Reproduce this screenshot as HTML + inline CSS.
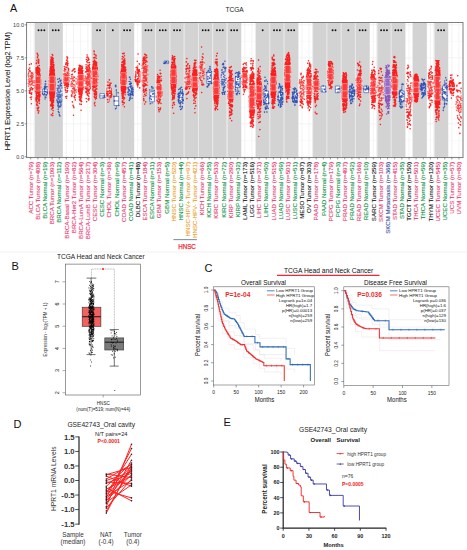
<!DOCTYPE html><html><head><meta charset="utf-8"><style>html,body{margin:0;padding:0;background:#fff;}svg{display:block}</style></head><body>
<svg width="467" height="550" viewBox="0 0 467 550">
<rect width="467" height="550" fill="#fff"/>
<text x="10.0" y="11.6" font-size="10.8" font-family="Liberation Sans, sans-serif" fill="#111">A</text>
<text x="234.6" y="12" font-size="6.6" text-anchor="middle" font-family="Liberation Sans, sans-serif" fill="#222">TCGA</text>
<path d="M26.6 24.80H463.0M26.6 57.80H463.0M26.6 90.80H463.0M26.6 123.80H463.0M26.6 156.80H463.0" stroke="#ebebeb" stroke-width="0.6" fill="none"/>
<path d="M26.6 41.30H463.0M26.6 74.30H463.0M26.6 107.30H463.0M26.6 140.30H463.0" stroke="#f4f4f4" stroke-width="0.5" fill="none"/>
<path d="M30.72 22.5V157.6M37.86 22.5V157.6M44.99 22.5V157.6M52.13 22.5V157.6M59.27 22.5V157.6M66.41 22.5V157.6M73.54 22.5V157.6M80.68 22.5V157.6M87.82 22.5V157.6M94.96 22.5V157.6M102.09 22.5V157.6M109.23 22.5V157.6M116.37 22.5V157.6M123.51 22.5V157.6M130.64 22.5V157.6M137.78 22.5V157.6M144.92 22.5V157.6M152.06 22.5V157.6M159.19 22.5V157.6M166.33 22.5V157.6M173.47 22.5V157.6M180.61 22.5V157.6M187.74 22.5V157.6M194.88 22.5V157.6M202.02 22.5V157.6M209.16 22.5V157.6M216.29 22.5V157.6M223.43 22.5V157.6M230.57 22.5V157.6M237.71 22.5V157.6M244.84 22.5V157.6M251.98 22.5V157.6M259.12 22.5V157.6M266.26 22.5V157.6M273.39 22.5V157.6M280.53 22.5V157.6M287.67 22.5V157.6M294.81 22.5V157.6M301.94 22.5V157.6M309.08 22.5V157.6M316.22 22.5V157.6M323.36 22.5V157.6M330.49 22.5V157.6M337.63 22.5V157.6M344.77 22.5V157.6M351.91 22.5V157.6M359.04 22.5V157.6M366.18 22.5V157.6M373.32 22.5V157.6M380.46 22.5V157.6M387.59 22.5V157.6M394.73 22.5V157.6M401.87 22.5V157.6M409.01 22.5V157.6M416.14 22.5V157.6M423.28 22.5V157.6M430.42 22.5V157.6M437.56 22.5V157.6M444.69 22.5V157.6M451.83 22.5V157.6M458.97 22.5V157.6" stroke="#ededed" stroke-width="0.6" fill="none"/>
<path d="M34.59 23.0H62.84V157.29999999999998H34.59ZM91.69 23.0H105.66V157.29999999999998H91.69ZM105.96 23.0H134.21V157.29999999999998H105.96ZM141.65 23.0H227.00V157.29999999999998H141.65ZM227.30 23.0H241.28V157.29999999999998H227.30ZM255.85 23.0H298.38V157.29999999999998H255.85ZM312.95 23.0H369.75V157.29999999999998H312.95ZM377.19 23.0H405.44V157.29999999999998H377.19ZM412.88 23.0H426.85V157.29999999999998H412.88ZM434.29 23.0H448.26V157.29999999999998H434.29Z" fill="#d3d3d3"/>
<path d="M48.51 23.0V157.29999999999998M34.24 23.0V157.29999999999998M91.34 23.0V157.29999999999998M119.89 23.0V157.29999999999998M105.61 23.0V157.29999999999998M155.57 23.0V157.29999999999998M169.85 23.0V157.29999999999998M184.12 23.0V157.29999999999998M198.40 23.0V157.29999999999998M212.68 23.0V157.29999999999998M141.30 23.0V157.29999999999998M226.95 23.0V157.29999999999998M269.77 23.0V157.29999999999998M284.05 23.0V157.29999999999998M255.50 23.0V157.29999999999998M326.88 23.0V157.29999999999998M341.15 23.0V157.29999999999998M355.42 23.0V157.29999999999998M312.60 23.0V157.29999999999998M391.11 23.0V157.29999999999998M376.84 23.0V157.29999999999998M412.52 23.0V157.29999999999998M433.94 23.0V157.29999999999998" stroke="#ececec" stroke-width="1.0"/>
<path d="M42.69 89H47.29V94.5H42.69ZM42.69 91.75H47.29M44.99 89V83M44.99 94.5V100" stroke="#2448b0" stroke-width="0.6" fill="#fff"/>
<path d="M99.79 93.6H104.39V98.2H99.79ZM99.79 95.9H104.39M102.09 93.6V93.6M102.09 98.2V98.2" stroke="#2448b0" stroke-width="0.6" fill="#fff"/>
<path d="M106.93 88H111.53V96H106.93ZM106.93 92.0H111.53M109.23 88V82M109.23 96V102" stroke="#ff0a0a" stroke-width="0.6" fill="#fff"/>
<path d="M114.07 96.4H118.67V105.5H114.07ZM114.07 100.95H118.67M116.37 96.4V90.4M116.37 105.5V109" stroke="#2448b0" stroke-width="0.6" fill="#fff"/>
<path d="M128.34 87H132.94V94.5H128.34ZM128.34 90.75H132.94M130.64 87V81M130.64 94.5V100" stroke="#2448b0" stroke-width="0.6" fill="#fff"/>
<path d="M135.48 71H140.08V82H135.48ZM135.48 76.5H140.08M137.78 71V65M137.78 82V88" stroke="#ff0a0a" stroke-width="0.6" fill="#fff"/>
<path d="M149.76 91.8H154.36V101.8H149.76ZM149.76 96.8H154.36M152.06 91.8V86M152.06 101.8V104" stroke="#2448b0" stroke-width="0.6" fill="#fff"/>
<path d="M164.03 61H168.63V63.6H164.03ZM164.03 62.3H168.63M166.33 61V61M166.33 63.6V63.6" stroke="#2448b0" stroke-width="0.6" fill="#fff"/>
<path d="M178.31 92.7H182.91V101.8H178.31ZM178.31 97.25H182.91M180.61 92.7V87M180.61 101.8V107.8" stroke="#2448b0" stroke-width="0.6" fill="#fff"/>
<path d="M206.86 72.7H211.46V83.6H206.86ZM206.86 78.15H211.46M209.16 72.7V68M209.16 83.6V85.5" stroke="#2448b0" stroke-width="0.6" fill="#fff"/>
<path d="M235.41 76.4H240.01V87.3H235.41ZM235.41 81.85H240.01M237.71 76.4V72M237.71 87.3V92.7" stroke="#2448b0" stroke-width="0.6" fill="#fff"/>
<path d="M263.96 91H268.56V103.6H263.96ZM263.96 97.3H268.56M266.26 91V85M266.26 103.6V109.6" stroke="#2448b0" stroke-width="0.6" fill="#fff"/>
<path d="M278.23 92.7H282.83V101.8H278.23ZM278.23 97.25H282.83M280.53 92.7V86.7M280.53 101.8V105.5" stroke="#2448b0" stroke-width="0.6" fill="#fff"/>
<path d="M292.51 92.7H297.11V101.8H292.51ZM292.51 97.25H297.11M294.81 92.7V87M294.81 101.8V103.6" stroke="#2448b0" stroke-width="0.6" fill="#fff"/>
<path d="M321.06 86H325.66V92H321.06ZM321.06 89.0H325.66M323.36 86V86M323.36 92V92" stroke="#2448b0" stroke-width="0.6" fill="#fff"/>
<path d="M335.33 86H339.93V92.7H335.33ZM335.33 89.35H339.93M337.63 86V86M337.63 92.7V92.7" stroke="#2448b0" stroke-width="0.6" fill="#fff"/>
<path d="M349.61 89H354.21V96.4H349.61ZM349.61 92.7H354.21M351.91 89V83M351.91 96.4V101.8" stroke="#2448b0" stroke-width="0.6" fill="#fff"/>
<path d="M363.88 86H368.48V92.7H363.88ZM363.88 89.35H368.48M366.18 86V86M366.18 92.7V92.7" stroke="#2448b0" stroke-width="0.6" fill="#fff"/>
<path d="M399.57 91H404.17V101.8H399.57ZM399.57 96.4H404.17M401.87 91V85.5M401.87 101.8V107.8" stroke="#2448b0" stroke-width="0.6" fill="#fff"/>
<path d="M420.98 84H425.58V92H420.98ZM420.98 88.0H425.58M423.28 84V80M423.28 92V96" stroke="#2448b0" stroke-width="0.6" fill="#fff"/>
<path d="M442.39 86H446.99V100H442.39ZM442.39 93.0H446.99M444.69 86V80M444.69 100V106" stroke="#2448b0" stroke-width="0.6" fill="#fff"/>
<path d="M449.53 82.7H454.13V90H449.53ZM449.53 86.35H454.13M451.83 82.7V76.7M451.83 90V96" stroke="#ff0a0a" stroke-width="0.6" fill="#fff"/>
<path d="M28.6 86.0h0M30.1 88.4h0M30.4 76.3h0M28.4 79.8h0M29.2 81.7h0M33.2 76.8h0M29.4 64.5h0M29.9 91.7h0M32.1 88.6h0M31.2 84.1h0M28.5 73.8h0M29.6 92.2h0M31.2 74.5h0M29.6 82.7h0M31.1 78.3h0M32.7 75.0h0M28.7 75.3h0M31.3 99.3h0M31.7 78.0h0M31.1 80.1h0M31.2 75.7h0M30.5 90.1h0M31.5 87.6h0M31.8 74.8h0M30.0 93.2h0M31.7 79.4h0M28.9 72.1h0M32.2 81.9h0M32.8 80.2h0M30.5 93.4h0M32.3 89.8h0M30.3 71.2h0M29.5 93.3h0M29.7 68.1h0M29.7 70.6h0M30.3 81.7h0M31.3 63.9h0M31.3 72.9h0M31.6 94.3h0M32.3 85.1h0M31.5 77.3h0M28.4 83.7h0M28.3 83.4h0M29.3 90.5h0M32.8 78.0h0M28.7 81.2h0M28.7 76.1h0M33.3 85.5h0M28.5 77.0h0M29.4 80.3h0M33.3 80.8h0M28.7 81.3h0M32.9 88.6h0M31.8 81.5h0M32.2 77.1h0M32.3 83.2h0M33.4 82.2h0M31.8 92.8h0M30.8 79.7h0M28.3 74.9h0M31.8 78.1h0M30.4 85.4h0M30.4 97.6h0M29.2 78.7h0M32.9 82.8h0M30.6 89.5h0M31.6 80.9h0M32.3 77.2h0M32.3 75.6h0M32.4 80.6h0M33.0 74.3h0M29.0 84.4h0M31.6 97.0h0M31.4 103.8h0M31.0 76.4h0M28.7 69.5h0M33.0 74.9h0M32.5 73.0h0M29.5 81.3h0M38.3 90.7h0M40.1 79.0h0M37.6 86.0h0M40.0 91.8h0M38.0 77.8h0M36.4 93.9h0M39.5 85.8h0M38.1 68.2h0M38.0 86.1h0M38.2 84.5h0M36.6 79.0h0M39.0 71.1h0M37.5 82.9h0M38.7 71.9h0M38.0 83.1h0M39.4 97.5h0M36.6 78.1h0M36.6 100.9h0M37.6 71.2h0M38.8 83.9h0M40.1 87.3h0M35.9 80.5h0M39.8 69.6h0M37.8 92.8h0M39.7 80.6h0M37.1 72.9h0M36.9 88.4h0M37.6 95.7h0M36.9 86.4h0M40.6 80.0h0M40.5 83.2h0M39.4 83.0h0M35.8 86.2h0M36.9 98.7h0M39.3 65.5h0M35.3 82.2h0M37.4 79.5h0M38.6 107.7h0M39.6 73.6h0M37.2 96.7h0M40.0 75.4h0M36.5 91.6h0M36.6 99.8h0M36.8 88.2h0M36.8 91.5h0M35.2 87.4h0M35.4 91.5h0M37.7 77.5h0M35.6 81.5h0M39.4 73.2h0M37.9 88.2h0M39.5 92.3h0M38.6 82.5h0M35.8 81.6h0M39.2 88.5h0M39.8 85.6h0M38.8 87.0h0M37.6 83.9h0M37.6 91.6h0M38.0 108.7h0M40.3 77.3h0M37.2 83.2h0M37.9 83.9h0M36.5 82.5h0M37.3 83.4h0M36.8 99.0h0M38.0 84.7h0M39.8 75.1h0M37.1 70.7h0M38.6 92.7h0M38.7 107.3h0M39.3 72.5h0M37.9 62.0h0M39.5 92.4h0M39.4 68.4h0M35.2 81.1h0M37.2 71.0h0M38.4 95.6h0M38.7 72.9h0M38.7 100.8h0M38.1 83.9h0M36.9 98.0h0M36.8 95.6h0M40.5 87.9h0M37.4 98.8h0M38.5 76.8h0M36.2 68.4h0M36.7 82.7h0M36.0 99.5h0M38.9 80.3h0M37.0 97.8h0M36.1 72.9h0M36.2 85.9h0M37.6 85.2h0M40.5 82.8h0M40.4 82.7h0M38.3 90.1h0M35.9 76.7h0M38.5 63.3h0M40.1 82.4h0M37.8 84.3h0M36.7 83.6h0M39.5 74.6h0M38.9 96.8h0M38.7 99.6h0M37.0 98.6h0M38.1 55.8h0M37.7 105.6h0M39.7 87.8h0M40.3 84.8h0M36.1 82.4h0M39.9 95.0h0M40.1 88.7h0M38.1 70.9h0M37.7 98.5h0M38.6 88.3h0M36.7 104.6h0M37.0 90.2h0M36.5 81.7h0M37.4 57.1h0M36.0 78.9h0M40.1 87.1h0M40.6 87.4h0M36.8 104.2h0M35.7 91.0h0M36.5 88.3h0M37.5 95.7h0M38.0 73.0h0M36.6 81.7h0M35.8 86.4h0M36.7 70.3h0M36.8 69.5h0M38.8 60.9h0M35.4 91.5h0M37.7 73.7h0M36.3 63.6h0M39.2 99.7h0M36.6 75.5h0M38.6 96.1h0M38.9 93.2h0M38.1 84.5h0M38.7 63.3h0M37.0 95.7h0M36.8 70.7h0M35.4 82.0h0M38.3 79.0h0M35.1 85.7h0M37.7 96.4h0M37.7 71.2h0M36.9 67.7h0M35.2 81.2h0M38.7 75.5h0M40.3 82.8h0M36.0 97.8h0M36.6 70.6h0M39.1 90.5h0M36.9 90.6h0M37.2 108.1h0M40.4 84.0h0M36.3 75.4h0M39.8 71.1h0M37.4 97.0h0M35.4 88.8h0M37.3 81.9h0M40.1 95.2h0M37.1 73.0h0M36.0 98.2h0M37.2 77.2h0M35.1 80.6h0M37.0 88.6h0M36.8 101.3h0M39.0 101.0h0M37.7 80.7h0M40.2 84.8h0M35.9 69.9h0M39.1 99.0h0M35.4 86.0h0M36.5 84.2h0M36.7 90.6h0M38.5 78.3h0M36.6 81.7h0M38.8 67.8h0M36.0 68.1h0M37.8 66.2h0M36.6 92.7h0M37.8 80.8h0M39.1 90.6h0M38.9 99.4h0M37.1 79.5h0M35.7 91.0h0M35.4 83.6h0M38.1 69.6h0M39.4 103.4h0M35.5 81.0h0M37.7 54.6h0M37.4 83.6h0M39.7 76.1h0M36.3 69.2h0M37.1 80.1h0M36.5 95.5h0M40.0 83.7h0M36.9 89.1h0M36.6 95.0h0M38.7 83.0h0M39.4 92.3h0M40.0 90.1h0M36.1 81.0h0M38.3 88.2h0M37.6 70.0h0M39.0 97.5h0M38.4 93.8h0M37.2 91.5h0M38.4 87.5h0M36.3 90.6h0M36.5 70.6h0M36.6 96.4h0M35.6 80.2h0M38.1 82.5h0M38.9 88.4h0M36.6 86.6h0M38.2 91.5h0M37.4 81.1h0M36.4 92.7h0M36.2 83.3h0M39.1 99.2h0M39.9 77.6h0M38.1 84.4h0M40.2 84.9h0M37.9 70.8h0M36.9 71.2h0M37.8 87.6h0M40.5 81.4h0M39.6 99.7h0M36.2 100.1h0M38.3 67.5h0M36.4 97.1h0M39.8 85.2h0M36.3 93.2h0M37.3 74.1h0M36.8 96.6h0M38.2 85.7h0M35.2 81.8h0M38.1 93.2h0M36.9 92.3h0M38.6 74.7h0M37.5 78.4h0M36.8 67.9h0M39.3 75.9h0M35.7 88.2h0M37.6 102.3h0M36.4 63.0h0M35.5 87.6h0M35.3 85.5h0M37.3 72.1h0M40.0 96.0h0M39.1 97.9h0M40.0 94.7h0M36.0 82.2h0M37.0 86.7h0M35.9 82.0h0M35.9 80.7h0M39.3 101.1h0M36.8 82.6h0M36.9 105.3h0M39.5 97.0h0M39.4 77.8h0M37.5 57.8h0M38.2 80.9h0M40.6 86.9h0M37.3 80.4h0M38.3 80.8h0M38.4 112.9h0M35.5 90.6h0M36.9 97.8h0M38.6 96.3h0M35.0 82.2h0M37.6 98.5h0M39.7 94.3h0M35.2 87.3h0M37.5 110.0h0M38.3 75.3h0M36.3 88.9h0M40.2 78.4h0M35.9 84.3h0M38.6 59.4h0M36.9 68.5h0M37.3 69.0h0M37.6 73.7h0M40.2 82.7h0M38.0 69.7h0M39.4 83.8h0M38.1 89.9h0M38.5 87.5h0M38.6 88.5h0M36.7 87.3h0M39.5 97.6h0M39.8 83.3h0M37.7 82.4h0M35.8 76.9h0M35.2 85.5h0M39.8 83.5h0M36.9 68.6h0M37.9 67.8h0M38.6 90.2h0M35.2 87.6h0M37.0 103.0h0M37.2 98.6h0M36.9 78.0h0M38.7 94.9h0M40.3 76.0h0M39.7 91.5h0M38.8 70.8h0M38.5 81.1h0M39.7 95.4h0M40.0 92.1h0M35.8 84.3h0M38.2 110.8h0M39.2 87.3h0M39.1 68.8h0M40.0 78.5h0M38.9 111.0h0M37.2 53.4h0M39.5 91.2h0M36.7 89.7h0M36.8 60.4h0M37.4 85.9h0M36.9 99.0h0M36.8 81.5h0M37.9 74.4h0M37.4 81.7h0M39.4 81.9h0M36.3 80.1h0M36.0 72.0h0M36.2 83.7h0M40.6 83.9h0M38.7 62.2h0M37.8 84.1h0M40.3 87.2h0M36.4 77.0h0M38.6 78.8h0M39.5 83.6h0M37.0 86.6h0M37.4 70.3h0M36.2 100.9h0M36.7 93.9h0M39.7 74.0h0M37.6 83.4h0M38.7 84.0h0M37.2 67.3h0M39.1 91.4h0M37.6 71.6h0M37.6 79.1h0M36.4 81.1h0M39.7 78.7h0M36.5 97.8h0M36.0 78.1h0M36.4 93.9h0M40.5 82.9h0M53.5 73.0h0M52.2 82.0h0M52.8 63.0h0M52.9 78.0h0M54.3 73.6h0M53.2 82.1h0M54.9 83.9h0M49.7 78.6h0M51.7 82.2h0M53.3 84.4h0M53.5 82.8h0M52.3 90.4h0M50.5 86.6h0M53.1 66.1h0M52.5 76.3h0M54.5 75.4h0M53.6 72.0h0M51.3 69.8h0M51.5 96.4h0M51.1 96.5h0M50.3 83.3h0M52.8 102.9h0M52.0 83.8h0M52.8 91.7h0M53.6 69.1h0M52.8 115.6h0M54.0 84.6h0M49.5 78.3h0M51.5 109.1h0M50.3 75.5h0M50.2 85.0h0M53.6 74.7h0M53.5 93.8h0M54.1 75.1h0M53.2 86.9h0M53.4 78.1h0M51.0 92.6h0M50.3 75.2h0M50.4 93.6h0M52.1 87.4h0M54.1 84.2h0M52.5 82.7h0M51.7 88.6h0M50.0 75.6h0M52.8 82.0h0M54.6 81.7h0M52.1 95.0h0M49.5 82.2h0M54.1 77.3h0M52.0 77.3h0M51.8 84.4h0M52.4 76.9h0M51.6 78.7h0M51.3 101.0h0M53.3 97.4h0M51.1 81.3h0M53.4 71.7h0M53.1 70.0h0M51.0 80.5h0M50.4 81.8h0M53.5 72.5h0M52.7 74.6h0M52.6 73.1h0M50.8 72.8h0M50.6 67.7h0M49.6 87.8h0M51.5 95.6h0M53.6 76.2h0M51.7 83.1h0M51.8 91.7h0M52.5 86.5h0M50.0 81.0h0M52.0 64.2h0M51.8 64.7h0M52.1 108.7h0M50.3 73.1h0M49.4 84.8h0M53.0 93.8h0M54.0 91.2h0M49.4 81.8h0M50.4 84.3h0M52.7 113.4h0M50.1 93.1h0M53.1 71.2h0M54.6 90.2h0M49.4 80.4h0M50.8 63.7h0M53.1 69.0h0M49.8 90.7h0M52.5 74.9h0M53.8 81.1h0M52.9 78.6h0M53.6 75.2h0M53.7 88.2h0M54.8 82.6h0M54.0 86.8h0M53.1 62.5h0M51.4 67.1h0M53.1 90.7h0M54.2 77.4h0M50.8 83.4h0M52.6 84.0h0M54.0 85.7h0M54.2 81.7h0M53.9 80.7h0M53.5 102.2h0M53.5 94.1h0M53.5 89.8h0M53.1 84.8h0M50.9 96.7h0M51.9 83.6h0M50.9 94.5h0M53.7 67.9h0M52.5 72.6h0M50.4 82.0h0M52.5 80.7h0M52.2 74.7h0M51.7 100.9h0M51.1 61.8h0M51.5 70.9h0M54.9 86.0h0M52.1 83.8h0M51.7 82.3h0M53.1 100.3h0M49.7 90.7h0M50.3 81.8h0M53.2 105.8h0M54.6 87.4h0M51.7 95.5h0M54.3 93.2h0M54.1 70.8h0M51.6 78.0h0M54.2 97.0h0M50.8 104.7h0M53.9 71.0h0M50.5 100.2h0M54.8 80.0h0M51.3 57.8h0M51.3 97.0h0M53.5 78.1h0M50.1 77.2h0M50.4 90.2h0M49.7 92.6h0M50.7 94.9h0M54.1 95.2h0M54.3 80.5h0M54.3 75.6h0M52.9 84.9h0M52.0 73.9h0M50.7 98.7h0M52.3 97.8h0M53.9 93.6h0M50.9 78.7h0M51.2 86.5h0M54.2 75.0h0M54.9 84.4h0M51.3 105.1h0M51.1 74.7h0M54.9 86.3h0M54.2 92.3h0M50.0 73.9h0M51.5 103.5h0M51.6 101.0h0M49.3 86.9h0M51.8 77.4h0M50.5 82.5h0M53.6 87.4h0M50.5 88.2h0M52.1 105.0h0M50.6 90.4h0M52.6 78.9h0M50.6 66.4h0M50.2 70.5h0M51.3 91.9h0M49.6 90.9h0M52.0 75.0h0M54.0 82.9h0M50.3 89.7h0M52.2 82.7h0M52.2 83.0h0M54.0 76.0h0M52.9 66.1h0M54.3 83.5h0M52.1 80.1h0M50.0 71.7h0M50.6 81.2h0M53.8 89.4h0M50.1 91.9h0M52.7 84.1h0M52.3 85.2h0M53.0 99.1h0M51.1 105.8h0M50.2 75.7h0M50.1 83.5h0M52.5 87.0h0M50.3 79.3h0M51.7 92.4h0M52.3 79.8h0M51.5 99.1h0M51.3 77.5h0M53.6 100.9h0M54.1 81.4h0M54.5 78.5h0M51.5 71.4h0M49.9 89.9h0M50.1 81.5h0M53.7 83.4h0M53.9 71.7h0M50.1 70.4h0M50.8 82.1h0M53.8 98.0h0M51.8 83.5h0M51.2 95.2h0M52.7 80.6h0M52.2 79.6h0M50.5 71.8h0M50.1 88.3h0M50.8 76.9h0M52.4 91.9h0M52.9 73.8h0M53.2 75.5h0M52.0 70.8h0M50.7 79.5h0M52.5 74.0h0M51.3 82.1h0M52.1 84.4h0M54.3 95.8h0M49.7 84.3h0M51.8 77.9h0M53.1 68.4h0M50.9 96.3h0M51.2 83.1h0M53.1 77.9h0M52.2 94.1h0M53.1 69.0h0M52.9 66.7h0M50.0 86.1h0M52.4 100.0h0M54.8 83.9h0M53.6 68.8h0M51.5 91.9h0M51.3 68.5h0M52.4 87.6h0M53.9 76.1h0M51.9 98.8h0M52.6 81.7h0M49.9 88.6h0M53.8 75.2h0M51.0 100.2h0M49.6 84.7h0M52.1 82.7h0M55.0 85.3h0M52.2 71.6h0M52.6 76.5h0M54.5 89.3h0M51.4 79.1h0M52.5 82.8h0M52.1 101.7h0M52.6 66.4h0M53.8 76.9h0M51.3 93.4h0M50.0 88.8h0M53.0 73.2h0M51.9 103.7h0M50.9 82.3h0M50.4 77.3h0M52.7 83.3h0M50.2 97.3h0M53.8 83.0h0M51.0 83.2h0M52.6 82.7h0M52.4 87.2h0M52.8 94.2h0M51.7 96.1h0M50.2 83.1h0M50.3 87.0h0M53.9 86.3h0M49.4 84.7h0M51.1 80.3h0M50.8 79.9h0M54.1 92.4h0M51.5 77.3h0M53.6 99.8h0M52.7 93.6h0M49.6 80.9h0M54.3 88.6h0M51.1 76.8h0M54.2 94.5h0M51.5 80.7h0M54.3 85.0h0M53.6 91.7h0M50.4 87.7h0M51.1 91.6h0M51.6 92.5h0M49.9 91.4h0M50.8 91.3h0M51.0 75.5h0M51.5 97.5h0M53.3 86.6h0M50.1 79.2h0M53.3 101.7h0M53.3 88.4h0M54.5 91.1h0M50.9 94.4h0M50.1 80.0h0M52.6 82.1h0M51.4 104.2h0M50.1 88.1h0M52.3 102.6h0M53.0 84.8h0M51.2 74.0h0M54.0 88.7h0M53.0 86.6h0M52.1 67.4h0M49.7 80.0h0M53.4 84.2h0M51.6 88.5h0M54.2 86.6h0M53.2 82.8h0M51.3 85.8h0M50.9 75.4h0M51.5 70.9h0M54.5 85.5h0M53.3 87.9h0M50.7 94.1h0M51.5 84.9h0M50.6 73.7h0M52.4 96.3h0M53.2 83.2h0M49.8 93.8h0M49.5 84.8h0M52.7 75.7h0M53.8 83.8h0M54.4 88.2h0M51.7 96.3h0M53.8 91.2h0M51.9 103.3h0M53.0 96.0h0M51.9 90.1h0M52.7 60.8h0M51.1 61.4h0M49.5 81.8h0M52.4 86.1h0M52.8 76.4h0M51.3 83.5h0M50.5 86.9h0M52.9 93.4h0M51.0 95.0h0M51.7 62.2h0M54.1 91.2h0M53.4 68.2h0M53.6 80.1h0M51.9 77.0h0M53.6 72.2h0M50.5 79.2h0M51.3 100.4h0M50.0 80.3h0M52.0 73.4h0M49.4 85.3h0M53.5 86.8h0M52.4 72.9h0M51.1 63.9h0M49.3 84.2h0M54.3 75.1h0M51.0 72.8h0M53.7 85.0h0M51.0 85.3h0M54.0 71.4h0M53.3 69.2h0M50.3 83.1h0M51.2 74.9h0M53.8 74.7h0M49.6 80.6h0M53.0 71.1h0M54.0 70.6h0M51.1 77.8h0M49.7 83.5h0M54.7 88.9h0M50.5 100.5h0M49.5 89.1h0M53.6 97.9h0M53.0 76.5h0M51.7 87.1h0M53.5 70.2h0M50.3 88.9h0M51.4 71.8h0M49.8 87.9h0M53.2 58.5h0M54.6 89.8h0M50.2 70.6h0M52.6 71.4h0M52.1 61.9h0M51.2 73.2h0M50.4 85.2h0M51.8 82.0h0M52.5 74.0h0M52.3 75.6h0M50.4 79.7h0M52.4 86.4h0M50.1 92.6h0M50.8 77.9h0M52.5 77.0h0M52.2 79.1h0M50.0 92.2h0M54.1 88.3h0M50.0 79.9h0M53.0 67.6h0M50.5 92.4h0M52.4 75.0h0M50.1 94.4h0M51.6 96.2h0M51.2 72.9h0M51.7 79.8h0M52.4 69.3h0M53.7 70.0h0M53.6 83.2h0M53.7 74.7h0M53.5 62.5h0M50.0 94.8h0M53.6 93.4h0M53.9 97.1h0M51.8 83.3h0M52.6 89.8h0M53.6 92.3h0M52.4 84.1h0M50.2 79.9h0M52.3 74.8h0M49.7 91.9h0M51.1 61.5h0M50.1 95.6h0M53.5 71.1h0M50.4 74.9h0M51.6 90.4h0M51.2 80.6h0M54.4 81.0h0M51.4 89.2h0M52.6 85.1h0M52.6 82.9h0M49.4 84.3h0M50.1 86.4h0M50.8 83.2h0M52.5 76.0h0M54.7 83.5h0M53.3 95.6h0M53.7 86.1h0M51.0 77.4h0M54.1 76.6h0M53.6 80.1h0M52.2 76.0h0M51.6 76.3h0M51.6 102.3h0M51.5 94.6h0M50.6 82.7h0M54.2 84.3h0M51.8 84.4h0M49.7 81.6h0M51.1 89.1h0M51.7 61.9h0M52.6 76.3h0M54.4 94.0h0M53.4 95.0h0M52.0 86.0h0M50.9 80.8h0M50.9 89.2h0M50.5 84.3h0M54.1 87.5h0M50.8 96.0h0M50.3 96.3h0M54.2 80.5h0M52.3 87.6h0M52.9 88.2h0M53.5 85.5h0M51.7 91.9h0M51.6 81.8h0M52.8 88.9h0M51.1 70.4h0M49.4 84.0h0M51.1 57.1h0M53.2 72.3h0M50.2 88.2h0M49.8 86.6h0M52.5 72.8h0M53.0 89.1h0M50.9 75.8h0M53.2 97.4h0M54.7 77.4h0M51.3 99.0h0M49.4 88.3h0M53.0 81.6h0M51.2 64.5h0M51.0 105.7h0M52.1 87.8h0M50.3 86.0h0M50.3 79.8h0M54.5 87.6h0M51.2 100.0h0M52.1 86.5h0M51.9 73.8h0M53.8 97.9h0M53.0 82.8h0M54.2 80.0h0M53.6 66.1h0M52.8 79.6h0M51.8 83.4h0M50.6 91.0h0M54.8 78.4h0M52.5 77.1h0M51.1 96.2h0M53.4 68.7h0M54.2 78.0h0M53.0 93.2h0M53.8 71.3h0M54.3 87.2h0M50.4 87.1h0M53.8 64.5h0M54.7 88.2h0M54.5 84.9h0M50.2 83.1h0M49.9 79.1h0M53.7 96.9h0M49.7 76.0h0M49.6 87.4h0M51.0 69.2h0M54.9 85.0h0M54.3 84.7h0M51.8 73.6h0M53.2 83.9h0M49.9 81.9h0M52.1 72.1h0M54.7 79.6h0M53.4 89.0h0M49.7 86.9h0M52.2 96.4h0M49.7 74.9h0M53.0 80.3h0M54.1 69.4h0M53.3 79.0h0M54.7 79.3h0M51.6 92.7h0M50.7 105.1h0M53.1 110.6h0M50.8 76.3h0M50.1 77.5h0M49.7 88.0h0M51.6 62.8h0M54.5 75.5h0M53.5 78.7h0M54.3 70.6h0M52.9 82.7h0M51.6 72.4h0M52.7 94.0h0M52.4 77.5h0M52.6 95.8h0M53.2 92.7h0M52.0 77.6h0M52.2 97.4h0M52.2 100.8h0M54.0 83.9h0M52.9 89.4h0M50.4 98.8h0M53.6 71.5h0M50.8 87.5h0M51.4 90.9h0M50.2 73.0h0M55.0 82.1h0M53.5 73.0h0M50.2 87.0h0M50.8 75.6h0M51.3 92.2h0M52.5 89.9h0M50.3 84.9h0M50.7 82.2h0M50.1 92.0h0M51.7 87.6h0M52.8 78.5h0M51.5 93.6h0M51.0 86.3h0M51.4 73.0h0M52.5 69.3h0M53.2 92.8h0M52.6 107.6h0M51.6 98.2h0M52.1 90.5h0M52.7 83.6h0M51.9 81.3h0M54.0 74.1h0M52.1 89.1h0M53.4 90.0h0M50.2 70.6h0M53.2 67.9h0M50.8 73.0h0M49.8 87.0h0M52.5 79.4h0M52.1 71.3h0M52.6 57.2h0M53.3 66.3h0M52.2 88.8h0M54.2 96.6h0M50.7 82.9h0M52.4 91.9h0M51.0 80.7h0M53.8 85.0h0M49.6 83.2h0M51.5 90.0h0M51.6 70.7h0M50.4 84.4h0M51.1 80.6h0M51.6 82.4h0M53.8 80.1h0M53.2 90.4h0M54.3 74.6h0M54.2 77.7h0M50.9 59.5h0M49.8 89.1h0M52.4 92.8h0M52.1 103.3h0M50.5 79.8h0M50.3 76.3h0M49.8 84.7h0M54.6 87.8h0M54.4 79.5h0M50.3 77.2h0M54.0 81.7h0M50.6 80.8h0M50.3 78.3h0M51.3 94.8h0M54.4 93.5h0M50.2 97.7h0M52.4 79.1h0M52.0 73.4h0M50.5 70.3h0M50.1 89.7h0M52.2 106.4h0M51.3 82.9h0M51.0 61.2h0M54.2 84.0h0M50.1 79.5h0M54.4 82.4h0M49.5 86.6h0M53.5 105.3h0M50.2 96.8h0M51.9 78.7h0M53.8 83.2h0M49.8 77.4h0M53.5 93.6h0M51.9 90.4h0M52.9 75.2h0M52.6 82.8h0M50.5 73.4h0M54.2 93.6h0M52.0 94.3h0M51.3 114.9h0M52.3 94.6h0M52.3 72.7h0M51.4 84.7h0M50.1 78.1h0M54.2 87.2h0M54.7 84.8h0M53.8 82.4h0M53.5 80.9h0M50.9 77.0h0M51.4 66.1h0M50.0 90.8h0M53.7 84.8h0M50.3 96.5h0M50.8 61.1h0M52.9 67.4h0M51.9 73.8h0M50.2 98.3h0M50.1 75.1h0M53.4 88.7h0M50.2 88.7h0M50.7 90.7h0M53.7 78.5h0M53.6 66.7h0M52.9 83.8h0M53.3 70.3h0M52.7 58.3h0M52.9 96.7h0M51.1 104.9h0M52.9 102.9h0M53.7 75.4h0M53.2 66.9h0M51.1 90.6h0M51.1 60.6h0M53.7 78.9h0M50.5 87.2h0M50.7 77.5h0M53.1 95.8h0M53.6 75.5h0M53.7 74.1h0M50.9 62.4h0M52.7 88.0h0M53.6 75.9h0M50.0 80.2h0M51.7 83.6h0M50.7 75.1h0M54.1 85.8h0M50.8 82.4h0M51.8 87.5h0M53.2 85.2h0M53.7 74.8h0M51.4 80.2h0M53.2 107.6h0M52.1 91.1h0M52.2 77.5h0M50.4 90.3h0M50.3 100.4h0M53.6 93.5h0M51.3 79.9h0M52.2 71.6h0M52.7 102.0h0M52.6 66.6h0M52.9 92.4h0M51.4 81.1h0M52.1 74.1h0M53.7 64.6h0M52.4 97.7h0M53.2 70.9h0M49.5 81.4h0M50.8 67.5h0M52.6 87.7h0M49.6 80.1h0M50.9 83.3h0M51.3 69.6h0M52.5 60.0h0M52.9 96.3h0M52.9 98.3h0M50.2 80.0h0M51.4 91.4h0M52.2 54.5h0M50.5 91.8h0M50.3 97.0h0M53.7 64.8h0M51.4 100.5h0M51.8 86.3h0M51.2 98.8h0M51.4 64.8h0M53.6 99.9h0M53.6 90.7h0M50.6 71.7h0M52.9 71.3h0M50.9 85.8h0M51.1 93.8h0M50.8 77.6h0M52.4 101.0h0M54.5 88.2h0M52.4 83.7h0M53.1 87.2h0M51.0 85.2h0M54.7 79.1h0M51.6 77.5h0M53.1 67.9h0M51.5 69.8h0M53.9 94.4h0M53.8 69.2h0M51.2 79.9h0M53.3 64.9h0M52.5 89.4h0M53.9 76.6h0M54.0 80.0h0M52.1 75.8h0M53.8 69.2h0M54.2 89.5h0M52.7 59.5h0M49.8 77.6h0M53.9 78.5h0M49.8 85.1h0M54.6 90.2h0M50.1 74.0h0M51.3 95.1h0M51.0 76.6h0M51.8 76.2h0M54.0 84.5h0M50.6 78.6h0M52.5 78.8h0M53.7 90.8h0M52.3 92.9h0M52.8 55.2h0M50.7 64.2h0M53.4 83.2h0M52.6 74.1h0M54.1 90.3h0M51.3 91.7h0M51.0 60.2h0M53.1 90.6h0M51.9 91.4h0M50.9 87.1h0M53.3 92.6h0M53.2 77.5h0M50.8 85.9h0M53.4 75.7h0M53.2 58.7h0M50.5 82.8h0M54.1 77.0h0M51.3 78.3h0M52.8 78.0h0M50.3 82.5h0M54.4 86.2h0M50.0 79.2h0M53.7 84.8h0M53.0 104.8h0M54.0 82.2h0M52.2 101.8h0M50.9 91.4h0M53.3 107.8h0M51.8 75.2h0M53.6 70.3h0M50.8 105.9h0M49.6 75.4h0M53.7 78.7h0M52.2 103.0h0M51.3 93.8h0M52.8 91.9h0M50.8 76.1h0M52.6 80.1h0M50.5 89.3h0M53.1 71.7h0M49.9 76.5h0M51.7 93.8h0M53.3 87.1h0M52.0 74.7h0M53.3 60.7h0M54.7 90.1h0M51.5 86.2h0M53.4 89.6h0M51.0 60.2h0M49.6 84.4h0M54.6 81.0h0M52.8 73.0h0M51.4 63.8h0M50.6 99.7h0M53.3 85.4h0M52.2 85.5h0M53.5 73.2h0M54.1 84.1h0M54.0 83.2h0M53.6 74.0h0M50.5 66.6h0M49.4 81.0h0M49.8 92.9h0M50.0 87.5h0M50.7 73.6h0M52.3 103.9h0M50.7 100.4h0M50.3 94.5h0M51.4 68.3h0M54.6 91.4h0M49.8 94.1h0M52.4 104.8h0M51.9 93.2h0M54.1 72.8h0M53.6 74.5h0M49.7 91.5h0M53.6 70.4h0M54.6 87.9h0M53.3 79.3h0M51.1 80.7h0M51.9 99.7h0M53.3 70.8h0M53.8 65.0h0M51.6 82.4h0M51.0 97.3h0M53.5 91.1h0M54.3 79.4h0M53.9 79.0h0M52.9 82.6h0M51.3 59.1h0M52.9 77.7h0M54.2 92.7h0M54.7 79.7h0M54.4 87.0h0M51.2 98.2h0M51.8 89.5h0M53.2 83.1h0M50.7 83.6h0M52.9 69.6h0M52.9 82.0h0M52.5 108.4h0M49.7 80.7h0M50.2 68.8h0M52.1 86.5h0M53.2 87.2h0M49.9 84.2h0M51.6 77.5h0M50.5 68.8h0M51.3 88.8h0M51.2 101.3h0M53.8 87.0h0M50.4 83.3h0M50.2 84.8h0M50.7 71.3h0M50.5 69.4h0M52.5 73.1h0M50.0 92.9h0M54.6 89.3h0M53.4 79.4h0M51.4 86.8h0M50.1 76.3h0M51.5 85.8h0M50.7 75.9h0M51.4 85.3h0M52.0 92.8h0M53.5 97.1h0M49.5 88.0h0M53.2 91.5h0M50.5 97.1h0M51.8 86.7h0M50.2 95.3h0M52.3 61.2h0M50.7 91.8h0M53.7 65.4h0M50.1 76.0h0M50.4 76.4h0M50.5 82.4h0M51.9 79.5h0M50.9 105.4h0M53.0 80.8h0M50.1 89.5h0M49.5 77.4h0M52.2 84.2h0M52.3 89.1h0M52.8 70.3h0M53.9 83.7h0M51.4 82.3h0M51.1 64.4h0M50.6 66.5h0M50.1 71.5h0M53.5 87.5h0M54.5 88.4h0M54.7 82.8h0M52.0 82.1h0M54.4 94.2h0M50.6 79.9h0M51.9 94.9h0M51.7 91.8h0M53.1 81.4h0M53.8 75.8h0M52.7 91.3h0M53.1 71.6h0M50.8 90.2h0M65.0 76.9h0M66.0 63.5h0M65.6 82.4h0M65.6 83.1h0M64.8 84.9h0M67.3 64.6h0M68.5 75.2h0M66.2 74.7h0M68.5 79.0h0M65.8 64.4h0M63.9 81.6h0M64.9 80.2h0M65.7 96.7h0M65.9 81.3h0M67.1 82.4h0M66.2 74.8h0M68.5 75.9h0M64.4 70.4h0M66.3 80.6h0M68.2 69.0h0M65.6 78.3h0M67.4 83.0h0M66.9 79.6h0M67.6 75.5h0M67.9 83.7h0M65.6 81.2h0M64.8 76.1h0M68.1 63.7h0M68.4 68.3h0M65.5 84.1h0M66.7 76.0h0M67.3 72.0h0M66.6 60.2h0M66.7 82.8h0M67.6 90.7h0M63.9 80.8h0M68.6 74.3h0M68.4 84.6h0M64.4 74.1h0M67.0 79.0h0M65.3 69.5h0M64.5 68.6h0M65.5 75.2h0M65.0 76.4h0M64.7 71.3h0M66.9 80.4h0M67.8 73.8h0M68.3 75.1h0M64.1 71.0h0M64.0 73.7h0M67.4 77.6h0M67.6 57.9h0M67.9 79.0h0M65.9 77.8h0M65.3 80.5h0M64.7 77.1h0M66.4 79.4h0M68.6 68.9h0M68.9 77.5h0M64.4 79.6h0M64.5 85.5h0M65.7 83.6h0M65.6 75.0h0M68.4 73.3h0M63.7 79.1h0M67.1 75.6h0M65.9 69.9h0M67.3 73.8h0M68.4 85.1h0M67.2 59.0h0M67.1 86.8h0M66.0 84.9h0M64.3 73.5h0M65.4 77.0h0M66.4 74.9h0M66.6 81.7h0M67.2 72.5h0M67.0 73.0h0M65.2 82.6h0M68.6 71.4h0M65.2 80.9h0M67.5 78.3h0M64.9 69.3h0M64.9 79.1h0M65.3 69.4h0M68.9 73.6h0M67.7 61.2h0M65.3 89.3h0M68.4 73.1h0M67.3 88.5h0M68.6 84.5h0M64.0 83.0h0M67.1 77.8h0M67.0 81.0h0M69.0 80.3h0M65.9 84.0h0M64.9 75.5h0M65.1 87.6h0M64.4 76.1h0M66.6 76.3h0M63.8 74.0h0M66.1 78.9h0M66.9 67.5h0M67.6 63.0h0M66.7 86.8h0M67.4 82.5h0M67.5 88.3h0M68.1 75.8h0M67.4 76.4h0M69.0 75.5h0M68.5 69.3h0M65.1 73.7h0M67.9 82.8h0M67.2 85.9h0M67.0 56.9h0M68.4 73.3h0M65.2 73.8h0M67.2 90.7h0M67.2 92.0h0M66.1 84.4h0M64.3 71.3h0M64.4 81.1h0M66.1 79.9h0M67.3 76.0h0M66.4 98.3h0M65.2 78.8h0M68.2 86.6h0M66.7 84.0h0M67.9 76.4h0M68.8 81.2h0M64.4 71.1h0M64.2 83.1h0M66.6 85.0h0M65.8 83.4h0M67.9 83.9h0M68.2 70.8h0M63.8 76.9h0M67.3 65.4h0M68.8 78.7h0M64.7 85.0h0M66.4 86.4h0M66.3 84.9h0M65.6 90.5h0M67.0 79.3h0M67.2 91.7h0M66.2 62.9h0M68.5 71.1h0M65.0 71.6h0M67.7 65.8h0M67.4 80.2h0M65.9 74.6h0M66.4 81.7h0M65.7 82.6h0M64.5 77.2h0M65.8 67.1h0M66.9 80.4h0M65.8 76.1h0M64.7 75.8h0M65.2 79.5h0M66.9 60.6h0M68.6 69.8h0M67.0 62.9h0M67.0 72.7h0M68.9 81.7h0M63.6 74.6h0M64.3 78.8h0M67.2 84.6h0M66.8 96.3h0M64.3 66.7h0M65.9 92.3h0M68.3 83.8h0M68.3 76.9h0M68.3 79.0h0M75.5 95.1h0M72.7 92.9h0M73.1 78.6h0M75.3 99.9h0M74.5 97.8h0M74.4 90.3h0M76.1 91.9h0M71.9 76.8h0M73.8 77.0h0M71.6 90.7h0M71.6 81.7h0M73.6 87.1h0M73.9 80.8h0M71.0 84.1h0M72.0 85.1h0M72.1 86.3h0M73.5 115.2h0M72.1 78.2h0M74.9 97.8h0M74.1 85.1h0M72.6 88.6h0M74.4 88.3h0M76.0 81.9h0M71.9 94.9h0M74.5 77.2h0M72.4 101.9h0M73.9 107.7h0M74.1 96.8h0M72.1 71.1h0M74.8 85.2h0M73.2 91.6h0M71.8 96.4h0M73.0 91.5h0M71.2 85.6h0M72.4 93.1h0M72.0 85.2h0M71.6 82.1h0M73.7 69.8h0M73.6 88.9h0M71.8 83.6h0M72.8 70.3h0M75.3 85.9h0M71.6 91.6h0M74.5 93.0h0M74.8 88.0h0M71.3 85.1h0M74.5 96.0h0M74.6 89.2h0M76.3 83.9h0M71.0 78.9h0M74.3 80.7h0M74.8 68.9h0M74.4 91.7h0M71.5 95.8h0M73.0 105.3h0M74.0 89.3h0M74.0 69.1h0M73.6 80.4h0M72.6 83.3h0M72.3 74.4h0M73.6 84.8h0M72.2 74.7h0M72.4 91.6h0M73.6 81.3h0M75.1 71.5h0M73.0 80.6h0M75.3 90.4h0M73.3 84.8h0M72.5 79.7h0M71.9 85.9h0M74.6 71.9h0M74.6 80.2h0M71.6 74.8h0M73.6 106.5h0M76.1 89.8h0M71.3 86.5h0M74.7 93.0h0M73.5 81.0h0M75.7 90.4h0M73.1 91.6h0M76.0 78.8h0M83.0 84.3h0M79.8 86.2h0M79.1 87.3h0M80.0 75.4h0M80.3 94.3h0M79.4 75.8h0M78.7 69.2h0M82.1 85.8h0M79.0 75.9h0M79.7 71.1h0M82.3 70.9h0M81.1 81.9h0M78.7 91.4h0M80.7 74.0h0M80.2 83.8h0M82.7 87.5h0M82.2 92.1h0M81.2 80.2h0M81.8 94.7h0M82.2 84.1h0M80.0 83.4h0M81.4 80.5h0M80.1 86.3h0M78.8 72.2h0M83.5 80.9h0M78.5 70.5h0M78.4 83.3h0M79.7 72.0h0M80.8 84.7h0M80.6 85.4h0M82.4 89.2h0M79.8 86.2h0M81.0 75.5h0M80.3 98.1h0M81.1 100.1h0M82.6 77.4h0M80.3 87.1h0M78.9 75.5h0M81.5 87.0h0M82.2 75.9h0M82.5 84.0h0M79.1 80.5h0M81.7 78.8h0M79.3 71.6h0M81.5 80.9h0M78.6 80.1h0M79.3 92.3h0M78.7 76.8h0M81.2 90.1h0M80.9 72.4h0M81.9 92.1h0M82.6 82.3h0M81.9 89.3h0M82.3 87.5h0M78.5 89.5h0M83.1 87.6h0M78.9 79.0h0M80.8 96.2h0M82.0 93.5h0M80.9 75.2h0M79.8 85.8h0M78.3 77.8h0M78.6 83.3h0M83.1 79.0h0M82.6 87.0h0M79.9 67.4h0M82.3 86.0h0M83.1 81.2h0M81.3 84.2h0M80.5 88.5h0M80.5 90.6h0M81.9 87.1h0M79.3 79.0h0M79.2 76.2h0M80.0 84.2h0M82.1 78.9h0M82.8 80.7h0M82.0 82.6h0M80.2 88.0h0M80.6 91.0h0M81.7 95.6h0M82.5 79.5h0M79.9 66.7h0M81.1 73.0h0M80.3 81.6h0M82.5 84.3h0M81.2 74.9h0M79.7 90.6h0M82.0 90.7h0M81.6 84.2h0M79.2 72.8h0M79.5 65.2h0M82.6 85.8h0M81.1 83.8h0M80.5 84.9h0M82.3 71.9h0M82.9 87.5h0M80.9 94.1h0M79.1 84.0h0M79.2 76.2h0M81.3 92.9h0M81.5 77.8h0M78.7 81.1h0M82.6 80.4h0M78.2 77.0h0M78.5 86.1h0M79.3 83.9h0M82.1 73.2h0M78.5 82.6h0M78.7 87.9h0M82.3 81.1h0M82.1 81.3h0M83.1 82.9h0M83.2 79.6h0M80.4 83.6h0M80.5 82.5h0M80.4 65.7h0M80.9 70.8h0M81.1 87.2h0M79.2 65.7h0M82.7 75.1h0M81.2 92.0h0M80.5 81.7h0M81.8 73.2h0M81.3 92.9h0M80.3 79.8h0M81.2 79.3h0M79.7 89.1h0M79.8 89.4h0M82.0 82.2h0M82.9 73.7h0M78.9 78.4h0M80.7 73.1h0M79.7 87.8h0M80.1 87.6h0M79.7 83.7h0M81.5 101.8h0M78.5 81.0h0M80.5 68.4h0M82.2 83.3h0M79.0 89.1h0M82.6 89.4h0M78.4 73.0h0M83.0 77.6h0M78.8 69.9h0M78.7 74.2h0M80.0 80.4h0M80.5 77.8h0M78.5 87.1h0M79.2 89.6h0M80.3 90.5h0M79.6 92.1h0M79.1 93.5h0M80.2 84.6h0M78.2 83.2h0M81.2 77.9h0M78.9 79.1h0M79.7 90.1h0M81.5 78.8h0M81.9 92.5h0M80.7 81.3h0M81.9 84.7h0M79.9 66.2h0M82.5 89.7h0M82.3 86.6h0M79.0 78.6h0M81.0 71.9h0M79.4 87.0h0M79.0 77.0h0M81.6 79.9h0M80.6 74.0h0M78.9 79.8h0M80.1 78.5h0M81.8 72.0h0M80.2 89.6h0M83.1 75.6h0M82.3 80.2h0M79.8 65.7h0M81.9 84.1h0M79.6 89.0h0M80.6 66.4h0M82.2 71.0h0M81.4 91.4h0M79.2 86.6h0M78.8 89.4h0M82.7 79.6h0M82.5 75.1h0M77.9 79.9h0M80.1 88.8h0M78.4 90.3h0M79.3 74.8h0M81.8 84.4h0M80.7 81.3h0M80.0 75.9h0M81.7 101.5h0M81.9 82.6h0M81.8 79.4h0M80.9 82.5h0M80.1 76.4h0M82.2 78.0h0M81.1 70.6h0M79.7 84.7h0M80.1 71.1h0M82.4 68.8h0M81.4 91.7h0M80.5 82.3h0M79.8 72.1h0M82.9 81.0h0M79.8 104.0h0M82.9 70.8h0M81.6 97.7h0M79.2 90.7h0M80.6 78.0h0M83.3 81.2h0M81.1 89.0h0M79.9 69.4h0M80.7 71.6h0M81.2 87.9h0M77.9 82.9h0M79.0 94.0h0M83.1 87.2h0M81.1 70.1h0M79.5 88.7h0M78.2 81.4h0M80.2 74.1h0M81.6 93.3h0M81.2 77.5h0M83.4 78.4h0M81.2 96.6h0M82.9 85.4h0M81.1 85.6h0M79.6 77.0h0M80.9 75.4h0M81.0 75.9h0M78.6 70.6h0M82.5 68.5h0M80.6 76.6h0M82.5 68.4h0M79.7 75.8h0M78.9 94.0h0M82.3 86.0h0M81.8 76.5h0M81.3 84.7h0M81.9 70.4h0M80.0 80.9h0M82.1 90.5h0M82.4 67.8h0M79.6 71.2h0M82.5 85.2h0M81.0 78.9h0M78.9 87.4h0M79.6 86.1h0M82.3 77.2h0M78.7 78.8h0M83.1 83.2h0M79.2 75.7h0M79.6 100.0h0M81.8 69.6h0M80.0 92.3h0M81.6 86.9h0M82.6 77.4h0M80.9 79.8h0M82.2 92.3h0M81.7 81.4h0M81.3 104.4h0M79.4 79.5h0M80.5 84.2h0M79.8 82.8h0M78.8 84.0h0M81.6 80.9h0M79.4 74.0h0M80.4 86.5h0M80.0 69.5h0M82.3 83.8h0M81.5 68.4h0M79.7 71.2h0M79.1 85.2h0M81.4 77.5h0M80.3 96.5h0M81.0 88.9h0M79.3 77.5h0M82.0 88.3h0M80.3 86.5h0M82.3 72.9h0M80.0 81.7h0M80.2 100.7h0M79.6 75.3h0M82.9 84.3h0M78.7 83.6h0M80.3 70.3h0M78.8 68.1h0M82.5 84.1h0M81.9 73.7h0M82.3 76.2h0M78.4 83.6h0M80.2 82.2h0M82.6 88.4h0M78.6 75.6h0M80.8 69.9h0M80.3 88.2h0M83.1 76.4h0M80.9 83.2h0M80.6 80.7h0M83.1 87.8h0M78.7 81.5h0M82.3 83.3h0M80.3 81.9h0M80.8 94.7h0M81.2 101.6h0M82.9 85.6h0M81.0 79.8h0M79.1 83.6h0M82.0 76.7h0M79.4 80.9h0M78.9 81.3h0M80.4 85.9h0M81.1 72.3h0M80.2 92.7h0M81.5 88.7h0M81.0 101.0h0M82.5 75.1h0M80.4 90.3h0M79.6 83.4h0M81.5 68.2h0M82.2 79.5h0M82.2 73.4h0M79.1 97.1h0M80.2 90.7h0M79.6 82.6h0M82.1 82.9h0M78.6 70.8h0M77.9 82.6h0M81.5 89.7h0M81.9 75.0h0M79.2 74.2h0M79.4 70.1h0M79.9 73.2h0M81.0 66.4h0M81.7 91.4h0M78.4 80.8h0M80.8 76.2h0M79.9 95.0h0M81.4 68.1h0M83.3 80.1h0M79.1 74.2h0M82.7 87.0h0M78.2 87.5h0M79.5 74.8h0M78.7 86.5h0M79.4 85.9h0M80.8 74.3h0M81.9 83.0h0M80.9 93.2h0M79.8 73.7h0M79.4 96.5h0M82.6 73.5h0M80.9 77.3h0M79.9 75.1h0M81.4 78.1h0M83.3 76.2h0M79.4 80.2h0M78.8 76.4h0M78.6 87.3h0M82.1 93.5h0M80.5 86.0h0M80.1 94.2h0M83.0 87.9h0M79.0 78.8h0M82.6 84.5h0M82.1 79.3h0M79.4 97.2h0M81.6 92.7h0M82.1 77.4h0M82.2 66.3h0M82.4 83.7h0M80.9 72.1h0M82.5 74.5h0M80.3 81.0h0M79.5 99.8h0M81.8 74.1h0M80.5 99.0h0M82.5 82.6h0M80.0 98.7h0M78.8 87.1h0M78.7 80.4h0M81.5 75.2h0M83.0 86.4h0M80.3 92.4h0M82.9 87.9h0M82.0 80.7h0M80.6 74.7h0M78.6 78.6h0M79.3 75.2h0M81.5 83.8h0M80.7 88.2h0M79.2 74.6h0M78.7 74.5h0M78.3 86.9h0M81.8 82.4h0M82.0 81.1h0M81.0 73.9h0M79.8 81.5h0M82.3 75.9h0M78.5 84.8h0M82.0 84.5h0M81.0 82.5h0M81.4 71.2h0M81.9 72.8h0M78.7 75.8h0M81.0 73.2h0M80.1 84.8h0M79.3 65.9h0M81.1 110.3h0M80.1 70.5h0M78.0 84.2h0M80.5 86.9h0M78.2 78.3h0M79.3 83.8h0M82.3 75.6h0M82.3 76.3h0M82.6 84.6h0M78.7 77.1h0M82.4 80.1h0M80.5 77.7h0M78.9 90.9h0M80.3 76.2h0M79.1 92.5h0M79.9 75.1h0M82.4 76.8h0M81.8 88.5h0M80.2 99.4h0M78.7 74.0h0M79.9 72.5h0M79.4 65.5h0M81.3 84.0h0M80.8 86.8h0M82.2 75.2h0M79.4 77.4h0M79.0 84.8h0M79.2 75.7h0M80.3 70.0h0M80.2 89.1h0M82.8 87.7h0M83.2 75.9h0M79.4 77.5h0M82.1 67.1h0M80.8 77.9h0M79.1 72.3h0M78.0 76.5h0M80.4 71.6h0M82.5 80.1h0M79.8 86.3h0M79.8 79.1h0M82.2 87.1h0M78.9 89.6h0M79.5 66.0h0M81.0 66.0h0M79.2 78.1h0M78.1 80.9h0M79.5 73.4h0M80.0 89.4h0M79.7 88.6h0M82.9 89.5h0M81.3 94.6h0M83.4 80.3h0M81.3 87.2h0M83.1 84.1h0M79.1 88.7h0M79.0 75.4h0M78.8 72.7h0M80.5 81.3h0M81.7 90.4h0M82.5 78.4h0M79.6 81.6h0M82.3 89.6h0M78.6 85.6h0M78.7 83.0h0M79.8 72.8h0M78.9 88.7h0M80.9 87.8h0M79.0 68.8h0M82.8 89.0h0M80.8 92.8h0M81.1 74.2h0M82.8 80.5h0M80.2 84.4h0M82.0 90.9h0M82.6 88.2h0M81.6 89.1h0M80.0 91.6h0M82.4 85.2h0M86.9 70.9h0M87.0 79.5h0M87.5 60.5h0M87.0 80.8h0M89.5 68.0h0M86.1 78.7h0M85.3 83.7h0M88.0 68.2h0M88.1 77.8h0M86.0 87.3h0M88.6 77.9h0M85.5 72.3h0M85.9 82.6h0M88.8 96.3h0M88.6 60.1h0M87.7 76.5h0M88.5 96.0h0M89.1 76.0h0M90.0 82.7h0M87.6 71.4h0M90.4 83.9h0M89.0 59.3h0M86.7 61.7h0M89.0 81.2h0M88.3 58.9h0M88.2 85.1h0M86.5 82.6h0M88.9 98.2h0M87.6 89.7h0M90.3 73.1h0M89.0 74.8h0M87.0 84.3h0M87.4 84.2h0M86.6 92.0h0M86.4 59.5h0M86.9 90.8h0M88.2 84.0h0M88.9 75.3h0M87.7 94.6h0M87.6 79.4h0M86.1 82.6h0M89.1 93.4h0M86.4 67.3h0M85.6 77.9h0M88.3 70.0h0M89.3 93.2h0M86.8 87.1h0M90.4 75.4h0M88.1 81.6h0M90.5 77.0h0M90.4 87.2h0M90.3 85.5h0M86.5 83.6h0M90.0 72.1h0M89.6 89.5h0M87.3 80.8h0M86.4 78.4h0M88.9 74.0h0M85.6 76.6h0M87.2 93.1h0M86.0 92.0h0M89.5 83.2h0M89.8 70.1h0M90.5 78.2h0M88.6 91.2h0M89.5 69.9h0M89.7 86.5h0M86.9 57.2h0M87.5 77.2h0M87.5 69.3h0M86.1 92.6h0M89.5 84.9h0M89.9 85.3h0M88.2 95.8h0M85.1 80.5h0M90.6 81.0h0M86.0 92.5h0M87.5 85.2h0M86.9 84.2h0M87.3 74.5h0M86.8 80.9h0M88.5 81.7h0M90.1 84.0h0M87.1 79.4h0M87.7 57.0h0M88.7 69.7h0M87.6 74.6h0M90.0 82.8h0M86.4 72.1h0M89.2 77.1h0M87.4 67.0h0M89.4 67.4h0M87.0 85.3h0M87.7 87.4h0M88.5 83.2h0M85.4 79.7h0M87.4 79.1h0M87.1 55.0h0M87.3 77.8h0M88.0 71.8h0M89.1 90.2h0M90.0 80.0h0M85.5 88.3h0M86.2 66.8h0M87.3 69.1h0M90.2 71.1h0M90.1 84.8h0M85.2 78.4h0M88.8 75.0h0M90.2 77.1h0M85.3 86.9h0M90.5 77.9h0M89.6 82.9h0M89.0 72.4h0M89.5 82.3h0M85.5 81.1h0M89.7 81.1h0M85.7 81.8h0M86.2 98.5h0M89.0 66.1h0M90.3 88.2h0M86.6 101.7h0M86.6 69.3h0M86.1 64.7h0M87.9 65.3h0M86.9 80.4h0M90.0 79.5h0M89.2 65.3h0M88.2 71.4h0M85.8 71.9h0M89.0 82.1h0M88.5 82.1h0M88.5 76.9h0M88.0 62.7h0M89.9 79.4h0M90.2 85.3h0M85.3 79.0h0M88.0 91.2h0M88.5 90.4h0M89.3 73.3h0M89.5 80.1h0M88.6 89.7h0M85.4 88.2h0M87.2 87.3h0M85.0 80.3h0M87.3 80.3h0M86.9 88.3h0M87.8 95.3h0M87.6 84.0h0M88.8 100.1h0M88.1 88.0h0M87.1 94.7h0M88.5 73.9h0M85.9 68.2h0M89.1 98.7h0M86.9 81.3h0M89.7 74.3h0M90.2 84.6h0M88.2 72.0h0M85.5 80.9h0M86.3 89.2h0M88.6 75.5h0M89.3 93.3h0M86.0 82.9h0M86.2 91.3h0M88.3 58.0h0M88.0 84.6h0M88.1 99.2h0M89.0 92.9h0M87.1 70.2h0M87.3 73.8h0M89.5 62.6h0M88.0 75.5h0M89.6 64.6h0M86.9 61.8h0M89.3 73.7h0M89.0 82.5h0M88.8 66.8h0M90.4 86.5h0M87.8 78.8h0M87.6 94.0h0M88.0 90.5h0M85.6 81.7h0M87.5 85.2h0M87.8 82.5h0M85.2 76.1h0M90.4 83.3h0M89.1 75.1h0M89.4 86.6h0M87.2 88.2h0M87.2 84.7h0M89.9 68.6h0M88.3 84.6h0M90.4 78.7h0M88.3 82.2h0M88.6 79.5h0M97.0 68.1h0M93.4 74.2h0M94.9 97.7h0M96.6 82.5h0M94.5 85.9h0M92.8 73.5h0M94.4 60.8h0M94.9 57.4h0M93.0 81.1h0M97.0 83.0h0M97.0 79.3h0M93.1 66.7h0M97.4 78.8h0M96.5 64.2h0M95.5 76.8h0M93.6 85.1h0M95.0 69.5h0M93.3 66.9h0M95.2 80.2h0M96.9 89.0h0M93.6 57.7h0M96.2 70.4h0M92.9 79.8h0M94.8 97.4h0M94.7 69.7h0M93.7 78.9h0M92.4 71.4h0M94.6 90.8h0M93.6 86.6h0M92.6 77.9h0M94.4 83.2h0M92.7 68.1h0M95.1 89.7h0M94.3 60.0h0M96.0 72.4h0M93.7 82.2h0M97.6 79.5h0M96.6 80.8h0M94.8 73.7h0M93.4 73.6h0M95.6 72.1h0M92.2 78.4h0M93.6 76.4h0M96.6 80.6h0M95.3 74.0h0M95.4 90.7h0M95.1 78.0h0M92.6 82.1h0M94.4 103.9h0M97.3 68.8h0M93.5 74.9h0M94.6 83.2h0M97.5 70.2h0M94.0 82.9h0M95.9 89.1h0M95.3 61.6h0M94.8 77.1h0M95.0 75.7h0M93.5 84.7h0M93.7 68.4h0M97.2 77.5h0M95.7 77.5h0M96.8 84.6h0M95.9 72.1h0M94.3 86.4h0M92.8 72.1h0M93.9 65.9h0M96.6 62.2h0M97.0 67.8h0M94.8 69.7h0M94.9 76.6h0M95.6 70.1h0M94.8 82.6h0M92.3 77.8h0M95.5 73.4h0M94.7 74.9h0M95.5 77.5h0M95.1 105.8h0M95.8 92.3h0M96.5 86.7h0M94.8 57.7h0M97.0 74.6h0M92.3 82.0h0M95.4 61.4h0M93.4 87.5h0M93.2 85.3h0M95.6 91.1h0M96.4 81.5h0M96.6 93.1h0M92.9 68.6h0M95.1 90.4h0M94.9 102.2h0M94.8 69.5h0M94.6 64.5h0M94.9 78.3h0M92.6 83.1h0M96.4 85.0h0M92.6 76.1h0M92.9 88.9h0M95.5 65.2h0M93.3 71.5h0M93.2 67.4h0M95.0 85.0h0M94.9 67.4h0M94.1 75.6h0M97.8 76.2h0M96.9 74.3h0M96.6 72.8h0M93.9 64.9h0M95.2 67.7h0M94.5 81.5h0M92.7 71.2h0M95.2 73.1h0M92.9 67.2h0M94.9 72.8h0M93.7 66.5h0M96.7 65.2h0M94.2 96.7h0M92.7 84.7h0M97.4 83.1h0M97.3 72.4h0M96.5 88.7h0M95.4 99.1h0M94.6 87.5h0M96.2 58.3h0M92.2 74.2h0M92.8 69.0h0M96.1 56.0h0M94.2 51.8h0M92.5 81.9h0M96.4 77.1h0M96.7 71.8h0M95.1 92.0h0M96.6 72.5h0M94.0 74.5h0M96.9 72.2h0M92.7 69.7h0M97.5 74.0h0M94.3 80.9h0M94.7 64.1h0M97.5 74.7h0M93.3 66.6h0M95.0 74.2h0M97.4 74.4h0M97.1 80.2h0M93.7 71.4h0M96.4 73.1h0M95.1 68.9h0M97.4 82.3h0M94.2 85.7h0M92.7 86.5h0M94.2 62.9h0M94.3 94.2h0M94.5 74.7h0M94.1 91.6h0M95.6 63.1h0M92.7 72.1h0M93.3 84.6h0M94.1 82.4h0M93.2 78.2h0M95.7 91.2h0M96.0 77.4h0M95.3 95.1h0M94.2 73.5h0M94.2 79.0h0M96.4 91.7h0M94.3 86.3h0M92.8 77.4h0M95.0 84.1h0M96.4 96.7h0M92.3 72.9h0M95.6 71.9h0M93.2 68.1h0M93.7 81.5h0M96.3 94.0h0M95.3 68.3h0M95.8 80.7h0M94.0 71.7h0M95.9 55.2h0M93.2 78.5h0M95.7 79.8h0M93.1 64.9h0M94.8 72.8h0M94.3 77.6h0M92.8 67.4h0M95.4 83.0h0M97.4 76.2h0M94.3 83.6h0M92.5 71.4h0M93.0 75.4h0M93.1 79.5h0M95.6 77.7h0M92.4 71.2h0M94.9 67.6h0M94.9 95.2h0M94.4 82.3h0M95.9 66.2h0M96.0 74.2h0M93.9 71.9h0M94.7 54.5h0M95.5 85.0h0M96.6 62.9h0M96.6 85.9h0M96.9 74.8h0M96.4 68.2h0M95.2 80.2h0M94.8 79.1h0M96.9 78.1h0M93.2 87.2h0M95.9 72.8h0M97.1 67.4h0M95.2 70.5h0M93.3 64.9h0M97.1 85.3h0M93.0 68.8h0M95.2 72.9h0M96.3 81.6h0M94.8 72.9h0M95.0 80.9h0M94.7 85.6h0M94.5 84.0h0M94.9 70.3h0M94.9 68.3h0M96.4 98.2h0M94.2 54.1h0M93.7 64.3h0M92.6 84.4h0M95.0 68.1h0M94.7 70.2h0M95.3 97.2h0M94.0 51.1h0M93.9 75.8h0M95.4 61.7h0M93.7 63.4h0M94.5 78.8h0M94.8 74.3h0M96.0 62.6h0M95.6 71.6h0M95.7 65.8h0M96.9 79.4h0M97.5 70.2h0M96.6 94.9h0M92.9 89.3h0M93.0 75.7h0M94.2 82.5h0M94.8 77.9h0M97.6 76.7h0M93.4 66.3h0M95.1 87.4h0M94.0 69.8h0M94.0 81.9h0M95.3 90.1h0M95.0 93.5h0M93.7 87.3h0M95.3 64.6h0M94.2 93.9h0M95.1 91.1h0M94.0 78.9h0M93.3 61.6h0M93.6 79.8h0M93.4 77.1h0M94.2 84.1h0M95.3 76.8h0M96.7 63.0h0M94.9 86.4h0M93.9 85.1h0M96.7 74.8h0M93.9 74.9h0M93.1 90.3h0M94.0 62.1h0M109.9 84.5h0M109.2 88.3h0M111.2 92.9h0M110.3 95.9h0M110.0 85.3h0M108.9 91.2h0M106.9 93.6h0M110.8 97.6h0M111.0 97.3h0M110.8 83.2h0M109.4 79.9h0M107.2 95.9h0M111.1 91.6h0M111.7 94.4h0M108.2 94.9h0M107.5 99.6h0M110.3 93.6h0M107.6 85.4h0M107.2 91.6h0M109.1 85.4h0M108.0 102.3h0M107.1 93.6h0M109.5 93.2h0M109.8 87.7h0M111.6 96.0h0M108.8 91.4h0M110.1 85.8h0M111.1 83.3h0M107.9 82.0h0M110.9 91.6h0M109.1 91.1h0M109.8 90.4h0M109.6 85.8h0M108.0 93.8h0M111.2 93.0h0M107.2 94.3h0M121.4 89.0h0M124.6 62.9h0M121.2 74.4h0M124.4 106.7h0M121.6 91.0h0M124.1 65.8h0M122.4 67.3h0M122.2 68.4h0M124.1 70.5h0M124.7 61.5h0M123.5 68.1h0M123.7 78.1h0M120.9 73.4h0M125.6 78.5h0M124.0 81.6h0M123.3 88.6h0M123.6 72.7h0M124.1 63.3h0M122.7 78.3h0M122.5 86.3h0M124.6 78.3h0M121.8 71.2h0M125.4 86.8h0M122.5 77.0h0M122.7 84.7h0M124.6 71.1h0M122.2 91.3h0M121.0 72.1h0M123.4 76.3h0M124.2 87.4h0M122.5 79.3h0M124.3 103.0h0M122.2 84.1h0M121.6 74.3h0M121.2 73.2h0M123.1 70.6h0M121.4 85.9h0M124.7 87.8h0M122.0 79.1h0M123.7 69.2h0M125.8 82.8h0M122.4 83.8h0M122.8 81.5h0M121.3 82.9h0M122.9 64.9h0M121.5 71.4h0M122.4 65.1h0M121.9 78.5h0M124.8 77.7h0M123.3 70.4h0M124.6 80.3h0M121.7 66.0h0M125.4 78.7h0M122.7 78.0h0M124.2 68.1h0M124.4 63.8h0M123.1 89.3h0M122.9 81.2h0M125.6 73.9h0M124.9 91.8h0M124.1 53.3h0M121.6 77.8h0M122.8 69.8h0M123.8 64.6h0M124.7 88.5h0M124.8 71.3h0M123.8 99.8h0M121.2 78.8h0M122.1 77.3h0M124.6 67.0h0M125.0 82.1h0M124.2 75.5h0M124.3 86.8h0M121.2 83.0h0M125.7 80.3h0M122.6 75.1h0M123.1 82.7h0M125.9 83.7h0M124.3 87.4h0M123.1 74.3h0M122.4 98.4h0M123.6 90.2h0M124.5 83.0h0M121.2 79.9h0M122.4 56.6h0M122.5 102.4h0M122.1 93.0h0M122.7 75.6h0M122.1 76.1h0M123.6 68.3h0M123.1 75.8h0M122.9 77.7h0M124.9 79.4h0M124.2 64.0h0M121.8 78.0h0M122.7 78.1h0M122.2 95.8h0M126.0 81.3h0M123.3 89.7h0M122.0 62.5h0M121.8 70.6h0M123.6 57.3h0M123.9 77.1h0M122.2 74.3h0M123.3 91.1h0M123.3 76.1h0M122.1 90.4h0M122.7 82.1h0M124.8 62.8h0M123.2 72.3h0M125.2 72.5h0M124.2 73.8h0M125.8 70.0h0M122.7 84.1h0M123.8 88.8h0M125.1 76.3h0M124.2 80.5h0M123.6 60.5h0M121.8 73.7h0M122.8 79.9h0M124.1 74.0h0M121.9 80.3h0M124.7 80.3h0M123.4 78.5h0M123.6 86.8h0M126.3 79.6h0M124.9 87.6h0M123.5 66.7h0M120.9 83.5h0M123.3 83.1h0M123.5 86.7h0M124.8 72.4h0M121.3 87.4h0M123.4 93.8h0M125.1 83.3h0M125.8 84.1h0M125.5 80.1h0M124.2 92.6h0M121.9 93.9h0M121.9 76.7h0M123.9 80.2h0M123.0 104.7h0M123.4 102.6h0M126.0 72.9h0M124.2 79.0h0M123.6 84.5h0M124.4 72.0h0M121.0 77.8h0M123.2 87.9h0M124.3 89.6h0M125.7 69.3h0M122.6 73.8h0M125.8 84.1h0M124.4 77.7h0M123.9 68.4h0M121.5 70.6h0M123.8 75.0h0M122.2 80.4h0M124.9 69.0h0M123.3 69.8h0M125.3 70.1h0M124.4 90.3h0M124.6 91.6h0M126.3 79.7h0M125.3 73.1h0M124.4 103.0h0M123.7 77.9h0M122.5 87.1h0M124.1 62.1h0M125.1 69.5h0M123.8 81.2h0M122.0 80.3h0M126.1 81.3h0M121.1 79.2h0M125.0 68.8h0M126.0 78.6h0M125.3 82.6h0M125.9 77.0h0M123.1 92.6h0M125.1 76.2h0M124.1 59.4h0M124.1 76.5h0M125.4 69.9h0M123.6 87.6h0M122.3 82.6h0M124.3 73.5h0M124.6 88.8h0M120.8 77.8h0M126.2 75.9h0M123.3 77.5h0M124.4 79.4h0M123.4 86.6h0M123.6 67.5h0M124.2 74.1h0M124.7 69.1h0M122.8 71.2h0M120.7 80.6h0M123.3 91.0h0M122.2 71.1h0M124.2 79.2h0M122.3 74.4h0M123.7 98.1h0M122.6 101.4h0M121.9 71.5h0M125.7 76.5h0M122.4 102.1h0M123.1 76.0h0M124.7 83.2h0M124.2 87.6h0M124.1 76.8h0M121.7 82.5h0M124.6 76.1h0M121.4 89.6h0M125.1 83.8h0M125.4 92.5h0M122.7 79.3h0M122.9 87.3h0M124.8 59.0h0M124.7 72.4h0M123.3 81.6h0M125.0 72.1h0M124.9 84.2h0M125.7 87.7h0M123.1 62.7h0M121.7 64.6h0M122.4 77.8h0M124.9 86.9h0M124.5 79.9h0M124.5 92.2h0M123.8 87.6h0M123.4 69.7h0M124.8 79.4h0M124.5 80.4h0M125.5 71.2h0M122.7 80.5h0M124.0 71.1h0M121.6 69.0h0M124.0 53.3h0M124.5 66.5h0M125.1 91.1h0M122.3 90.0h0M123.5 71.3h0M126.2 78.4h0M122.5 97.0h0M122.8 76.4h0M122.7 66.6h0M122.8 73.9h0M125.6 67.3h0M120.7 79.6h0M124.9 67.3h0M122.9 77.2h0M125.0 68.8h0M123.1 87.5h0M125.4 74.4h0M125.4 92.6h0M122.6 68.1h0M125.5 74.8h0M122.2 73.3h0M124.3 79.1h0M120.8 75.7h0M123.9 75.0h0M122.3 72.0h0M122.7 77.2h0M120.8 79.1h0M123.8 71.1h0M125.7 75.0h0M124.9 60.9h0M124.9 64.1h0M121.3 89.0h0M125.0 69.9h0M125.0 89.8h0M121.3 79.1h0M123.7 81.4h0M122.8 82.3h0M122.7 85.1h0M124.0 80.5h0M121.4 81.1h0M125.9 76.3h0M121.6 76.4h0M122.7 82.4h0M125.8 80.3h0M123.6 72.0h0M123.5 70.8h0M123.0 82.7h0M125.9 73.1h0M122.1 71.5h0M125.1 82.5h0M123.9 72.4h0M121.3 80.1h0M124.5 83.7h0M122.3 90.1h0M125.3 70.9h0M123.1 94.5h0M126.0 81.9h0M123.2 95.7h0M123.4 83.0h0M124.3 68.1h0M124.8 83.3h0M122.5 66.6h0M124.1 97.6h0M122.8 85.0h0M122.7 53.6h0M124.4 70.0h0M126.2 81.3h0M122.6 70.9h0M125.1 71.4h0M125.2 74.4h0M123.9 68.8h0M125.3 78.5h0M123.8 87.9h0M124.4 92.7h0M122.6 81.5h0M124.3 77.7h0M121.7 83.5h0M123.3 79.9h0M122.4 89.2h0M121.0 80.6h0M123.3 75.0h0M124.8 82.0h0M126.1 77.7h0M124.3 84.5h0M122.4 61.8h0M125.8 81.0h0M123.6 84.3h0M122.9 71.9h0M121.6 84.6h0M122.4 80.2h0M123.2 91.6h0M122.8 75.3h0M125.8 87.3h0M121.0 76.4h0M123.9 92.1h0M125.2 85.7h0M125.5 89.6h0M122.8 78.0h0M120.8 77.4h0M124.6 67.2h0M123.8 81.7h0M125.4 82.4h0M123.2 92.5h0M123.1 78.7h0M122.8 90.3h0M123.9 53.8h0M125.0 70.1h0M124.8 67.2h0M122.5 101.0h0M124.3 75.0h0M123.4 85.3h0M126.0 76.5h0M123.8 89.4h0M125.4 70.8h0M121.9 76.7h0M121.3 78.4h0M125.2 74.4h0M124.8 85.8h0M124.5 55.7h0M121.3 73.7h0M124.4 83.1h0M124.9 80.3h0M125.8 88.3h0M125.1 94.7h0M125.0 63.9h0M121.2 81.7h0M121.6 76.9h0M121.7 71.5h0M122.3 89.9h0M121.6 86.9h0M124.2 75.7h0M124.1 74.8h0M123.9 63.6h0M122.6 81.4h0M123.6 88.0h0M120.7 82.2h0M122.5 88.6h0M121.3 71.5h0M122.3 91.7h0M121.8 66.8h0M123.5 65.4h0M126.3 77.3h0M124.4 83.4h0M125.8 81.4h0M123.2 96.8h0M122.6 75.7h0M124.8 76.7h0M123.3 77.3h0M121.8 74.2h0M122.2 58.9h0M123.4 61.1h0M124.1 81.1h0M124.9 76.0h0M125.0 75.0h0M123.9 81.5h0M124.5 85.0h0M122.2 77.2h0M123.9 71.1h0M124.6 98.1h0M124.0 72.8h0M123.1 85.7h0M121.5 81.2h0M122.6 88.9h0M138.0 72.2h0M138.2 81.8h0M137.1 73.6h0M138.7 75.4h0M135.5 80.7h0M136.6 80.5h0M137.7 79.6h0M138.4 84.0h0M137.0 82.0h0M137.7 85.8h0M137.3 61.3h0M138.5 70.0h0M138.5 81.9h0M139.6 82.1h0M137.9 81.3h0M137.0 69.8h0M138.9 74.2h0M137.1 72.5h0M137.1 83.4h0M136.5 80.4h0M137.2 84.5h0M138.0 70.6h0M138.9 73.9h0M136.2 67.5h0M138.5 72.5h0M137.9 72.5h0M139.7 87.9h0M138.8 70.6h0M139.4 64.3h0M137.8 72.9h0M139.2 63.8h0M139.3 69.9h0M137.3 68.0h0M138.3 71.3h0M137.3 72.3h0M137.6 78.6h0M135.0 79.8h0M135.2 77.1h0M136.6 67.4h0M138.6 78.1h0M135.7 81.4h0M136.2 79.8h0M139.1 80.3h0M139.3 71.2h0M138.1 54.0h0M137.4 69.3h0M137.8 70.0h0M136.0 75.1h0M142.4 81.6h0M146.1 60.4h0M145.1 72.7h0M143.6 90.3h0M145.1 75.5h0M145.7 95.7h0M143.8 92.3h0M145.8 61.8h0M147.0 85.2h0M143.5 57.2h0M144.0 77.2h0M145.4 77.1h0M144.6 78.1h0M146.0 70.9h0M143.8 99.3h0M145.2 77.9h0M146.7 80.2h0M144.0 59.6h0M145.6 65.1h0M144.7 58.7h0M147.4 69.6h0M147.1 77.8h0M144.9 68.0h0M144.3 76.2h0M143.3 73.7h0M145.7 102.0h0M144.4 72.4h0M143.6 65.3h0M143.9 96.3h0M144.7 57.0h0M147.5 65.9h0M142.4 73.0h0M146.1 84.5h0M147.1 79.0h0M143.1 85.9h0M144.5 76.3h0M146.2 93.0h0M144.0 83.2h0M145.6 68.0h0M146.6 66.0h0M146.0 71.7h0M143.4 60.0h0M146.5 72.9h0M144.8 75.4h0M146.1 78.8h0M147.0 78.0h0M144.6 94.4h0M144.6 69.4h0M146.9 57.2h0M145.0 77.8h0M144.6 59.7h0M147.7 74.3h0M145.3 69.1h0M143.5 72.0h0M143.7 73.3h0M146.0 90.6h0M143.8 87.0h0M145.2 62.8h0M143.4 75.5h0M144.4 77.4h0M145.4 72.3h0M145.3 54.6h0M142.9 75.1h0M145.1 89.5h0M146.2 70.1h0M144.3 67.3h0M143.3 74.8h0M146.6 57.7h0M144.6 104.0h0M143.9 58.7h0M146.2 78.6h0M145.4 85.5h0M144.8 71.7h0M142.4 65.8h0M147.3 67.8h0M145.1 80.4h0M145.9 95.5h0M142.5 80.4h0M145.7 66.3h0M143.6 62.3h0M144.5 86.1h0M146.6 75.8h0M144.6 67.0h0M146.0 75.4h0M145.3 79.4h0M146.4 73.1h0M143.1 80.1h0M143.0 78.1h0M146.4 80.1h0M145.7 101.8h0M144.6 66.2h0M143.7 70.6h0M146.0 95.2h0M146.7 80.8h0M143.6 82.4h0M143.3 68.4h0M146.5 69.4h0M144.5 68.9h0M143.3 58.5h0M145.2 69.9h0M147.3 74.0h0M145.2 90.8h0M144.1 60.1h0M145.2 76.8h0M143.5 89.1h0M145.4 81.2h0M146.2 84.7h0M146.3 55.5h0M145.1 57.0h0M143.3 62.9h0M147.1 69.4h0M146.5 55.3h0M145.1 84.9h0M143.4 75.1h0M146.9 71.5h0M143.0 66.9h0M147.5 74.8h0M143.4 59.5h0M147.2 67.3h0M142.9 60.8h0M144.4 67.4h0M143.8 82.3h0M147.1 65.8h0M143.8 70.2h0M144.2 68.8h0M145.1 58.6h0M142.2 68.3h0M143.3 90.8h0M144.7 54.3h0M142.9 64.1h0M143.7 98.6h0M146.5 90.5h0M147.5 70.7h0M147.3 71.0h0M144.5 91.8h0M144.6 63.1h0M147.0 78.0h0M147.0 81.2h0M142.3 65.6h0M146.6 66.4h0M147.2 82.1h0M144.2 71.7h0M143.8 80.5h0M143.3 80.2h0M143.9 81.3h0M142.3 81.1h0M145.1 60.2h0M144.7 69.4h0M145.1 72.9h0M146.2 88.8h0M145.1 83.8h0M146.5 71.9h0M145.2 75.5h0M144.1 85.3h0M143.9 100.6h0M144.2 57.3h0M147.0 61.8h0M145.7 64.9h0M145.9 69.9h0M144.2 61.1h0M143.0 84.9h0M143.8 77.9h0M144.5 81.4h0M144.5 60.5h0M146.7 71.5h0M143.4 63.9h0M142.6 73.0h0M145.3 84.4h0M161.9 93.2h0M156.5 96.4h0M159.9 94.1h0M161.3 96.8h0M158.6 95.1h0M159.7 102.4h0M159.2 95.1h0M158.8 98.4h0M160.5 90.9h0M159.8 83.1h0M161.6 94.2h0M159.1 79.0h0M160.0 83.8h0M159.2 98.7h0M161.0 90.7h0M158.7 88.9h0M158.8 96.3h0M157.5 78.8h0M160.4 92.3h0M159.0 90.8h0M158.7 93.4h0M156.7 88.6h0M161.6 89.1h0M157.3 84.0h0M160.7 93.2h0M160.3 97.2h0M158.6 94.6h0M157.5 89.2h0M160.4 92.1h0M159.1 86.8h0M160.6 108.0h0M159.6 90.6h0M160.4 93.1h0M157.1 100.4h0M159.6 81.0h0M161.3 91.5h0M158.1 94.2h0M159.9 94.4h0M161.4 87.1h0M159.2 99.4h0M158.4 87.9h0M161.4 85.2h0M158.9 80.0h0M160.2 73.6h0M157.6 81.8h0M157.8 101.8h0M160.4 99.7h0M158.9 80.9h0M158.3 95.6h0M160.1 95.8h0M160.8 92.3h0M160.1 109.7h0M160.2 73.2h0M159.1 92.1h0M160.4 97.7h0M158.9 91.3h0M157.1 82.4h0M160.7 89.3h0M160.3 92.9h0M160.8 73.5h0M160.1 108.9h0M157.0 87.2h0M158.5 103.6h0M158.0 98.8h0M160.5 85.8h0M160.8 84.7h0M162.0 92.1h0M159.0 78.0h0M158.2 83.8h0M161.0 87.7h0M158.6 86.5h0M159.9 80.7h0M157.9 90.7h0M160.2 73.4h0M159.2 88.4h0M157.9 92.7h0M159.7 91.6h0M159.9 77.2h0M158.5 101.7h0M159.9 88.5h0M157.5 87.7h0M159.0 86.5h0M157.7 93.1h0M159.6 101.0h0M157.6 86.0h0M158.2 95.0h0M161.1 76.2h0M158.7 97.5h0M158.6 88.9h0M157.6 80.7h0M159.1 88.0h0M159.8 87.4h0M158.7 82.6h0M157.5 76.8h0M157.6 78.6h0M161.0 79.1h0M158.5 77.3h0M160.4 87.4h0M157.5 79.8h0M158.1 95.4h0M159.3 76.5h0M160.2 88.6h0M156.6 97.2h0M160.3 90.1h0M157.9 83.9h0M161.2 95.8h0M157.4 81.3h0M159.4 86.7h0M158.4 107.7h0M160.1 70.3h0M160.3 86.6h0M157.3 80.7h0M161.4 80.7h0M157.6 89.8h0M158.2 83.0h0M158.2 97.6h0M158.6 97.9h0M160.3 108.3h0M161.0 103.5h0M158.7 109.9h0M158.5 89.3h0M159.4 89.0h0M161.8 95.3h0M160.6 73.7h0M159.2 93.1h0M156.8 87.0h0M157.7 92.3h0M159.3 84.4h0M158.3 76.0h0M159.1 111.7h0M160.1 94.1h0M157.6 74.6h0M156.6 87.4h0M157.5 87.0h0M158.1 97.0h0M160.1 92.7h0M159.6 82.5h0M159.9 89.3h0M159.4 101.5h0M158.9 87.8h0M160.8 80.6h0M159.0 78.3h0M173.2 68.2h0M171.2 76.7h0M174.3 84.5h0M175.6 85.2h0M173.9 86.1h0M171.2 73.9h0M174.8 76.2h0M172.1 59.7h0M175.0 73.6h0M173.8 76.0h0M174.0 88.4h0M173.8 96.2h0M172.8 78.7h0M174.0 73.9h0M172.2 82.3h0M174.7 73.0h0M171.8 65.6h0M172.2 87.2h0M174.6 95.0h0M172.3 94.1h0M175.1 79.6h0M172.2 69.2h0M175.4 71.8h0M172.0 79.0h0M172.1 72.6h0M175.7 68.0h0M176.2 76.1h0M171.2 87.1h0M171.5 80.4h0M176.2 81.2h0M174.2 62.8h0M174.4 104.6h0M175.6 81.3h0M173.6 75.6h0M173.7 60.4h0M173.7 77.5h0M173.9 86.6h0M172.7 87.8h0M172.7 79.1h0M174.2 69.6h0M173.2 92.2h0M172.8 77.9h0M175.1 93.6h0M172.1 62.1h0M172.6 76.7h0M171.6 76.3h0M175.5 73.7h0M171.6 73.9h0M173.5 59.9h0M172.7 73.7h0M175.1 85.9h0M171.5 81.9h0M170.8 80.8h0M171.7 78.9h0M172.1 90.8h0M174.7 90.0h0M175.1 68.9h0M171.1 72.1h0M171.8 83.1h0M174.2 84.6h0M173.2 74.9h0M173.8 79.1h0M176.0 77.6h0M174.5 62.9h0M174.6 80.9h0M175.4 82.0h0M174.4 73.5h0M173.4 85.9h0M174.1 65.1h0M171.2 84.3h0M174.1 70.5h0M174.7 56.6h0M170.8 74.5h0M175.4 74.3h0M175.4 78.8h0M171.7 86.2h0M172.1 80.4h0M173.1 91.3h0M175.5 71.8h0M173.0 81.3h0M176.0 82.8h0M173.0 77.9h0M174.3 91.9h0M173.5 66.2h0M172.5 55.9h0M174.5 61.2h0M172.9 80.8h0M176.0 70.0h0M175.6 84.2h0M174.2 65.0h0M175.0 87.2h0M173.7 66.6h0M176.0 73.3h0M175.3 71.9h0M174.9 82.9h0M171.9 62.8h0M172.8 97.6h0M172.4 89.2h0M172.6 82.1h0M173.8 98.2h0M174.8 80.3h0M171.8 75.6h0M174.3 67.1h0M171.6 88.6h0M171.1 82.3h0M176.2 76.2h0M175.0 68.9h0M171.6 68.3h0M175.5 66.2h0M172.1 77.8h0M172.5 80.0h0M175.1 73.8h0M172.4 75.9h0M174.1 102.7h0M175.6 66.2h0M173.9 102.4h0M175.6 81.6h0M171.8 74.8h0M170.7 74.6h0M171.8 87.6h0M173.2 81.6h0M172.6 97.8h0M174.7 63.3h0M174.1 84.2h0M174.7 73.1h0M174.8 63.0h0M172.1 89.8h0M174.7 77.8h0M172.4 62.3h0M174.0 85.1h0M175.1 76.6h0M172.3 62.9h0M172.9 81.4h0M174.4 96.8h0M175.3 84.7h0M174.0 79.5h0M172.3 58.6h0M172.9 80.2h0M173.8 78.6h0M175.4 73.9h0M173.7 96.1h0M171.9 82.4h0M170.9 81.3h0M171.6 88.7h0M172.8 87.1h0M173.6 69.2h0M174.7 79.0h0M170.9 80.1h0M173.4 69.0h0M172.1 75.1h0M172.1 92.2h0M172.6 80.9h0M174.7 64.9h0M173.2 73.0h0M174.0 86.6h0M173.0 56.6h0M171.7 72.8h0M173.6 97.6h0M173.3 90.9h0M173.0 79.4h0M174.2 95.9h0M173.1 87.1h0M173.0 76.1h0M172.2 68.3h0M172.6 77.4h0M175.1 74.8h0M174.6 80.7h0M175.3 81.4h0M173.9 86.2h0M175.4 77.8h0M172.1 81.6h0M175.5 71.8h0M172.5 62.5h0M171.4 82.4h0M173.9 82.2h0M172.7 95.7h0M171.9 83.6h0M172.4 83.9h0M174.5 85.1h0M173.0 84.0h0M172.8 84.6h0M174.1 87.2h0M174.1 86.9h0M173.6 83.2h0M172.7 96.0h0M174.9 85.8h0M174.0 74.1h0M172.9 77.1h0M173.0 84.3h0M173.2 86.7h0M173.1 91.6h0M174.5 86.9h0M174.5 68.1h0M172.6 74.9h0M175.1 89.6h0M173.1 64.4h0M171.6 78.0h0M173.0 81.7h0M172.6 73.9h0M170.9 76.9h0M175.5 87.6h0M173.4 68.6h0M174.4 98.1h0M171.4 80.8h0M171.7 66.0h0M173.9 73.7h0M175.3 79.4h0M173.0 74.1h0M171.1 79.9h0M171.8 66.8h0M173.3 92.9h0M171.5 81.8h0M173.7 69.1h0M171.0 72.9h0M174.5 59.8h0M174.3 74.7h0M172.1 81.7h0M171.8 70.0h0M175.9 74.9h0M171.8 76.7h0M173.0 81.5h0M172.2 72.7h0M171.7 70.3h0M174.5 77.8h0M173.4 77.2h0M172.9 70.2h0M172.5 71.0h0M171.9 81.8h0M171.3 80.7h0M174.5 79.8h0M174.6 87.0h0M171.0 70.1h0M172.7 78.4h0M175.6 81.4h0M175.4 79.3h0M175.7 76.4h0M174.0 83.0h0M175.7 66.6h0M175.9 78.4h0M170.7 76.8h0M173.7 79.2h0M175.9 83.0h0M171.7 74.5h0M173.1 98.6h0M175.3 75.7h0M172.1 83.4h0M175.8 70.9h0M173.5 80.6h0M173.9 71.8h0M174.5 79.9h0M173.2 66.8h0M176.0 83.5h0M174.1 58.2h0M173.3 80.5h0M175.1 70.7h0M171.5 80.8h0M175.0 76.5h0M174.0 87.3h0M172.2 82.3h0M172.8 78.2h0M173.6 93.4h0M175.5 73.7h0M172.1 90.1h0M172.9 81.3h0M175.8 79.9h0M171.6 81.9h0M173.9 83.6h0M175.7 79.9h0M174.0 83.0h0M170.8 71.5h0M175.2 91.5h0M175.1 78.7h0M173.0 77.0h0M174.5 72.8h0M173.3 69.4h0M174.4 68.8h0M174.4 58.7h0M171.8 76.3h0M173.1 103.1h0M175.9 74.1h0M174.8 84.1h0M170.7 77.8h0M172.6 70.4h0M175.3 82.8h0M172.8 68.4h0M175.6 86.2h0M175.9 79.3h0M172.0 88.4h0M174.8 78.4h0M176.2 80.1h0M171.9 67.0h0M172.6 107.7h0M174.4 74.2h0M171.2 71.4h0M173.7 78.4h0M171.4 85.1h0M171.6 76.5h0M174.2 89.7h0M171.8 73.7h0M175.3 80.3h0M171.8 75.5h0M171.8 79.7h0M171.9 71.7h0M173.1 78.4h0M171.6 76.2h0M173.7 86.3h0M175.5 72.9h0M175.8 73.4h0M175.5 81.4h0M171.4 78.5h0M172.8 67.6h0M173.2 64.1h0M173.2 57.7h0M172.1 76.2h0M175.2 77.3h0M171.9 67.3h0M176.2 79.8h0M173.4 66.7h0M173.0 82.9h0M172.7 92.2h0M172.2 64.5h0M170.9 83.4h0M173.3 84.4h0M173.4 88.5h0M171.3 85.3h0M174.0 73.8h0M173.6 79.9h0M174.1 87.3h0M174.6 77.3h0M175.2 72.8h0M173.4 70.6h0M173.0 95.9h0M175.0 82.5h0M170.8 74.7h0M171.9 76.3h0M173.5 92.2h0M172.6 91.3h0M174.6 76.5h0M173.8 88.9h0M171.6 78.1h0M176.2 75.7h0M173.2 76.8h0M173.9 98.9h0M172.7 91.0h0M172.7 62.5h0M172.4 83.6h0M174.2 87.5h0M174.8 80.8h0M170.7 75.2h0M172.6 105.4h0M173.6 102.5h0M173.8 97.7h0M171.6 71.4h0M173.4 82.5h0M174.9 77.7h0M174.5 82.2h0M172.1 87.3h0M174.8 64.9h0M172.6 83.3h0M176.2 77.0h0M172.4 78.8h0M175.0 70.0h0M174.7 77.9h0M172.1 88.1h0M172.4 57.6h0M174.8 79.0h0M171.3 67.0h0M175.2 85.6h0M172.2 81.0h0M175.3 65.8h0M173.3 72.3h0M172.8 72.0h0M171.8 80.5h0M173.4 72.5h0M172.8 87.4h0M173.3 80.9h0M174.1 67.2h0M172.3 99.8h0M172.2 66.8h0M174.6 68.9h0M174.1 69.6h0M170.6 75.1h0M175.6 85.4h0M174.5 69.1h0M172.5 77.8h0M174.4 59.0h0M171.4 80.0h0M175.3 89.2h0M175.0 75.4h0M174.1 88.4h0M174.2 90.0h0M175.4 67.5h0M171.3 73.3h0M172.0 68.8h0M172.5 79.9h0M173.7 96.0h0M171.8 89.4h0M171.3 75.8h0M174.3 68.2h0M175.3 74.9h0M170.8 75.3h0M171.9 94.0h0M175.1 58.7h0M175.5 68.7h0M172.9 66.7h0M174.5 60.4h0M171.1 75.2h0M173.6 81.7h0M172.4 72.5h0M171.5 75.6h0M172.2 89.3h0M175.1 90.8h0M171.1 73.4h0M174.2 90.3h0M172.6 81.8h0M175.1 79.7h0M173.7 76.8h0M171.1 75.0h0M174.0 59.3h0M175.5 83.8h0M174.2 84.0h0M171.9 75.4h0M171.1 77.4h0M174.6 78.4h0M172.8 80.9h0M172.6 94.0h0M172.2 69.7h0M175.1 75.2h0M173.3 71.4h0M173.9 69.1h0M173.4 66.5h0M173.4 84.5h0M173.1 79.2h0M175.8 72.2h0M173.6 113.2h0M173.6 83.8h0M173.9 78.9h0M172.5 57.6h0M175.6 67.9h0M174.7 67.8h0M174.5 68.7h0M173.8 61.9h0M172.8 71.1h0M173.2 70.6h0M172.4 67.8h0M174.3 80.8h0M174.2 72.0h0M172.7 75.2h0M174.2 77.1h0M172.7 68.8h0M171.8 64.8h0M174.4 66.0h0M176.3 77.0h0M172.7 98.5h0M187.9 81.1h0M189.5 65.9h0M186.2 68.6h0M185.9 72.2h0M189.8 76.8h0M186.9 98.6h0M187.7 64.6h0M190.1 83.9h0M190.2 83.5h0M187.3 76.2h0M190.6 79.1h0M190.4 76.4h0M188.8 77.0h0M187.3 81.6h0M187.3 87.9h0M187.9 68.1h0M189.0 74.5h0M185.5 78.7h0M185.5 88.3h0M185.7 88.0h0M188.9 82.7h0M189.5 88.6h0M185.9 77.2h0M189.8 70.5h0M189.7 72.9h0M186.6 69.3h0M186.8 88.9h0M186.6 94.2h0M186.2 89.3h0M186.2 94.5h0M189.6 68.2h0M190.5 76.7h0M190.5 81.4h0M187.6 73.3h0M190.2 86.8h0M189.0 71.8h0M188.8 86.8h0M186.3 85.7h0M189.3 80.7h0M186.4 65.9h0M187.5 93.4h0M189.1 77.7h0M188.0 63.5h0M186.2 69.4h0M189.5 76.0h0M189.1 84.2h0M188.4 82.4h0M187.6 73.8h0M187.1 81.7h0M188.2 73.3h0M188.6 77.0h0M186.3 61.9h0M186.9 58.6h0M188.6 75.8h0M186.7 68.5h0M188.5 74.2h0M185.2 78.3h0M190.1 75.9h0M188.0 92.7h0M187.9 78.7h0M186.3 87.7h0M187.3 77.3h0M185.9 89.2h0M185.8 73.7h0M187.6 84.3h0M189.6 67.9h0M188.7 76.4h0M187.2 79.3h0M188.6 78.4h0M187.4 83.6h0M186.5 74.2h0M188.7 79.0h0M189.3 78.9h0M186.5 71.3h0M189.3 70.3h0M189.8 79.3h0M187.7 86.0h0M186.1 83.1h0M189.4 79.5h0M188.1 93.3h0M188.7 91.9h0M185.2 82.1h0M186.9 66.1h0M188.1 68.7h0M189.7 76.0h0M186.2 87.1h0M188.9 84.8h0M190.3 82.7h0M186.1 84.9h0M188.6 79.1h0M185.9 85.3h0M189.1 82.1h0M185.2 77.9h0M190.0 82.3h0M194.4 84.3h0M193.1 83.6h0M193.2 89.7h0M193.0 87.9h0M194.6 87.4h0M197.7 81.5h0M195.7 89.6h0M194.3 88.8h0M195.1 90.0h0M196.4 85.3h0M194.3 74.8h0M196.7 93.9h0M192.2 84.4h0M192.9 85.0h0M195.2 93.2h0M195.8 77.8h0M194.4 83.2h0M196.9 86.7h0M192.9 80.6h0M193.8 103.2h0M195.1 74.9h0M193.3 78.1h0M196.9 75.1h0M196.2 86.6h0M193.3 77.4h0M194.2 82.0h0M193.9 87.3h0M194.2 77.3h0M195.3 67.6h0M194.5 77.6h0M193.4 78.2h0M192.4 83.0h0M194.7 74.4h0M194.5 74.2h0M197.2 88.9h0M194.0 83.6h0M194.5 89.6h0M196.9 80.7h0M194.1 78.9h0M194.2 76.7h0M193.7 67.8h0M192.2 83.1h0M194.7 88.1h0M194.3 76.7h0M196.1 92.1h0M195.7 93.8h0M195.7 80.2h0M194.7 78.9h0M193.4 79.0h0M197.6 78.2h0M192.7 73.8h0M193.9 74.7h0M195.5 86.4h0M197.5 86.9h0M195.5 85.1h0M195.3 90.2h0M197.0 82.6h0M195.5 92.3h0M196.7 81.6h0M192.7 91.0h0M194.3 83.8h0M194.6 77.5h0M194.7 70.6h0M195.8 74.0h0M192.5 77.4h0M192.4 77.9h0M193.6 92.2h0M194.4 66.3h0M193.3 89.9h0M193.9 91.8h0M196.6 88.0h0M193.6 92.3h0M193.8 92.1h0M193.4 72.9h0M192.4 80.7h0M194.1 63.9h0M192.5 86.6h0M193.2 78.3h0M196.0 92.6h0M196.6 75.8h0M196.0 81.7h0M197.6 80.7h0M195.2 71.3h0M192.2 85.1h0M197.3 81.3h0M195.9 92.8h0M195.3 85.1h0M194.4 86.1h0M193.1 78.8h0M195.3 87.1h0M196.2 83.4h0M197.4 81.5h0M194.4 92.5h0M195.8 83.6h0M194.0 76.2h0M195.6 72.8h0M194.5 85.8h0M195.0 84.2h0M196.2 78.5h0M195.1 103.2h0M194.1 65.9h0M194.3 69.2h0M194.9 84.7h0M196.3 86.4h0M193.6 83.8h0M195.8 62.9h0M196.6 81.6h0M197.0 87.8h0M192.5 86.3h0M193.1 75.3h0M192.8 89.6h0M196.8 86.5h0M193.3 68.2h0M195.1 81.1h0M193.9 100.2h0M195.2 73.9h0M196.1 82.3h0M193.1 83.6h0M194.2 71.6h0M195.2 79.1h0M195.2 75.1h0M194.8 71.2h0M193.9 87.4h0M194.9 83.9h0M193.5 80.2h0M192.2 79.7h0M194.2 86.0h0M195.9 71.2h0M195.1 88.2h0M193.3 85.4h0M196.8 72.1h0M195.7 73.9h0M196.6 80.9h0M193.8 88.6h0M195.2 62.4h0M194.0 79.8h0M194.5 71.4h0M193.0 83.2h0M193.5 71.9h0M195.6 87.9h0M194.6 82.9h0M196.3 80.9h0M192.5 74.8h0M193.3 80.5h0M195.2 83.9h0M195.6 87.2h0M196.6 81.2h0M193.7 82.8h0M193.9 77.8h0M193.1 82.2h0M197.0 80.3h0M194.4 87.5h0M194.6 87.4h0M193.5 83.9h0M194.6 89.9h0M196.3 76.0h0M194.2 82.7h0M193.3 95.5h0M196.7 82.1h0M193.9 86.6h0M193.2 78.9h0M194.9 90.6h0M194.8 84.2h0M194.8 73.6h0M193.3 80.6h0M195.4 85.7h0M194.9 88.6h0M196.7 90.4h0M195.7 95.0h0M194.6 63.0h0M196.0 76.9h0M194.3 70.3h0M194.3 67.1h0M196.4 71.6h0M192.9 80.6h0M195.7 78.1h0M193.2 78.2h0M195.1 78.9h0M192.7 86.6h0M195.4 80.2h0M194.1 81.1h0M194.6 78.2h0M193.6 91.5h0M196.6 70.4h0M195.7 93.8h0M195.4 69.8h0M192.7 77.6h0M196.3 88.6h0M196.1 79.7h0M192.9 74.7h0M194.7 81.6h0M196.9 86.6h0M195.4 74.9h0M193.8 87.5h0M193.6 90.7h0M196.5 78.3h0M196.4 80.6h0M196.7 83.2h0M193.4 83.3h0M195.1 64.9h0M192.9 79.1h0M193.3 78.0h0M193.0 80.8h0M197.1 84.9h0M195.0 112.7h0M195.7 87.1h0M197.5 83.8h0M193.4 72.0h0M194.8 108.5h0M197.3 77.9h0M192.8 90.3h0M192.5 86.4h0M193.5 75.9h0M196.1 77.5h0M194.0 100.0h0M193.4 90.6h0M193.0 73.1h0M196.8 84.3h0M195.6 95.1h0M195.4 89.8h0M195.8 75.5h0M192.8 76.4h0M194.5 82.6h0M195.1 87.4h0M193.1 80.0h0M193.7 82.6h0M196.1 67.0h0M192.5 83.6h0M195.9 88.8h0M195.7 69.6h0M196.1 84.6h0M196.2 79.8h0M196.6 88.7h0M192.9 83.2h0M194.4 89.7h0M196.6 78.7h0M194.6 60.2h0M197.1 86.8h0M193.1 86.1h0M195.3 73.8h0M196.8 87.4h0M197.6 83.7h0M195.2 70.7h0M196.7 82.1h0M196.3 84.0h0M195.6 86.3h0M195.1 95.6h0M195.2 85.8h0M194.2 83.3h0M197.0 85.7h0M196.0 80.1h0M193.4 82.4h0M193.8 88.1h0M196.0 81.1h0M197.3 85.3h0M197.2 81.0h0M195.8 93.0h0M192.5 87.8h0M195.1 81.4h0M194.4 80.2h0M193.4 88.9h0M197.0 81.0h0M194.7 80.4h0M195.3 78.5h0M194.9 75.5h0M194.3 95.8h0M193.7 81.0h0M195.3 78.7h0M193.2 83.5h0M196.3 89.2h0M193.8 78.8h0M196.1 74.3h0M193.3 79.6h0M197.1 89.7h0M192.2 80.2h0M195.0 72.4h0M193.7 94.4h0M196.1 84.1h0M193.3 82.2h0M192.2 86.4h0M196.0 79.4h0M195.8 105.9h0M195.1 75.7h0M194.2 89.0h0M194.0 88.9h0M192.7 90.3h0M193.0 70.7h0M194.1 90.8h0M194.2 97.4h0M193.5 87.8h0M194.2 82.2h0M194.6 80.1h0M193.1 88.0h0M193.2 77.5h0M194.6 79.7h0M192.1 80.0h0M196.3 75.4h0M193.8 85.4h0M194.4 87.0h0M193.3 83.6h0M194.6 82.9h0M197.5 86.4h0M196.5 72.5h0M195.4 75.8h0M192.6 84.2h0M194.6 63.6h0M195.6 84.0h0M193.0 79.9h0M192.7 74.8h0M195.5 85.3h0M194.9 98.6h0M196.2 80.8h0M194.2 79.3h0M196.2 92.0h0M193.1 73.7h0M196.6 84.7h0M194.3 84.7h0M192.3 85.5h0M195.9 60.4h0M196.9 74.2h0M195.3 101.2h0M194.2 81.6h0M197.5 82.2h0M195.4 76.0h0M196.9 88.8h0M193.8 82.6h0M196.4 82.1h0M194.1 65.7h0M194.3 77.0h0M196.2 86.9h0M194.0 96.9h0M196.2 73.7h0M192.8 88.1h0M194.7 69.2h0M196.1 93.7h0M195.5 73.1h0M193.8 90.3h0M195.3 67.7h0M196.9 83.1h0M196.6 78.9h0M196.2 89.8h0M195.8 73.1h0M196.6 88.2h0M194.3 75.5h0M193.9 87.5h0M196.6 82.0h0M193.6 87.2h0M194.0 96.0h0M193.2 70.9h0M192.7 74.3h0M196.1 97.6h0M193.4 78.2h0M196.9 80.1h0M193.9 76.5h0M196.6 89.9h0M194.8 72.7h0M196.2 76.5h0M195.9 94.6h0M193.4 84.4h0M196.8 87.8h0M194.0 69.7h0M195.3 83.2h0M196.1 77.0h0M195.9 76.8h0M195.7 92.7h0M194.1 77.3h0M192.5 81.8h0M194.9 78.1h0M196.7 86.9h0M204.2 72.3h0M203.4 72.7h0M199.8 65.9h0M203.5 72.9h0M200.5 64.0h0M202.9 71.3h0M199.6 67.4h0M199.6 75.4h0M201.9 84.6h0M201.9 76.8h0M203.7 84.8h0M200.8 80.2h0M201.0 61.9h0M199.4 73.4h0M201.7 92.5h0M200.4 66.5h0M203.1 84.1h0M200.5 70.1h0M201.7 64.7h0M201.7 68.6h0M204.4 69.3h0M201.7 65.7h0M201.8 67.1h0M201.6 65.5h0M202.6 61.9h0M202.6 64.3h0M204.4 72.6h0M202.0 81.0h0M202.0 67.8h0M204.7 68.7h0M202.6 75.5h0M200.2 79.0h0M199.4 72.7h0M200.2 67.9h0M202.9 54.1h0M203.1 57.8h0M201.3 67.0h0M201.9 82.7h0M200.7 76.6h0M199.5 67.6h0M203.7 76.8h0M199.7 77.7h0M203.9 75.5h0M201.6 47.0h0M200.7 69.6h0M202.0 65.8h0M204.2 70.9h0M202.0 76.2h0M200.5 62.8h0M202.0 63.1h0M202.8 69.9h0M202.2 65.0h0M203.9 71.7h0M204.5 74.6h0M200.2 63.5h0M201.9 70.6h0M202.3 85.1h0M200.5 69.7h0M200.1 73.4h0M202.2 59.5h0M202.6 73.5h0M200.8 72.8h0M204.1 63.1h0M202.3 56.7h0M203.9 78.7h0M204.6 68.5h0M217.0 102.8h0M218.6 92.1h0M215.2 87.7h0M217.3 83.2h0M218.3 86.5h0M214.9 83.3h0M215.9 83.1h0M215.4 87.3h0M214.3 100.0h0M218.1 98.3h0M216.4 94.8h0M215.8 84.6h0M216.3 73.6h0M218.0 96.9h0M217.4 99.8h0M215.7 88.5h0M214.7 93.1h0M217.7 96.1h0M217.2 89.9h0M217.5 75.9h0M215.8 94.5h0M214.9 87.1h0M217.6 90.6h0M215.1 82.7h0M215.6 89.6h0M217.6 74.1h0M217.0 94.7h0M214.9 78.7h0M215.7 86.8h0M216.0 85.6h0M217.5 89.6h0M214.0 83.3h0M214.6 94.4h0M214.4 94.8h0M216.9 89.8h0M214.5 97.1h0M215.9 84.6h0M215.5 90.1h0M218.6 80.8h0M214.7 103.2h0M214.8 78.2h0M214.1 85.4h0M216.0 59.6h0M216.9 102.9h0M217.4 97.9h0M217.9 80.9h0M215.0 109.1h0M213.9 87.4h0M218.2 82.6h0M218.6 89.3h0M217.6 77.8h0M216.4 83.6h0M214.9 84.9h0M217.3 91.1h0M218.3 82.5h0M216.9 84.2h0M213.6 82.2h0M216.1 85.2h0M213.9 89.0h0M215.6 81.4h0M216.8 87.8h0M214.7 84.5h0M214.7 87.4h0M216.8 95.1h0M213.6 86.3h0M215.3 79.7h0M216.6 68.2h0M214.3 99.5h0M217.7 81.5h0M217.2 53.4h0M218.7 89.8h0M217.4 76.8h0M215.9 81.9h0M215.3 80.2h0M215.0 79.7h0M215.1 86.2h0M217.9 96.1h0M215.1 77.3h0M215.8 108.1h0M213.9 86.5h0M218.3 90.1h0M217.8 83.9h0M216.4 64.0h0M213.6 87.2h0M214.9 94.1h0M216.0 78.2h0M218.1 89.5h0M214.5 71.5h0M217.0 82.7h0M217.9 85.7h0M219.0 82.6h0M216.4 81.1h0M215.2 82.0h0M216.8 84.1h0M217.7 104.0h0M213.7 86.5h0M217.1 59.3h0M218.6 81.9h0M218.1 90.5h0M215.6 74.8h0M214.3 78.0h0M215.3 82.0h0M214.2 90.6h0M215.5 90.9h0M217.4 92.6h0M215.6 99.6h0M216.7 68.9h0M217.0 98.8h0M216.1 79.4h0M216.1 88.6h0M214.7 94.3h0M213.6 86.0h0M216.1 100.6h0M217.3 90.8h0M217.7 93.1h0M217.4 77.0h0M215.3 71.7h0M213.8 79.3h0M214.7 94.9h0M217.9 100.0h0M216.6 102.0h0M217.1 83.3h0M215.0 91.5h0M215.0 98.1h0M214.7 96.3h0M215.2 83.2h0M216.2 95.8h0M214.6 79.6h0M215.2 84.0h0M216.9 88.5h0M214.7 98.2h0M218.5 97.4h0M217.7 94.8h0M217.0 84.1h0M215.9 84.6h0M214.8 96.2h0M214.4 96.6h0M213.6 88.6h0M216.7 88.8h0M216.4 108.2h0M217.6 88.2h0M215.7 100.4h0M217.6 82.3h0M217.5 78.5h0M215.2 90.8h0M213.9 91.8h0M214.7 94.2h0M214.2 96.5h0M215.7 86.9h0M217.6 69.5h0M217.4 84.3h0M217.0 97.4h0M215.7 92.2h0M215.3 109.9h0M216.8 74.8h0M215.8 107.2h0M219.1 87.4h0M217.2 92.2h0M213.8 93.9h0M217.4 86.8h0M216.2 91.7h0M214.2 91.0h0M215.1 105.3h0M214.1 92.3h0M217.9 82.0h0M215.9 74.3h0M216.2 92.3h0M213.8 89.0h0M215.8 90.4h0M216.3 75.2h0M216.4 79.9h0M216.6 102.8h0M216.5 79.0h0M214.5 87.3h0M216.4 79.0h0M214.5 92.5h0M215.9 85.6h0M214.6 87.5h0M215.3 97.5h0M216.3 79.4h0M217.0 61.5h0M213.7 92.6h0M217.9 79.8h0M216.5 94.2h0M216.4 95.7h0M215.9 70.0h0M214.2 89.2h0M217.8 73.4h0M216.5 80.9h0M218.8 93.5h0M215.3 62.0h0M216.8 82.6h0M214.7 92.8h0M215.7 88.9h0M218.0 90.8h0M217.9 83.0h0M214.7 90.2h0M214.9 94.1h0M217.0 81.7h0M217.3 95.5h0M216.2 87.5h0M217.3 84.5h0M216.9 91.2h0M216.1 79.5h0M215.4 95.3h0M217.4 75.5h0M217.6 100.1h0M217.3 78.7h0M215.2 101.4h0M217.8 98.0h0M218.2 81.1h0M218.8 84.7h0M217.6 70.1h0M214.5 90.9h0M216.6 85.3h0M214.3 85.6h0M218.0 90.3h0M218.8 85.8h0M214.6 85.2h0M217.3 76.5h0M218.0 88.7h0M217.2 71.2h0M217.6 99.1h0M218.1 80.8h0M217.3 96.6h0M218.0 101.1h0M216.1 82.2h0M214.7 89.4h0M216.6 95.1h0M216.5 87.4h0M216.4 62.5h0M215.4 82.9h0M216.0 94.0h0M216.6 73.8h0M215.8 63.1h0M216.1 78.3h0M218.9 82.2h0M215.5 94.3h0M218.4 77.2h0M217.1 78.7h0M216.5 82.7h0M213.6 91.5h0M215.3 84.4h0M217.0 95.9h0M218.0 94.3h0M217.2 84.5h0M216.9 86.2h0M217.3 81.7h0M215.6 91.5h0M215.6 76.8h0M217.0 75.2h0M216.5 74.1h0M215.4 87.5h0M217.6 70.6h0M215.3 108.3h0M214.4 89.9h0M217.8 73.1h0M215.2 77.2h0M214.9 101.4h0M217.7 81.4h0M216.4 103.6h0M217.5 84.8h0M216.0 85.7h0M218.5 79.4h0M216.2 82.6h0M214.1 87.1h0M214.4 79.2h0M217.3 106.4h0M218.5 89.6h0M214.0 83.8h0M214.5 75.1h0M215.7 80.5h0M217.3 65.7h0M218.9 88.5h0M218.0 87.1h0M217.1 72.1h0M214.0 83.2h0M216.5 103.6h0M214.8 93.1h0M218.7 87.7h0M218.2 80.2h0M213.7 82.7h0M214.6 96.0h0M218.6 82.9h0M216.4 87.7h0M216.0 69.4h0M218.3 97.4h0M217.5 89.4h0M215.1 81.9h0M217.0 61.7h0M218.3 95.9h0M213.7 94.6h0M214.2 99.1h0M217.0 83.3h0M213.8 84.1h0M217.8 87.9h0M214.8 91.4h0M215.1 93.5h0M216.9 94.0h0M213.9 87.9h0M214.8 84.0h0M216.9 103.7h0M214.5 98.4h0M218.7 90.5h0M213.8 92.6h0M218.2 84.5h0M215.4 86.1h0M215.3 95.8h0M214.3 82.9h0M217.1 81.1h0M216.5 55.9h0M218.7 94.7h0M218.5 83.1h0M218.4 90.5h0M215.1 79.4h0M216.8 99.7h0M216.5 87.7h0M214.8 102.9h0M217.6 98.3h0M216.0 94.5h0M217.2 62.9h0M215.6 77.8h0M217.4 81.7h0M218.2 81.3h0M215.7 71.1h0M218.2 88.2h0M216.6 82.8h0M214.2 85.8h0M213.9 86.0h0M215.8 99.1h0M217.8 102.5h0M215.6 90.6h0M218.6 84.8h0M216.3 93.9h0M215.1 91.6h0M215.9 72.5h0M217.1 79.6h0M215.3 89.5h0M218.5 87.2h0M216.5 94.0h0M214.9 99.4h0M213.5 83.6h0M215.9 86.9h0M217.7 80.8h0M217.1 81.8h0M214.3 84.3h0M215.4 80.9h0M217.8 102.5h0M217.3 98.9h0M214.7 69.7h0M214.4 95.3h0M217.2 86.8h0M216.6 80.5h0M215.5 76.3h0M214.5 82.4h0M216.8 90.1h0M214.6 81.2h0M214.4 94.0h0M216.7 81.1h0M214.7 86.9h0M215.7 72.6h0M216.7 69.6h0M215.9 95.1h0M214.1 90.7h0M215.0 96.4h0M215.7 95.0h0M218.6 80.0h0M214.2 89.3h0M217.7 95.2h0M216.4 100.5h0M216.9 91.7h0M217.2 70.6h0M218.2 75.1h0M218.1 100.4h0M215.0 84.4h0M217.2 79.2h0M218.1 88.1h0M214.5 92.4h0M214.8 96.2h0M216.6 90.4h0M218.2 85.5h0M213.5 87.6h0M218.8 91.4h0M217.6 69.6h0M217.1 85.5h0M214.1 86.6h0M218.6 97.2h0M214.8 79.4h0M215.1 89.3h0M216.8 78.7h0M216.3 83.1h0M216.7 98.2h0M215.6 70.7h0M217.8 85.2h0M217.1 92.0h0M216.6 98.2h0M217.6 109.6h0M217.8 81.0h0M215.5 92.4h0M217.1 85.3h0M218.9 85.1h0M217.9 103.2h0M215.7 92.2h0M218.0 83.7h0M214.1 97.5h0M214.1 96.9h0M215.9 96.9h0M215.5 97.0h0M216.3 90.1h0M218.2 89.9h0M215.9 92.9h0M217.2 93.6h0M216.5 75.1h0M215.9 106.9h0M215.4 74.8h0M218.4 89.1h0M215.9 95.2h0M218.7 89.9h0M216.6 86.7h0M214.8 92.2h0M218.0 71.8h0M217.3 105.0h0M218.3 78.7h0M216.6 94.6h0M214.8 102.8h0M213.5 89.7h0M217.0 86.8h0M217.6 101.5h0M216.2 92.3h0M215.7 91.8h0M214.2 79.2h0M216.0 86.0h0M214.3 94.0h0M216.0 92.4h0M215.8 96.8h0M214.8 90.4h0M216.1 81.9h0M214.2 97.1h0M216.6 61.7h0M213.8 92.7h0M215.2 95.0h0M218.9 93.5h0M214.3 77.1h0M215.6 84.9h0M214.9 70.2h0M216.9 83.0h0M216.0 75.9h0M215.6 73.1h0M215.8 75.9h0M218.4 87.0h0M214.4 85.3h0M216.2 80.0h0M217.1 90.4h0M214.2 93.9h0M218.0 85.0h0M215.0 76.0h0M218.5 95.8h0M217.2 98.4h0M215.7 83.3h0M214.3 86.6h0M217.4 65.1h0M215.1 95.4h0M215.0 69.6h0M214.8 97.2h0M217.3 88.0h0M229.5 98.6h0M232.0 96.8h0M228.6 97.0h0M230.2 88.6h0M231.2 112.1h0M228.7 96.6h0M228.4 98.6h0M233.4 91.7h0M231.1 75.5h0M232.4 85.2h0M232.8 99.1h0M228.4 86.7h0M232.1 110.7h0M229.3 96.3h0M232.1 100.9h0M228.7 93.8h0M229.6 84.3h0M231.2 104.6h0M232.7 82.8h0M230.9 83.9h0M230.1 96.8h0M228.3 80.9h0M231.5 110.5h0M229.7 112.5h0M230.1 79.6h0M230.1 87.1h0M228.5 103.5h0M228.9 93.2h0M231.3 72.1h0M231.1 73.3h0M230.0 77.6h0M230.2 82.5h0M232.9 80.7h0M229.6 96.5h0M231.6 97.8h0M229.6 115.7h0M233.3 91.9h0M228.9 90.1h0M231.7 88.9h0M232.2 89.1h0M229.7 94.2h0M230.8 81.8h0M231.8 90.0h0M231.1 95.8h0M231.9 99.7h0M232.2 90.1h0M230.9 80.0h0M229.7 95.5h0M231.5 111.2h0M232.1 92.9h0M229.6 94.9h0M228.2 82.3h0M232.8 99.7h0M230.4 85.5h0M231.4 76.0h0M229.0 92.0h0M232.0 81.3h0M232.4 101.8h0M231.0 90.4h0M229.9 72.7h0M230.3 85.3h0M229.1 98.9h0M232.2 91.5h0M230.7 83.6h0M229.6 86.1h0M231.9 113.4h0M229.7 87.6h0M230.9 106.4h0M229.7 76.1h0M230.4 100.0h0M230.7 96.5h0M229.7 103.8h0M230.5 76.0h0M232.6 91.0h0M230.6 97.7h0M229.5 88.7h0M231.6 89.4h0M229.5 67.6h0M229.5 95.5h0M232.6 99.0h0M230.4 84.8h0M231.6 98.2h0M229.4 93.2h0M231.6 84.0h0M232.4 100.1h0M230.5 104.9h0M232.3 105.1h0M231.7 114.6h0M230.3 97.0h0M233.0 80.3h0M230.1 73.9h0M229.5 103.6h0M232.9 86.7h0M231.6 97.0h0M229.0 87.8h0M229.4 100.1h0M229.2 71.4h0M232.6 95.7h0M230.4 83.2h0M229.9 99.5h0M231.3 66.6h0M232.6 92.1h0M231.0 81.9h0M231.9 89.4h0M232.0 86.0h0M230.6 84.2h0M229.5 103.7h0M230.7 98.0h0M229.6 112.3h0M229.5 85.4h0M233.0 93.5h0M232.5 105.6h0M230.1 84.8h0M232.3 74.3h0M230.4 67.6h0M231.9 106.9h0M230.9 90.0h0M230.3 78.0h0M231.9 105.7h0M229.3 82.2h0M231.4 81.0h0M232.2 91.1h0M228.5 87.8h0M230.7 100.4h0M228.9 83.8h0M231.8 110.0h0M232.1 97.9h0M231.8 96.7h0M232.3 81.2h0M231.3 104.9h0M229.0 82.5h0M230.9 85.7h0M230.7 87.3h0M230.3 99.2h0M228.2 82.3h0M229.5 96.6h0M229.8 99.7h0M233.0 86.5h0M229.5 86.9h0M231.4 86.0h0M229.1 88.5h0M229.2 69.9h0M229.4 72.5h0M231.4 80.6h0M228.9 101.7h0M231.5 95.1h0M230.2 112.5h0M232.1 88.6h0M232.5 95.5h0M231.0 83.5h0M229.8 87.3h0M231.1 87.5h0M228.6 91.1h0M229.7 84.2h0M230.5 94.4h0M230.0 94.9h0M230.9 71.9h0M231.1 109.6h0M232.0 70.6h0M230.7 86.9h0M230.4 88.2h0M230.5 90.7h0M230.7 93.8h0M230.2 118.4h0M231.0 89.7h0M232.4 106.8h0M230.6 83.3h0M231.4 96.5h0M228.2 94.9h0M229.4 79.2h0M229.5 89.3h0M232.7 88.6h0M230.5 93.8h0M232.4 85.8h0M229.2 81.3h0M229.7 70.2h0M231.2 98.0h0M230.5 114.9h0M231.3 78.4h0M233.0 95.6h0M228.9 92.9h0M228.2 84.4h0M229.4 90.6h0M228.8 103.3h0M232.1 100.4h0M229.0 87.0h0M228.3 96.4h0M232.6 96.5h0M229.6 97.8h0M229.9 81.2h0M229.1 96.9h0M229.9 91.6h0M230.6 72.5h0M228.0 87.2h0M230.2 76.4h0M228.8 102.3h0M228.9 98.3h0M230.6 106.7h0M232.9 81.4h0M228.7 88.6h0M228.0 85.3h0M231.8 89.6h0M231.8 84.9h0M230.7 83.6h0M228.1 81.4h0M232.0 95.6h0M231.1 79.6h0M230.7 99.3h0M230.5 93.0h0M229.9 93.0h0M231.7 120.7h0M229.8 76.8h0M230.8 102.2h0M231.8 74.7h0M227.8 91.2h0M229.2 98.7h0M230.3 100.9h0M232.7 78.5h0M229.9 88.9h0M230.2 74.9h0M230.3 90.4h0M231.9 92.8h0M232.3 83.8h0M229.6 108.1h0M231.5 94.6h0M232.0 78.8h0M229.5 105.4h0M231.0 92.4h0M232.2 82.0h0M231.7 70.9h0M232.0 89.7h0M230.9 80.2h0M228.3 94.3h0M232.8 95.0h0M231.4 76.7h0M233.1 97.3h0M230.1 114.3h0M230.8 101.1h0M230.2 70.7h0M231.1 87.8h0M228.0 97.0h0M230.8 100.4h0M228.9 92.5h0M230.9 95.6h0M230.5 79.8h0M233.0 81.0h0M228.3 86.4h0M228.8 92.0h0M232.3 96.4h0M233.0 87.8h0M228.9 77.8h0M230.8 108.7h0M228.3 84.1h0M232.1 93.4h0M229.8 92.2h0M229.2 80.2h0M229.7 111.3h0M232.9 95.3h0M245.8 84.8h0M242.9 68.6h0M245.1 74.9h0M244.0 81.6h0M245.7 74.3h0M245.8 83.8h0M246.3 82.2h0M247.0 76.7h0M246.4 70.6h0M244.0 74.8h0M247.0 75.5h0M245.0 72.4h0M242.3 81.6h0M245.6 85.3h0M246.1 82.2h0M243.1 79.4h0M245.7 78.1h0M243.8 74.9h0M244.5 71.2h0M245.3 76.3h0M246.5 74.0h0M242.3 83.2h0M244.0 89.8h0M244.8 83.0h0M246.1 77.6h0M243.5 87.5h0M246.1 74.9h0M244.5 83.7h0M244.8 72.8h0M246.2 72.5h0M246.4 73.2h0M243.3 64.4h0M242.1 75.7h0M246.9 79.2h0M245.8 82.4h0M243.2 76.3h0M244.2 76.1h0M246.0 76.3h0M247.5 78.2h0M246.7 72.1h0M246.2 62.7h0M243.4 69.7h0M244.9 74.5h0M247.2 72.1h0M243.1 73.5h0M244.4 86.0h0M243.3 77.1h0M246.8 86.5h0M243.5 82.5h0M247.3 80.0h0M242.8 73.0h0M242.1 77.4h0M244.8 67.7h0M244.1 84.3h0M244.6 82.3h0M242.8 69.4h0M243.4 79.0h0M244.1 74.6h0M243.4 82.6h0M246.0 83.3h0M243.8 80.9h0M246.6 76.6h0M243.1 71.5h0M247.1 79.1h0M246.5 87.2h0M244.1 76.3h0M243.7 86.7h0M243.3 75.5h0M245.9 74.0h0M245.0 76.1h0M244.3 91.9h0M242.8 79.3h0M245.8 71.6h0M246.0 82.6h0M243.6 76.0h0M244.6 76.0h0M242.6 82.6h0M242.9 72.8h0M243.3 85.7h0M246.6 72.4h0M242.5 82.1h0M243.7 67.2h0M243.4 78.1h0M245.6 75.6h0M244.1 90.7h0M244.9 73.5h0M246.9 79.4h0M244.3 73.7h0M247.1 71.1h0M246.9 88.0h0M243.7 80.2h0M246.3 65.0h0M242.8 74.0h0M245.1 89.6h0M245.3 87.3h0M242.9 78.8h0M243.5 94.2h0M244.8 80.6h0M244.9 76.7h0M243.2 74.7h0M243.7 70.7h0M244.2 68.8h0M245.8 63.8h0M244.9 68.9h0M245.1 72.1h0M246.7 86.2h0M245.9 78.7h0M243.6 80.7h0M246.9 77.0h0M243.4 80.2h0M245.9 83.5h0M244.8 81.7h0M244.6 71.3h0M243.9 86.7h0M242.8 84.2h0M244.3 77.3h0M243.2 77.1h0M245.1 81.6h0M245.9 77.0h0M243.5 69.1h0M246.4 80.9h0M246.1 73.9h0M245.3 78.7h0M246.7 79.6h0M247.0 72.7h0M244.6 74.3h0M244.9 68.8h0M242.9 87.7h0M245.5 80.9h0M243.8 71.8h0M245.2 68.1h0M245.4 68.0h0M245.3 87.2h0M247.3 82.8h0M244.5 77.8h0M243.8 80.6h0M244.7 72.2h0M247.3 77.8h0M247.2 79.2h0M244.2 81.5h0M242.7 81.0h0M244.9 74.1h0M246.8 78.4h0M245.4 78.6h0M247.6 80.0h0M245.7 86.3h0M243.6 81.0h0M243.7 83.3h0M243.7 70.5h0M244.1 89.3h0M246.6 67.7h0M243.8 73.5h0M244.3 63.2h0M245.9 80.8h0M244.6 81.6h0M245.5 80.9h0M244.6 82.4h0M242.6 71.4h0M246.9 70.5h0M254.2 100.2h0M253.0 84.6h0M254.1 91.8h0M253.1 105.2h0M251.9 94.1h0M252.5 102.7h0M251.9 88.0h0M251.4 84.6h0M252.9 115.6h0M252.7 87.3h0M250.5 116.3h0M252.8 126.3h0M254.5 99.5h0M250.6 114.2h0M250.0 117.5h0M249.8 83.8h0M251.5 116.1h0M251.2 113.6h0M252.6 105.1h0M251.7 78.8h0M254.5 83.9h0M254.5 100.0h0M249.7 111.6h0M253.6 125.6h0M253.0 117.7h0M254.2 85.8h0M249.8 104.1h0M251.6 110.4h0M252.5 110.2h0M253.1 107.9h0M252.2 103.2h0M250.9 98.8h0M253.9 90.4h0M253.8 76.6h0M250.2 102.4h0M252.8 104.8h0M250.2 105.7h0M252.7 87.7h0M254.7 102.7h0M254.1 83.9h0M252.0 79.5h0M252.4 88.1h0M251.8 115.3h0M249.3 96.2h0M254.1 96.6h0M252.6 97.8h0M252.2 85.5h0M254.4 93.9h0M254.7 90.3h0M254.7 89.4h0M251.4 69.6h0M252.6 94.9h0M253.6 90.3h0M250.1 92.3h0M253.4 82.1h0M254.1 101.5h0M251.4 96.3h0M250.4 89.9h0M250.1 78.9h0M254.4 111.3h0M251.9 77.0h0M250.2 115.1h0M252.3 84.9h0M250.9 94.8h0M254.4 107.7h0M250.1 108.9h0M252.5 68.6h0M254.1 109.4h0M252.6 103.7h0M250.0 87.1h0M252.7 111.4h0M251.2 90.7h0M254.4 95.1h0M252.3 94.2h0M252.5 67.0h0M250.8 90.3h0M249.3 100.5h0M251.6 75.2h0M251.5 126.0h0M252.0 94.4h0M253.7 111.1h0M252.5 112.8h0M250.0 104.2h0M250.5 126.3h0M252.9 94.0h0M253.1 120.4h0M252.9 78.3h0M251.2 104.6h0M251.5 113.1h0M251.1 107.6h0M249.7 88.9h0M253.7 73.4h0M252.3 100.8h0M249.4 101.5h0M250.3 77.3h0M252.7 95.4h0M253.2 68.7h0M250.0 96.4h0M252.5 106.2h0M250.9 87.3h0M251.1 86.8h0M253.8 87.5h0M251.3 99.1h0M252.6 71.7h0M252.0 97.3h0M250.9 98.2h0M253.9 104.2h0M251.5 117.8h0M250.1 108.4h0M252.2 111.2h0M254.0 92.0h0M252.9 83.4h0M250.3 88.7h0M253.2 102.9h0M253.0 63.6h0M254.1 92.2h0M252.1 123.4h0M249.8 85.0h0M253.6 107.5h0M253.0 89.9h0M251.8 73.8h0M249.7 99.6h0M253.6 95.1h0M253.0 84.7h0M250.7 94.4h0M252.1 120.8h0M253.9 78.3h0M250.3 78.0h0M250.9 79.7h0M252.1 107.9h0M254.6 103.6h0M251.5 77.4h0M251.5 60.8h0M250.4 90.4h0M254.5 94.4h0M252.7 65.2h0M252.2 93.5h0M253.7 95.0h0M249.7 101.7h0M250.0 80.9h0M253.7 104.6h0M251.3 80.4h0M254.6 89.3h0M253.0 92.5h0M250.6 123.2h0M252.4 94.0h0M252.0 97.8h0M252.8 127.2h0M250.2 116.6h0M251.9 118.5h0M251.5 92.7h0M252.0 104.5h0M253.0 92.6h0M250.5 67.7h0M250.9 63.7h0M253.4 121.6h0M249.4 88.0h0M251.4 104.6h0M251.9 98.2h0M251.8 93.5h0M251.1 107.6h0M250.0 100.2h0M253.9 97.8h0M250.9 91.8h0M254.2 95.0h0M250.7 83.2h0M252.1 114.2h0M250.8 107.7h0M250.9 100.9h0M251.4 77.7h0M252.4 97.7h0M249.8 95.9h0M252.6 75.9h0M252.4 117.7h0M250.8 83.6h0M250.5 88.2h0M254.5 107.5h0M253.8 91.6h0M254.0 96.7h0M252.4 74.1h0M253.3 95.3h0M251.7 85.5h0M249.5 106.9h0M253.7 94.9h0M254.1 90.3h0M251.0 101.4h0M252.9 67.6h0M253.3 68.5h0M250.5 83.0h0M250.1 81.6h0M254.1 83.5h0M254.3 102.7h0M249.8 109.0h0M251.9 89.1h0M252.9 93.3h0M250.2 103.6h0M251.5 113.0h0M250.8 104.7h0M252.1 121.6h0M252.9 111.8h0M250.8 84.6h0M252.8 99.0h0M254.6 91.1h0M250.2 82.3h0M253.6 97.7h0M250.9 105.9h0M250.6 96.9h0M253.1 124.6h0M252.8 99.3h0M254.4 93.6h0M253.2 105.0h0M250.2 97.4h0M252.0 76.7h0M250.9 100.8h0M250.4 122.5h0M253.9 110.3h0M249.9 87.0h0M254.3 96.0h0M252.9 108.9h0M250.2 90.5h0M250.0 94.2h0M251.0 112.2h0M252.4 106.0h0M253.4 84.5h0M254.7 105.4h0M253.5 83.5h0M249.7 103.6h0M251.5 91.0h0M250.5 108.9h0M252.4 80.4h0M251.2 58.8h0M251.3 94.3h0M254.6 90.7h0M251.8 112.0h0M254.4 86.9h0M250.0 104.1h0M254.0 115.0h0M254.0 83.3h0M253.2 90.1h0M250.4 81.9h0M254.2 90.4h0M254.8 93.0h0M253.1 87.9h0M249.8 101.7h0M254.0 113.5h0M252.7 123.3h0M249.6 100.1h0M251.0 115.3h0M252.0 114.9h0M249.7 105.6h0M253.0 112.0h0M250.6 77.3h0M251.3 111.7h0M249.6 105.9h0M253.5 81.2h0M254.5 89.4h0M250.0 92.6h0M252.0 110.6h0M253.2 90.4h0M252.1 122.6h0M251.4 69.0h0M252.0 77.6h0M252.5 99.9h0M250.3 85.0h0M250.1 110.4h0M251.8 93.3h0M251.7 110.1h0M251.9 110.5h0M249.5 104.7h0M249.8 96.7h0M249.2 96.8h0M251.0 68.4h0M251.4 103.4h0M250.3 96.9h0M253.6 90.8h0M251.3 75.2h0M253.6 101.7h0M249.7 84.9h0M249.9 87.9h0M254.2 99.2h0M252.9 77.2h0M252.6 111.6h0M250.4 117.7h0M253.8 117.1h0M249.8 83.8h0M251.9 110.9h0M251.5 77.2h0M252.5 86.8h0M250.3 110.8h0M252.1 81.5h0M254.7 89.4h0M252.5 84.7h0M251.5 94.7h0M252.5 80.3h0M249.8 111.3h0M254.3 98.0h0M253.0 114.1h0M250.4 76.2h0M250.6 97.2h0M251.4 99.3h0M252.1 115.3h0M252.1 96.4h0M251.6 115.2h0M252.9 112.4h0M253.1 108.3h0M250.2 110.5h0M253.8 81.4h0M252.4 91.5h0M250.1 112.7h0M249.7 99.2h0M253.7 74.7h0M250.3 112.4h0M253.4 84.0h0M250.2 75.1h0M251.5 67.7h0M251.5 76.9h0M252.8 88.3h0M253.1 78.6h0M252.3 72.7h0M250.6 96.2h0M250.8 97.5h0M250.4 80.1h0M250.4 90.5h0M249.9 85.9h0M252.0 68.0h0M254.1 83.1h0M249.5 89.0h0M251.3 92.9h0M254.1 87.6h0M254.3 110.2h0M252.9 63.6h0M251.2 84.3h0M251.5 68.4h0M252.6 87.9h0M251.7 120.3h0M254.5 104.3h0M250.2 113.9h0M252.4 88.4h0M250.2 79.5h0M253.2 100.5h0M252.2 93.2h0M251.6 102.1h0M250.0 99.7h0M250.4 92.2h0M254.4 110.8h0M251.8 122.2h0M252.2 73.7h0M253.2 121.4h0M254.5 105.6h0M250.8 61.0h0M253.5 81.0h0M253.8 76.7h0M250.9 116.3h0M254.8 97.8h0M252.4 81.2h0M251.4 99.3h0M249.6 98.5h0M251.3 113.9h0M253.2 61.5h0M253.0 99.2h0M252.2 74.4h0M249.9 89.2h0M251.7 106.0h0M253.0 101.5h0M250.7 76.0h0M253.0 119.5h0M251.3 117.5h0M250.8 113.3h0M253.9 78.4h0M251.2 94.8h0M253.2 99.4h0M254.1 104.3h0M252.2 87.2h0M250.2 110.9h0M250.6 68.3h0M252.8 95.1h0M252.0 105.8h0M250.7 96.5h0M251.0 105.2h0M251.5 111.6h0M250.2 82.2h0M252.9 84.2h0M252.9 85.4h0M249.7 95.4h0M251.4 86.3h0M251.4 113.2h0M251.9 111.7h0M252.9 104.6h0M253.1 60.5h0M250.4 102.7h0M250.1 94.3h0M253.7 113.7h0M253.7 108.8h0M251.1 70.2h0M252.7 83.7h0M252.1 119.6h0M251.9 96.3h0M251.9 93.5h0M254.4 110.4h0M250.0 97.7h0M254.2 112.4h0M252.0 114.4h0M253.5 110.8h0M252.2 106.8h0M253.9 75.3h0M250.5 91.4h0M253.2 74.8h0M250.2 98.6h0M249.2 97.7h0M253.7 93.5h0M249.8 95.8h0M250.9 123.9h0M253.5 91.4h0M253.9 74.5h0M250.6 94.6h0M254.8 98.2h0M251.1 89.3h0M251.0 81.3h0M252.6 86.9h0M251.0 92.4h0M252.4 109.1h0M252.6 97.0h0M249.6 91.8h0M254.7 94.4h0M253.8 97.4h0M251.9 109.1h0M253.2 99.8h0M253.3 81.8h0M251.3 99.4h0M250.3 114.8h0M250.0 77.4h0M252.7 67.3h0M253.5 75.5h0M251.3 89.5h0M253.8 83.2h0M251.0 121.4h0M251.5 111.4h0M249.4 102.3h0M251.7 107.3h0M250.2 99.7h0M250.9 106.0h0M253.7 99.8h0M252.3 105.3h0M253.5 68.8h0M251.6 78.7h0M253.0 74.2h0M251.2 110.3h0M252.5 89.0h0M250.7 107.4h0M253.2 78.5h0M260.9 100.4h0M257.3 98.3h0M258.2 91.5h0M257.3 90.5h0M258.1 92.4h0M259.8 89.2h0M261.6 90.9h0M258.1 101.3h0M261.3 101.9h0M256.6 100.8h0M257.9 93.6h0M256.3 95.1h0M260.2 91.7h0M256.4 93.5h0M258.5 99.4h0M261.2 104.0h0M259.0 90.0h0M258.0 105.6h0M259.5 91.2h0M257.1 79.7h0M258.4 86.6h0M260.7 93.2h0M257.8 71.8h0M260.6 111.3h0M257.1 82.6h0M258.2 91.5h0M259.0 100.2h0M259.4 92.0h0M260.3 92.3h0M261.5 85.8h0M258.8 96.2h0M258.0 112.2h0M258.5 99.2h0M261.4 94.3h0M260.1 114.7h0M256.6 87.6h0M257.5 75.0h0M258.4 112.3h0M260.7 91.3h0M257.4 82.2h0M259.4 110.1h0M256.8 91.1h0M261.6 90.8h0M257.5 99.3h0M258.1 74.1h0M258.7 88.6h0M258.4 86.2h0M259.4 82.4h0M258.3 104.1h0M259.0 88.7h0M259.3 100.5h0M261.2 96.8h0M258.5 85.9h0M257.9 80.7h0M258.2 118.6h0M258.6 89.3h0M260.2 94.7h0M260.0 85.1h0M259.6 104.1h0M261.1 103.5h0M260.9 98.7h0M257.2 92.3h0M259.6 84.7h0M256.5 95.4h0M260.4 105.2h0M257.3 98.2h0M258.2 116.5h0M256.8 90.4h0M261.3 86.8h0M258.3 104.5h0M259.9 79.8h0M258.7 69.6h0M257.6 95.3h0M261.2 96.5h0M261.4 89.1h0M257.6 107.0h0M258.0 89.4h0M258.8 136.5h0M259.3 100.8h0M258.4 82.8h0M259.6 89.2h0M258.1 95.5h0M261.4 87.5h0M257.6 83.7h0M258.2 104.5h0M260.5 111.7h0M260.3 89.9h0M258.0 98.5h0M258.3 79.3h0M259.0 102.1h0M260.3 87.9h0M257.6 91.4h0M257.1 86.6h0M257.4 89.4h0M261.3 86.1h0M260.8 92.5h0M257.9 92.5h0M260.4 99.4h0M260.8 92.5h0M259.6 94.4h0M258.5 85.2h0M257.7 99.5h0M257.3 85.9h0M261.1 103.8h0M261.8 93.4h0M261.5 92.7h0M260.6 103.7h0M260.9 91.1h0M260.0 102.9h0M258.4 80.3h0M259.9 104.5h0M258.6 86.5h0M257.4 82.7h0M259.0 81.0h0M261.7 97.9h0M261.8 92.5h0M259.9 96.6h0M258.1 70.8h0M261.1 104.9h0M259.5 97.3h0M256.9 94.6h0M259.8 85.2h0M258.3 86.4h0M261.3 101.1h0M261.3 94.9h0M257.1 86.3h0M256.9 81.0h0M260.9 96.2h0M257.1 85.6h0M261.3 84.4h0M258.8 106.4h0M261.7 87.1h0M260.1 79.0h0M256.7 96.8h0M261.0 105.0h0M261.7 94.9h0M257.0 81.3h0M258.9 88.6h0M258.4 104.6h0M259.7 84.1h0M258.7 78.0h0M261.1 91.7h0M257.4 104.3h0M261.2 88.8h0M259.7 96.3h0M259.6 92.2h0M261.4 86.8h0M259.2 91.6h0M261.4 86.7h0M257.0 90.8h0M257.2 84.2h0M256.6 87.2h0M257.9 95.1h0M260.7 98.0h0M260.1 66.6h0M257.3 87.2h0M259.9 116.0h0M257.0 93.7h0M258.7 97.7h0M260.2 71.0h0M257.6 85.4h0M260.4 78.9h0M258.9 92.8h0M256.6 101.2h0M257.0 92.2h0M257.3 83.0h0M256.8 99.6h0M261.5 95.8h0M260.1 96.4h0M259.6 99.5h0M258.9 122.5h0M257.1 104.2h0M257.5 78.8h0M258.1 87.8h0M259.1 72.8h0M258.8 97.4h0M257.6 96.9h0M259.9 101.4h0M257.1 95.0h0M260.6 108.2h0M256.6 97.9h0M259.1 103.6h0M256.9 98.6h0M258.8 107.2h0M260.1 84.3h0M256.3 93.7h0M260.9 88.6h0M260.8 105.8h0M260.3 91.0h0M261.5 92.2h0M257.4 100.6h0M257.5 100.3h0M259.4 109.8h0M261.4 89.0h0M257.5 87.1h0M258.2 98.2h0M256.8 100.8h0M257.2 83.1h0M259.5 93.2h0M260.1 109.0h0M257.6 80.2h0M256.9 100.0h0M257.0 89.5h0M257.1 95.5h0M260.5 108.6h0M257.3 92.1h0M259.8 76.1h0M257.9 88.9h0M260.5 101.4h0M259.2 82.2h0M258.9 108.7h0M259.9 97.6h0M259.3 89.3h0M261.6 99.6h0M258.4 89.1h0M257.0 93.7h0M260.1 89.6h0M260.5 112.0h0M261.7 90.3h0M257.7 91.9h0M257.0 86.5h0M260.9 93.5h0M261.4 88.5h0M259.0 75.6h0M260.1 76.5h0M261.6 88.7h0M256.9 93.0h0M257.4 90.1h0M261.0 82.2h0M256.8 98.8h0M260.2 116.8h0M256.9 89.7h0M257.5 101.2h0M258.6 88.0h0M260.8 87.9h0M257.4 99.8h0M258.9 89.1h0M257.7 93.1h0M260.9 103.6h0M261.2 92.7h0M261.4 89.9h0M261.3 100.4h0M260.2 92.8h0M258.2 95.0h0M257.1 90.5h0M258.5 76.7h0M258.2 92.9h0M256.7 91.0h0M259.6 117.8h0M259.8 88.2h0M256.8 103.3h0M259.2 96.7h0M257.3 83.8h0M261.3 99.5h0M258.9 99.3h0M261.5 95.1h0M260.1 87.9h0M260.2 89.5h0M258.7 81.0h0M260.7 98.3h0M259.5 95.7h0M259.4 112.4h0M260.4 84.1h0M258.6 71.9h0M258.6 79.6h0M257.2 78.2h0M259.8 73.5h0M261.6 87.7h0M259.5 97.9h0M256.9 90.6h0M257.2 88.5h0M261.0 79.0h0M257.7 108.5h0M258.4 107.5h0M259.9 77.4h0M259.2 86.7h0M258.0 77.4h0M260.2 121.9h0M261.0 99.2h0M259.3 109.0h0M260.1 105.7h0M259.6 103.8h0M259.5 87.9h0M260.2 96.0h0M259.1 98.5h0M258.1 86.5h0M258.4 91.5h0M257.5 99.8h0M259.0 83.6h0M259.0 83.6h0M257.7 96.2h0M260.6 103.4h0M257.1 96.0h0M260.8 78.8h0M257.2 86.8h0M258.6 60.1h0M260.4 84.4h0M257.7 99.9h0M259.6 112.1h0M257.4 105.9h0M260.7 94.2h0M259.4 89.4h0M257.0 100.3h0M256.9 97.7h0M257.7 78.3h0M259.2 94.6h0M258.8 96.7h0M261.0 83.6h0M259.3 89.2h0M259.5 95.7h0M256.9 86.7h0M258.4 68.4h0M261.6 92.5h0M257.9 98.8h0M257.7 114.4h0M260.3 99.4h0M257.2 91.2h0M257.6 95.0h0M258.5 90.9h0M259.9 129.6h0M260.5 96.6h0M259.0 100.6h0M261.6 92.4h0M258.2 95.0h0M260.2 81.5h0M258.9 90.6h0M260.9 103.0h0M275.3 78.0h0M272.9 94.4h0M271.7 88.9h0M271.1 83.0h0M272.3 101.0h0M276.2 83.4h0M273.0 84.8h0M274.2 76.6h0M274.8 103.3h0M271.3 79.1h0M271.5 86.9h0M274.8 90.7h0M273.4 96.5h0M271.9 68.1h0M274.8 91.1h0M271.3 87.2h0M272.1 81.0h0M275.5 71.7h0M273.7 93.1h0M273.6 87.2h0M274.3 78.9h0M275.3 73.6h0M272.5 84.2h0M274.6 71.5h0M275.1 89.9h0M271.9 72.5h0M275.0 87.5h0M271.4 74.4h0M275.5 91.8h0M274.8 87.6h0M271.2 90.5h0M274.9 92.8h0M272.8 74.6h0M271.2 94.2h0M271.0 80.2h0M271.8 72.7h0M272.7 84.5h0M270.7 86.0h0M272.3 77.7h0M273.0 79.5h0M274.1 89.8h0M274.8 95.0h0M275.6 81.1h0M274.0 82.1h0M275.6 87.6h0M272.8 86.1h0M272.9 75.3h0M274.0 84.5h0M274.2 98.9h0M272.6 87.7h0M274.8 98.3h0M274.7 82.6h0M272.4 71.5h0M276.1 82.9h0M272.2 75.4h0M271.2 77.6h0M272.4 63.0h0M273.9 65.2h0M275.5 79.5h0M275.5 88.4h0M271.9 97.2h0M272.3 69.6h0M271.4 71.1h0M271.3 82.0h0M274.1 81.5h0M273.8 100.5h0M272.8 75.7h0M273.5 71.8h0M273.0 102.2h0M273.1 89.3h0M272.9 81.3h0M272.1 89.1h0M272.0 93.0h0M272.9 80.9h0M271.6 77.5h0M273.4 92.7h0M271.5 94.7h0M272.3 71.0h0M274.9 80.9h0M271.7 92.0h0M272.7 104.1h0M271.6 76.8h0M271.2 84.2h0M274.3 86.8h0M274.1 75.5h0M275.6 73.5h0M274.7 71.1h0M273.4 87.1h0M274.5 86.5h0M273.9 97.6h0M273.1 86.1h0M274.7 77.1h0M275.8 75.2h0M274.0 75.6h0M273.1 70.3h0M274.1 83.6h0M273.7 87.2h0M273.1 96.9h0M274.0 76.9h0M272.7 91.2h0M272.6 88.7h0M270.8 84.8h0M274.6 82.1h0M274.1 82.4h0M274.4 59.7h0M272.3 57.6h0M274.1 84.3h0M273.1 74.0h0M273.5 83.6h0M273.6 73.1h0M273.7 90.7h0M274.5 70.8h0M273.2 101.4h0M274.5 96.1h0M274.4 81.4h0M274.7 81.5h0M273.2 84.9h0M272.2 77.4h0M271.2 94.7h0M274.6 78.6h0M275.1 81.3h0M275.4 71.9h0M272.0 83.2h0M272.0 66.0h0M274.2 101.0h0M272.8 100.9h0M272.3 84.9h0M273.4 89.6h0M270.9 78.5h0M272.5 103.9h0M275.7 76.9h0M271.4 75.2h0M274.8 77.3h0M272.0 81.3h0M271.6 92.4h0M272.2 82.0h0M272.9 91.2h0M272.9 91.7h0M273.0 102.5h0M274.7 84.8h0M270.7 79.3h0M274.5 82.9h0M271.2 87.2h0M271.7 82.5h0M272.9 107.3h0M274.5 106.7h0M274.2 86.2h0M273.8 68.3h0M274.8 67.4h0M273.4 74.2h0M271.4 82.5h0M272.3 90.5h0M271.3 80.7h0M272.9 63.9h0M275.1 74.8h0M273.8 65.1h0M271.4 95.4h0M272.2 84.2h0M272.3 99.9h0M272.5 95.6h0M272.9 77.1h0M271.8 75.7h0M274.1 95.0h0M271.0 82.1h0M271.2 88.9h0M273.7 55.0h0M274.3 83.4h0M271.7 80.3h0M272.0 80.7h0M272.6 75.5h0M274.7 90.2h0M273.5 91.2h0M273.3 79.7h0M275.7 77.9h0M272.2 58.9h0M271.8 83.1h0M273.1 90.2h0M276.0 83.8h0M273.8 87.1h0M271.3 86.1h0M273.1 93.4h0M274.1 79.1h0M274.4 76.3h0M274.0 79.2h0M272.6 96.8h0M272.9 100.9h0M275.3 83.2h0M271.1 81.8h0M272.4 73.2h0M272.5 90.8h0M273.4 97.6h0M274.8 82.3h0M272.2 102.1h0M272.4 89.2h0M271.7 75.0h0M274.7 88.2h0M275.2 85.8h0M273.3 82.1h0M275.0 100.3h0M274.8 80.5h0M274.8 100.7h0M273.6 87.5h0M272.4 95.3h0M271.3 91.4h0M272.3 82.6h0M273.4 95.3h0M273.0 80.2h0M273.5 83.3h0M272.7 78.2h0M274.9 92.2h0M272.3 67.8h0M274.2 76.7h0M273.1 76.2h0M273.9 78.8h0M274.8 77.2h0M271.7 87.5h0M274.4 85.6h0M273.3 107.2h0M271.8 90.8h0M272.5 97.0h0M272.4 78.1h0M275.3 76.0h0M271.1 84.1h0M270.9 83.9h0M274.5 63.4h0M274.0 73.4h0M275.4 81.8h0M271.4 76.9h0M271.9 103.2h0M271.5 86.0h0M273.5 72.2h0M272.8 73.1h0M275.2 93.8h0M272.5 77.4h0M272.3 57.2h0M274.4 82.7h0M274.5 95.6h0M275.3 81.5h0M271.8 90.6h0M275.5 91.2h0M272.6 88.0h0M274.6 98.3h0M274.3 84.5h0M275.5 92.3h0M274.2 102.1h0M272.9 70.4h0M273.6 83.4h0M272.3 83.5h0M271.5 85.7h0M270.7 86.3h0M272.0 68.9h0M275.4 82.7h0M271.1 93.3h0M273.8 97.6h0M274.2 95.0h0M273.4 77.5h0M271.6 81.0h0M274.8 77.0h0M271.6 91.7h0M272.8 101.4h0M274.0 59.6h0M274.1 64.6h0M274.0 60.5h0M274.0 79.8h0M275.1 75.7h0M271.4 95.2h0M272.9 60.0h0M271.6 97.3h0M273.7 72.5h0M275.1 98.6h0M274.6 88.5h0M272.5 101.0h0M274.6 68.8h0M270.8 79.6h0M272.3 78.5h0M273.3 86.8h0M275.2 68.2h0M271.4 93.0h0M271.6 91.1h0M275.0 76.6h0M271.5 86.8h0M275.3 77.6h0M273.8 88.2h0M274.7 85.4h0M275.1 74.9h0M275.5 77.7h0M273.8 55.9h0M270.7 88.7h0M270.8 85.1h0M272.8 93.3h0M273.8 77.0h0M274.6 97.7h0M270.9 88.7h0M271.0 89.5h0M272.9 91.5h0M274.9 78.3h0M272.3 65.1h0M275.6 87.2h0M273.5 82.7h0M271.7 93.5h0M273.0 97.6h0M271.2 84.6h0M274.1 74.9h0M272.6 73.8h0M275.8 84.3h0M275.3 71.3h0M274.8 92.9h0M270.8 84.2h0M273.4 69.6h0M270.7 89.0h0M273.5 91.8h0M273.3 64.0h0M274.4 81.1h0M275.1 96.5h0M272.0 95.9h0M272.2 79.3h0M274.1 91.3h0M275.1 76.0h0M274.1 95.4h0M273.9 91.5h0M273.7 73.3h0M273.2 65.7h0M273.0 97.1h0M274.6 82.0h0M272.9 77.4h0M272.1 96.2h0M271.4 81.9h0M272.1 86.5h0M273.6 80.3h0M272.9 93.9h0M273.8 98.1h0M273.6 108.3h0M274.8 74.2h0M271.6 77.0h0M272.0 79.2h0M275.5 94.9h0M272.0 81.0h0M272.5 93.7h0M272.2 96.2h0M275.1 89.5h0M272.5 80.4h0M273.9 75.4h0M275.6 83.0h0M273.5 79.1h0M271.6 81.1h0M272.9 97.3h0M272.8 84.0h0M272.5 66.0h0M273.6 76.0h0M274.6 79.6h0M275.1 75.7h0M273.2 108.3h0M271.0 73.9h0M274.4 69.3h0M275.9 91.5h0M275.1 70.4h0M274.7 94.6h0M274.4 69.2h0M275.3 84.7h0M273.9 86.6h0M273.5 81.0h0M274.8 81.2h0M273.7 94.6h0M273.0 87.5h0M270.8 83.1h0M274.8 80.0h0M274.7 88.3h0M275.4 83.4h0M272.9 105.9h0M275.5 90.7h0M273.9 62.4h0M272.1 96.4h0M273.0 63.9h0M273.1 96.8h0M270.8 83.1h0M272.7 70.8h0M273.0 78.8h0M274.7 97.6h0M273.7 103.8h0M274.6 79.1h0M273.5 107.9h0M273.9 83.2h0M271.8 75.4h0M272.7 82.8h0M272.7 71.3h0M274.5 80.0h0M274.5 84.9h0M274.8 86.9h0M275.0 91.7h0M274.3 87.8h0M274.0 85.0h0M274.7 82.8h0M273.3 59.5h0M274.0 97.1h0M274.9 64.2h0M273.9 71.9h0M273.8 89.6h0M273.0 88.4h0M275.0 67.8h0M272.8 75.8h0M275.4 89.2h0M273.3 62.8h0M275.5 87.1h0M272.1 94.9h0M271.2 76.6h0M273.7 90.9h0M272.6 82.0h0M272.3 80.7h0M274.9 84.0h0M270.7 80.3h0M274.8 94.6h0M274.7 97.1h0M273.3 92.8h0M273.1 69.9h0M272.1 63.1h0M272.1 76.5h0M272.6 78.0h0M274.4 74.5h0M272.9 94.2h0M274.1 83.2h0M275.5 92.8h0M274.0 88.7h0M272.8 100.8h0M272.7 99.2h0M273.7 70.7h0M274.5 92.3h0M275.6 91.7h0M275.7 88.1h0M271.7 86.0h0M270.8 85.9h0M276.0 84.5h0M275.6 83.9h0M274.6 94.9h0M274.2 97.0h0M272.5 107.9h0M272.4 90.6h0M272.1 85.1h0M272.4 79.0h0M274.0 94.2h0M274.0 69.7h0M275.8 82.0h0M274.7 78.1h0M274.2 75.2h0M273.4 72.4h0M275.4 86.6h0M276.0 81.0h0M275.1 82.0h0M271.9 88.9h0M270.9 83.7h0M286.6 90.8h0M286.0 66.9h0M289.9 71.6h0M287.1 98.8h0M290.0 70.1h0M289.7 68.9h0M289.3 87.6h0M285.0 70.4h0M288.7 79.7h0M286.3 70.3h0M286.0 62.3h0M289.1 59.7h0M288.1 76.5h0M285.4 73.7h0M288.8 64.7h0M286.8 63.0h0M288.9 67.7h0M286.8 83.1h0M286.0 78.2h0M287.0 96.0h0M287.5 70.5h0M285.6 59.1h0M287.4 74.3h0M285.1 79.1h0M287.0 59.4h0M285.6 74.5h0M290.4 69.1h0M289.4 57.1h0M286.3 67.0h0M285.3 84.8h0M286.0 73.3h0M285.3 72.1h0M289.9 81.0h0M285.7 62.7h0M287.7 72.7h0M285.5 67.4h0M287.7 96.9h0M288.6 77.9h0M287.2 76.5h0M287.8 82.1h0M286.1 73.5h0M290.1 76.4h0M287.1 61.4h0M290.4 77.0h0M287.5 59.9h0M288.5 85.9h0M287.8 65.6h0M288.2 79.2h0M289.2 67.9h0M286.2 66.6h0M284.8 73.9h0M288.5 76.6h0M290.1 67.0h0M285.3 81.4h0M289.8 70.4h0M287.1 79.4h0M288.2 71.2h0M288.7 68.9h0M289.2 77.9h0M288.2 98.2h0M287.6 72.1h0M287.1 57.7h0M285.3 78.8h0M288.7 67.9h0M289.7 81.2h0M290.1 76.4h0M288.4 74.0h0M286.1 81.2h0M286.4 72.3h0M286.4 72.9h0M285.3 63.9h0M287.0 66.5h0M288.9 92.8h0M287.9 82.4h0M287.3 54.1h0M287.5 70.8h0M284.9 74.4h0M289.5 63.7h0M287.0 83.7h0M286.5 66.8h0M287.8 87.5h0M288.8 96.4h0M286.9 70.6h0M289.6 87.1h0M286.0 73.5h0M289.1 76.9h0M287.7 80.6h0M289.4 66.5h0M289.9 63.8h0M285.0 76.0h0M287.1 90.7h0M285.5 72.1h0M287.7 69.5h0M288.1 80.3h0M285.8 79.2h0M287.6 65.5h0M289.4 70.6h0M288.1 70.2h0M287.1 58.0h0M288.5 52.6h0M288.0 69.3h0M287.4 69.5h0M288.5 75.5h0M286.9 101.9h0M289.6 85.6h0M289.7 64.0h0M285.5 72.8h0M287.1 79.2h0M287.0 71.3h0M290.1 81.5h0M287.9 91.5h0M285.7 70.8h0M287.0 73.4h0M287.6 74.6h0M287.5 89.3h0M288.2 90.9h0M285.9 83.3h0M288.1 96.2h0M288.1 90.7h0M287.7 64.8h0M290.2 76.6h0M290.0 76.8h0M288.9 94.1h0M285.2 64.5h0M287.9 71.4h0M288.6 62.1h0M289.3 55.6h0M286.6 87.6h0M289.2 73.1h0M289.1 67.3h0M288.7 74.5h0M287.4 82.5h0M289.7 83.4h0M286.4 59.5h0M285.8 81.9h0M290.2 67.4h0M288.3 65.4h0M286.9 75.8h0M287.7 92.6h0M287.0 80.4h0M285.2 79.9h0M289.0 78.4h0M289.2 69.9h0M289.4 66.7h0M287.4 80.3h0M285.6 69.2h0M288.2 70.1h0M285.9 90.0h0M285.2 82.1h0M289.5 63.8h0M289.3 59.3h0M288.6 67.2h0M290.0 72.3h0M286.5 78.4h0M288.4 55.8h0M285.4 64.1h0M287.7 69.0h0M290.1 68.3h0M289.6 79.4h0M289.6 71.0h0M286.2 69.3h0M285.5 81.5h0M287.1 61.1h0M288.1 89.7h0M286.9 63.0h0M289.2 79.1h0M285.1 72.7h0M290.5 72.5h0M289.1 66.4h0M289.3 78.4h0M286.7 80.7h0M289.2 80.2h0M285.9 80.2h0M290.1 63.8h0M288.0 57.3h0M289.6 57.9h0M288.2 87.0h0M286.4 57.0h0M285.1 74.6h0M289.6 70.6h0M286.3 76.9h0M285.4 85.2h0M288.2 71.6h0M285.5 86.7h0M287.4 69.2h0M286.6 84.0h0M287.2 58.5h0M288.8 88.8h0M288.7 78.2h0M287.2 63.8h0M288.5 63.7h0M287.8 81.9h0M287.5 94.4h0M288.9 71.4h0M287.8 85.0h0M289.8 59.6h0M288.2 97.6h0M289.8 64.0h0M288.5 80.4h0M286.5 86.3h0M286.3 73.6h0M289.0 64.8h0M285.6 76.9h0M287.1 59.2h0M289.8 80.0h0M288.8 87.4h0M286.0 62.6h0M288.6 83.9h0M288.5 91.0h0M288.0 65.7h0M286.7 88.7h0M288.2 73.2h0M287.1 64.4h0M289.5 66.0h0M285.6 88.0h0M285.1 67.5h0M287.1 64.0h0M289.4 80.6h0M287.1 62.7h0M287.9 68.4h0M286.0 70.5h0M288.8 67.6h0M288.9 71.4h0M288.5 85.8h0M289.1 55.0h0M286.8 71.1h0M289.4 82.4h0M285.8 68.4h0M287.1 73.8h0M285.1 74.7h0M284.9 70.5h0M286.8 72.9h0M287.8 73.9h0M286.3 75.2h0M288.9 69.4h0M287.7 70.1h0M285.7 75.9h0M286.6 74.1h0M287.8 81.7h0M287.3 64.3h0M289.6 85.0h0M289.6 75.4h0M289.1 55.9h0M290.5 71.2h0M287.2 67.9h0M288.5 74.1h0M286.6 101.2h0M288.7 84.8h0M286.5 75.8h0M287.9 69.5h0M286.3 76.7h0M286.4 80.5h0M288.2 91.2h0M286.2 79.4h0M290.1 68.6h0M287.8 93.5h0M289.6 62.5h0M286.3 79.1h0M289.3 63.2h0M285.8 82.2h0M289.7 83.8h0M287.8 79.1h0M288.4 66.1h0M289.1 69.5h0M286.7 85.0h0M288.6 79.2h0M285.0 69.7h0M287.4 85.5h0M289.4 72.3h0M288.3 81.0h0M286.4 80.8h0M288.6 59.5h0M287.8 92.0h0M287.1 60.5h0M288.4 59.4h0M287.6 67.7h0M286.2 80.3h0M285.4 66.3h0M285.6 62.3h0M285.6 78.9h0M286.4 97.8h0M288.2 86.6h0M288.0 79.0h0M285.5 86.4h0M285.2 71.2h0M288.1 55.1h0M286.5 79.0h0M286.6 59.9h0M285.9 87.3h0M286.9 67.5h0M288.8 59.6h0M289.5 82.3h0M290.3 76.7h0M287.4 83.5h0M289.9 81.6h0M288.6 65.7h0M287.8 86.0h0M286.9 78.5h0M287.4 81.8h0M288.2 71.0h0M285.0 75.9h0M287.5 76.4h0M288.6 63.0h0M289.4 80.3h0M285.7 83.8h0M286.7 55.8h0M287.3 82.8h0M287.2 66.4h0M287.3 74.7h0M289.7 58.3h0M288.8 72.1h0M287.8 97.0h0M288.6 75.6h0M286.7 78.6h0M289.4 83.3h0M289.0 60.9h0M287.1 58.8h0M289.5 89.9h0M288.6 73.2h0M287.4 98.0h0M287.1 70.4h0M290.1 64.0h0M289.1 58.4h0M288.7 72.0h0M286.6 69.4h0M286.4 56.8h0M289.9 66.7h0M285.9 79.4h0M289.8 87.4h0M285.0 79.2h0M286.8 62.0h0M286.5 83.4h0M288.9 84.5h0M286.5 74.7h0M286.8 77.7h0M284.8 72.8h0M289.4 73.8h0M287.8 60.0h0M288.3 97.0h0M285.7 72.5h0M286.9 67.7h0M286.1 66.7h0M288.2 77.5h0M285.4 71.6h0M287.3 93.6h0M290.2 71.6h0M285.5 73.0h0M289.1 83.4h0M286.6 68.0h0M287.3 82.7h0M286.5 99.3h0M289.3 66.8h0M287.0 71.0h0M289.7 71.8h0M287.8 85.6h0M287.9 86.7h0M289.4 76.0h0M288.6 77.2h0M289.7 72.8h0M287.9 81.5h0M288.3 56.9h0M286.4 64.8h0M285.9 91.9h0M285.7 79.2h0M286.7 96.5h0M289.3 59.0h0M287.0 55.4h0M290.0 81.4h0M289.0 59.5h0M289.8 79.3h0M288.1 73.3h0M289.4 73.3h0M288.8 90.2h0M290.0 68.4h0M287.4 69.9h0M286.0 76.0h0M289.9 62.7h0M289.6 64.2h0M288.2 71.6h0M289.0 98.3h0M285.5 83.2h0M285.7 59.6h0M287.3 60.1h0M288.2 92.7h0M289.1 62.5h0M289.8 77.2h0M286.5 72.7h0M288.8 85.7h0M286.9 64.4h0M285.9 68.9h0M287.3 67.6h0M289.1 69.0h0M289.4 71.4h0M287.0 70.2h0M288.8 56.1h0M286.0 76.4h0M289.5 81.7h0M289.3 67.6h0M285.4 73.0h0M285.8 62.9h0M287.8 65.3h0M288.2 75.3h0M288.5 81.9h0M287.6 90.4h0M286.9 70.9h0M289.9 67.4h0M285.8 79.3h0M285.0 73.0h0M288.2 75.9h0M285.8 77.3h0M290.0 62.7h0M288.3 73.9h0M286.3 80.6h0M286.6 74.6h0M287.1 61.2h0M289.5 73.6h0M288.8 53.9h0M289.8 86.8h0M285.5 82.3h0M285.1 79.3h0M289.5 61.3h0M289.3 82.8h0M289.1 83.2h0M288.7 90.8h0M287.4 82.8h0M289.3 60.8h0M286.4 86.7h0M288.0 79.8h0M287.3 68.6h0M284.9 75.0h0M286.4 75.6h0M287.1 59.8h0M289.6 78.2h0M289.3 92.1h0M287.6 60.8h0M289.6 60.6h0M288.5 80.6h0M301.7 94.6h0M300.7 102.5h0M300.7 105.4h0M301.2 93.0h0M301.0 96.6h0M300.3 105.4h0M300.9 74.7h0M300.5 95.3h0M300.1 101.3h0M303.4 82.9h0M300.8 88.5h0M300.4 88.7h0M300.2 95.8h0M304.0 96.0h0M301.0 99.4h0M299.9 97.3h0M302.6 101.7h0M299.7 82.0h0M299.3 92.7h0M301.6 93.6h0M302.3 90.0h0M301.1 73.4h0M304.4 99.2h0M303.4 76.3h0M299.8 80.1h0M300.6 99.0h0M303.9 87.4h0M300.7 86.3h0M301.9 94.8h0M303.3 85.5h0M303.8 91.2h0M301.1 85.2h0M303.2 104.3h0M301.2 101.3h0M302.7 93.2h0M302.3 97.0h0M301.2 102.3h0M304.0 80.6h0M301.8 100.7h0M301.0 101.7h0M303.9 94.4h0M302.8 85.1h0M302.2 88.3h0M304.2 86.0h0M303.3 77.0h0M301.6 100.2h0M299.5 83.6h0M300.4 88.4h0M302.4 78.0h0M301.3 99.4h0M301.5 79.9h0M302.1 106.8h0M301.8 77.2h0M300.9 82.1h0M304.4 91.8h0M302.7 98.3h0M300.5 83.8h0M299.9 87.3h0M301.2 82.1h0M303.9 83.4h0M302.2 101.9h0M300.2 101.9h0M301.7 97.6h0M301.1 94.7h0M301.8 101.9h0M302.6 85.7h0M303.0 90.6h0M302.2 78.1h0M304.0 80.9h0M303.0 98.7h0M301.7 103.3h0M300.4 84.0h0M302.4 97.4h0M304.5 88.9h0M304.2 86.2h0M301.1 91.4h0M302.4 83.7h0M300.1 91.9h0M303.9 92.6h0M302.2 81.8h0M299.4 93.5h0M302.3 107.8h0M301.5 83.2h0M302.8 103.7h0M303.3 89.8h0M310.1 83.4h0M307.6 87.3h0M310.9 85.2h0M310.6 78.6h0M310.0 64.7h0M308.2 78.9h0M311.7 88.3h0M307.4 77.3h0M308.7 81.7h0M306.5 85.1h0M308.4 102.3h0M308.3 68.1h0M310.6 84.8h0M310.8 79.7h0M309.8 71.4h0M307.2 73.0h0M310.6 102.4h0M310.1 92.7h0M308.2 87.5h0M310.8 99.6h0M307.0 82.1h0M309.1 86.0h0M310.6 87.9h0M308.3 85.0h0M307.5 97.9h0M310.4 88.7h0M307.1 88.1h0M308.6 80.6h0M309.3 84.2h0M307.7 97.5h0M310.1 101.7h0M308.6 106.1h0M310.1 80.0h0M307.4 100.8h0M308.7 92.5h0M308.9 86.3h0M307.4 83.8h0M309.6 66.3h0M306.5 79.8h0M308.5 98.2h0M308.0 73.4h0M307.5 81.3h0M307.7 63.3h0M306.8 93.6h0M307.4 97.4h0M309.6 99.6h0M309.3 85.2h0M307.4 82.9h0M309.6 96.3h0M307.5 71.1h0M310.0 103.2h0M310.0 95.0h0M310.7 68.0h0M308.9 79.4h0M307.9 94.0h0M310.7 78.9h0M309.5 88.9h0M310.0 87.5h0M309.6 78.2h0M310.3 70.2h0M307.0 97.0h0M310.3 87.5h0M309.2 69.2h0M306.9 98.9h0M308.8 95.4h0M309.6 95.9h0M309.9 72.7h0M307.2 86.0h0M308.8 97.6h0M308.6 94.6h0M309.0 72.2h0M309.2 71.1h0M311.1 81.0h0M308.7 92.3h0M309.4 64.1h0M308.1 80.1h0M310.5 88.5h0M309.6 88.6h0M309.2 80.8h0M309.7 101.5h0M308.9 84.9h0M309.3 106.4h0M310.9 83.5h0M310.6 107.6h0M308.3 74.3h0M309.7 76.4h0M308.5 60.7h0M310.3 86.6h0M309.8 72.2h0M311.2 83.0h0M308.3 102.9h0M308.4 75.9h0M310.8 95.5h0M307.4 102.6h0M311.1 73.7h0M309.9 91.3h0M310.7 71.3h0M307.3 83.8h0M307.9 86.8h0M308.8 91.5h0M307.1 102.4h0M309.8 77.7h0M307.8 87.4h0M311.2 80.5h0M307.5 82.2h0M310.1 102.2h0M309.7 87.4h0M308.3 93.9h0M308.3 70.1h0M309.1 101.9h0M308.8 96.2h0M307.0 78.9h0M309.3 95.7h0M308.9 98.0h0M306.6 89.3h0M306.6 91.8h0M308.7 81.4h0M309.7 69.4h0M311.7 93.0h0M310.3 87.7h0M311.0 93.0h0M309.6 86.9h0M309.5 98.5h0M308.9 89.8h0M308.1 108.0h0M311.1 75.2h0M309.4 89.4h0M309.7 94.0h0M307.2 101.3h0M307.5 95.6h0M306.6 76.9h0M311.2 76.3h0M307.4 74.4h0M310.3 97.3h0M308.8 82.4h0M307.8 104.8h0M311.2 84.2h0M306.9 89.2h0M309.8 85.1h0M307.7 104.9h0M310.7 93.3h0M309.5 84.7h0M309.5 109.7h0M310.7 65.1h0M309.8 84.9h0M310.4 76.1h0M309.9 94.2h0M309.5 97.0h0M307.5 93.2h0M307.4 80.7h0M306.5 86.2h0M310.8 77.1h0M309.5 93.0h0M311.6 89.7h0M309.4 95.9h0M307.2 70.4h0M311.4 80.7h0M307.2 93.0h0M308.6 74.0h0M309.8 85.5h0M308.3 86.9h0M310.0 73.4h0M310.5 76.6h0M308.1 102.5h0M307.2 91.6h0M310.1 83.2h0M307.1 86.0h0M309.4 87.9h0M309.6 101.1h0M307.7 82.6h0M308.4 101.2h0M310.0 98.5h0M306.5 91.6h0M308.9 97.2h0M310.3 104.2h0M310.1 77.4h0M311.5 91.2h0M307.6 70.1h0M308.6 75.1h0M307.5 77.7h0M306.4 87.0h0M308.5 80.4h0M307.1 81.7h0M310.6 73.5h0M309.4 88.3h0M307.0 82.1h0M310.4 86.6h0M310.5 101.1h0M306.5 89.1h0M308.9 102.9h0M308.2 90.7h0M308.7 85.7h0M306.6 76.3h0M309.0 77.9h0M307.6 103.2h0M308.3 84.1h0M308.9 86.3h0M307.5 88.9h0M306.5 85.9h0M308.5 73.8h0M309.3 110.5h0M310.3 82.6h0M307.1 86.7h0M307.3 72.5h0M309.5 91.9h0M309.7 92.1h0M306.6 78.9h0M311.0 85.4h0M308.4 84.5h0M308.7 90.8h0M308.2 79.1h0M310.8 101.3h0M308.7 73.6h0M310.3 88.1h0M310.3 84.6h0M308.2 104.6h0M311.1 94.6h0M307.7 89.3h0M310.2 92.5h0M309.6 65.4h0M306.7 76.7h0M310.1 81.7h0M309.5 98.2h0M309.6 102.0h0M306.9 81.7h0M308.2 73.9h0M307.8 79.7h0M308.4 93.0h0M311.1 97.9h0M309.7 63.4h0M308.3 70.0h0M307.4 88.3h0M309.1 78.2h0M309.6 79.4h0M311.4 88.6h0M306.5 92.0h0M309.6 63.0h0M311.4 91.7h0M310.1 96.8h0M307.0 86.1h0M306.9 75.1h0M310.3 82.0h0M310.7 76.7h0M308.6 67.8h0M308.1 94.0h0M308.0 103.4h0M309.6 103.1h0M308.4 97.7h0M310.2 89.1h0M307.5 87.9h0M308.7 70.4h0M309.5 88.8h0M310.5 81.1h0M309.0 95.1h0M311.3 85.1h0M308.5 102.9h0M306.8 96.0h0M309.3 81.7h0M306.4 87.4h0M307.7 81.4h0M309.5 70.0h0M308.4 72.3h0M307.2 95.7h0M307.2 74.7h0M308.6 78.1h0M310.6 66.6h0M307.6 69.4h0M311.9 86.2h0M309.9 102.8h0M313.6 83.4h0M314.2 88.4h0M315.1 88.1h0M314.0 81.7h0M317.4 97.9h0M318.2 89.3h0M318.2 85.2h0M317.4 99.0h0M317.7 91.4h0M314.1 85.9h0M318.5 86.2h0M318.7 86.1h0M317.0 83.7h0M317.6 81.2h0M318.3 93.1h0M318.2 83.9h0M314.2 96.0h0M314.5 94.1h0M315.4 98.5h0M315.7 99.5h0M317.1 83.5h0M314.6 76.6h0M314.4 86.1h0M318.0 95.9h0M315.7 81.1h0M316.4 92.0h0M315.4 73.0h0M315.2 82.0h0M316.8 84.4h0M315.4 87.6h0M316.0 87.7h0M318.1 81.1h0M315.6 88.2h0M314.4 93.2h0M318.0 98.7h0M314.4 88.3h0M317.3 75.7h0M315.2 77.1h0M315.3 90.5h0M314.5 91.4h0M315.8 90.0h0M317.6 76.7h0M317.9 88.1h0M314.7 93.5h0M317.0 113.7h0M316.3 71.7h0M316.8 86.9h0M317.7 89.2h0M317.2 85.0h0M315.2 102.6h0M316.2 80.6h0M316.6 91.3h0M314.0 89.4h0M315.5 72.2h0M314.5 98.9h0M317.7 81.1h0M316.2 77.8h0M317.1 96.9h0M315.6 97.1h0M318.2 82.4h0M317.9 87.0h0M318.1 80.2h0M318.9 89.0h0M318.0 80.8h0M315.7 99.6h0M314.1 86.2h0M315.1 99.3h0M316.6 76.3h0M318.6 84.1h0M315.6 69.4h0M314.7 86.9h0M314.4 75.9h0M314.6 72.5h0M313.8 87.5h0M317.2 81.5h0M315.7 98.6h0M315.0 98.7h0M317.3 80.8h0M317.4 87.4h0M318.3 87.6h0M315.9 83.9h0M317.9 99.5h0M316.1 95.1h0M315.3 112.2h0M318.2 80.4h0M313.8 83.7h0M318.7 89.0h0M318.0 79.7h0M315.4 90.6h0M315.2 75.3h0M315.9 79.7h0M314.1 85.8h0M315.6 100.8h0M315.5 74.9h0M314.5 79.5h0M317.0 82.6h0M313.6 81.8h0M314.9 84.8h0M315.5 83.3h0M314.0 76.3h0M315.9 84.2h0M315.5 80.0h0M315.2 78.8h0M315.3 72.0h0M317.0 87.2h0M315.5 106.6h0M316.6 87.6h0M317.0 94.8h0M317.6 85.6h0M314.2 83.3h0M316.7 69.7h0M317.8 76.6h0M318.7 86.6h0M314.4 98.1h0M314.2 85.1h0M318.6 81.4h0M318.9 89.6h0M317.2 93.7h0M314.5 93.6h0M315.5 91.3h0M315.1 101.6h0M315.6 85.9h0M316.4 105.2h0M313.8 79.2h0M317.2 94.5h0M315.0 100.7h0M315.6 86.5h0M316.1 113.7h0M313.9 78.9h0M318.5 81.8h0M316.0 89.2h0M315.9 73.3h0M315.0 91.8h0M317.1 80.4h0M316.5 97.0h0M317.0 79.0h0M316.2 83.0h0M317.4 86.5h0M318.8 83.4h0M315.6 85.2h0M316.4 88.6h0M313.4 86.5h0M317.3 86.3h0M316.5 83.9h0M314.7 82.3h0M316.4 98.9h0M316.4 72.0h0M314.3 82.2h0M314.4 77.4h0M318.3 79.7h0M316.9 84.9h0M314.6 96.6h0M317.9 71.9h0M317.8 88.5h0M318.2 89.0h0M315.6 77.1h0M316.6 78.7h0M314.4 78.1h0M316.3 86.6h0M318.6 81.6h0M314.4 93.8h0M316.2 73.6h0M315.7 89.8h0M332.9 70.2h0M328.8 74.8h0M329.4 78.2h0M330.2 73.4h0M328.7 68.2h0M333.2 70.4h0M331.1 74.1h0M330.8 87.6h0M331.9 73.7h0M329.8 77.1h0M330.7 75.7h0M329.5 84.8h0M329.1 77.4h0M331.3 88.7h0M331.8 79.4h0M330.7 75.1h0M328.9 79.1h0M332.6 75.9h0M329.1 80.4h0M331.2 75.5h0M329.5 66.2h0M328.1 80.5h0M329.2 77.1h0M330.3 69.8h0M332.8 72.4h0M330.3 72.8h0M329.8 68.2h0M330.5 70.5h0M331.0 69.4h0M329.9 81.0h0M329.8 65.2h0M328.5 82.2h0M330.5 85.3h0M332.6 74.6h0M329.6 64.9h0M330.6 65.8h0M329.3 61.9h0M330.0 70.9h0M332.2 69.4h0M329.0 76.1h0M328.9 63.3h0M330.5 85.0h0M329.9 62.0h0M331.3 86.7h0M333.1 73.9h0M330.8 61.6h0M332.1 79.6h0M332.2 71.7h0M327.8 73.0h0M328.6 74.9h0M332.1 87.0h0M328.8 72.6h0M329.8 68.5h0M329.9 79.8h0M332.6 70.2h0M330.0 63.6h0M328.8 63.4h0M330.4 77.2h0M329.0 68.0h0M330.3 84.0h0M328.2 73.4h0M328.7 76.4h0M331.8 72.8h0M329.6 88.5h0M329.6 73.3h0M327.8 77.5h0M330.4 63.5h0M329.0 73.1h0M328.8 73.3h0M328.2 72.9h0M329.3 77.5h0M329.4 72.9h0M330.3 82.9h0M332.2 81.1h0M332.1 77.1h0M328.8 76.0h0M331.7 87.0h0M329.9 72.4h0M329.0 79.7h0M329.5 74.9h0M331.2 63.6h0M331.3 69.1h0M330.2 78.4h0M330.5 71.6h0M332.8 71.8h0M332.1 80.0h0M329.0 70.0h0M333.0 73.3h0M327.8 75.4h0M328.7 73.4h0M329.5 63.5h0M332.6 72.4h0M332.2 83.0h0M329.7 79.9h0M331.4 78.3h0M328.5 80.4h0M332.3 81.2h0M331.6 74.0h0M330.0 77.2h0M329.6 67.7h0M332.4 74.5h0M329.8 62.6h0M329.7 63.9h0M327.7 71.4h0M328.9 71.9h0M330.8 86.3h0M330.4 76.3h0M330.4 65.6h0M332.5 63.5h0M331.1 78.4h0M328.1 71.7h0M329.1 77.1h0M333.0 76.7h0M331.6 81.8h0M331.2 79.6h0M331.0 68.6h0M328.8 61.9h0M329.6 84.8h0M333.2 73.1h0M332.3 66.2h0M329.0 74.3h0M330.2 73.2h0M330.7 76.2h0M329.0 73.6h0M333.0 67.6h0M332.4 77.1h0M330.6 72.6h0M329.7 75.5h0M331.7 67.5h0M329.7 76.1h0M332.5 64.5h0M331.6 79.0h0M331.5 62.1h0M329.1 77.5h0M331.9 80.0h0M329.1 78.4h0M331.8 87.3h0M329.4 69.6h0M329.4 66.5h0M333.1 76.9h0M328.7 68.2h0M333.0 77.2h0M330.4 67.7h0M332.6 81.6h0M330.7 79.5h0M330.6 82.6h0M328.5 64.4h0M331.0 67.4h0M328.9 66.3h0M331.3 74.6h0M331.3 62.0h0M330.0 64.0h0M331.7 62.6h0M330.1 74.4h0M328.5 69.2h0M329.2 85.6h0M328.7 65.5h0M331.6 63.8h0M331.0 70.9h0M330.0 66.9h0M328.7 84.1h0M333.0 78.5h0M331.1 72.6h0M331.3 83.5h0M346.2 73.9h0M345.8 93.3h0M342.8 101.2h0M346.5 83.9h0M346.9 93.2h0M344.5 90.1h0M343.5 93.3h0M346.4 83.1h0M347.5 93.1h0M346.2 85.7h0M343.1 94.4h0M345.4 109.6h0M345.7 106.1h0M345.4 97.0h0M345.3 85.3h0M346.6 102.7h0M345.5 96.2h0M346.4 88.4h0M344.7 79.7h0M343.2 88.5h0M346.4 88.6h0M343.0 88.0h0M343.0 91.8h0M345.6 90.0h0M347.1 83.0h0M345.8 81.2h0M344.5 100.6h0M342.8 91.7h0M344.6 93.1h0M342.9 101.5h0M343.2 93.5h0M343.3 88.1h0M346.3 86.9h0M343.4 79.0h0M343.0 97.4h0M346.8 84.7h0M346.9 87.7h0M342.8 80.1h0M342.5 83.8h0M343.3 110.5h0M344.4 86.3h0M344.2 84.7h0M342.4 99.1h0M345.9 82.5h0M345.0 84.8h0M346.3 80.3h0M343.1 76.3h0M342.8 93.6h0M345.3 97.6h0M342.2 95.9h0M344.6 82.2h0M342.4 95.7h0M347.3 87.2h0M345.3 97.8h0M345.5 92.8h0M345.1 94.4h0M345.5 80.6h0M342.1 90.8h0M345.9 73.3h0M346.9 91.0h0M344.4 80.2h0M343.2 91.8h0M342.6 83.4h0M346.2 92.6h0M345.8 91.7h0M343.3 103.9h0M344.9 84.7h0M344.6 87.4h0M345.9 72.8h0M345.8 102.4h0M346.7 96.7h0M346.1 85.2h0M346.3 101.0h0M346.2 85.3h0M342.8 104.9h0M342.2 95.9h0M344.5 97.2h0M346.3 87.7h0M347.3 85.7h0M346.9 92.1h0M343.5 105.4h0M344.8 85.0h0M345.5 111.8h0M346.5 96.6h0M345.4 101.6h0M343.2 99.4h0M344.9 102.0h0M343.6 98.3h0M344.5 101.6h0M343.2 108.6h0M343.4 95.7h0M347.1 80.8h0M346.2 89.8h0M343.9 104.4h0M345.0 98.1h0M343.4 78.8h0M342.9 78.8h0M343.8 96.5h0M342.9 88.9h0M342.6 92.3h0M344.3 105.4h0M343.7 80.8h0M345.1 97.4h0M344.4 109.0h0M343.0 103.9h0M347.3 90.9h0M344.4 89.2h0M343.8 106.7h0M344.4 98.6h0M344.2 98.7h0M344.9 89.0h0M342.3 96.3h0M343.1 82.1h0M347.3 93.8h0M343.3 100.5h0M345.4 88.5h0M344.1 80.4h0M343.0 96.1h0M345.7 85.0h0M343.6 93.5h0M345.7 92.3h0M345.7 92.7h0M343.6 95.7h0M344.7 84.2h0M345.4 79.5h0M344.7 82.4h0M347.0 100.4h0M343.9 110.8h0M346.2 79.7h0M345.1 87.8h0M344.6 99.6h0M345.0 87.8h0M345.4 101.1h0M344.4 100.8h0M345.7 99.3h0M343.4 75.3h0M342.7 81.1h0M346.1 89.0h0M342.2 92.3h0M343.6 90.9h0M346.2 101.3h0M344.8 89.6h0M343.8 77.3h0M345.9 85.3h0M344.2 88.9h0M344.5 85.9h0M343.8 109.5h0M344.5 96.3h0M344.1 89.1h0M347.6 90.9h0M343.2 85.2h0M343.2 81.7h0M342.6 81.6h0M342.8 85.3h0M344.5 103.9h0M344.7 87.7h0M342.5 90.2h0M343.8 73.9h0M344.0 93.2h0M342.9 97.4h0M346.2 98.3h0M344.5 104.4h0M343.3 72.9h0M344.3 108.0h0M346.3 86.3h0M345.6 94.8h0M344.9 85.5h0M345.7 88.2h0M345.5 84.3h0M345.9 100.4h0M347.1 94.4h0M344.9 82.7h0M343.6 91.4h0M345.5 108.1h0M346.0 76.5h0M346.8 85.3h0M346.1 80.5h0M342.4 89.1h0M345.9 91.9h0M344.4 82.9h0M343.3 88.5h0M342.8 86.1h0M346.8 93.5h0M344.4 89.9h0M344.8 101.9h0M345.3 78.7h0M346.6 75.3h0M342.6 94.3h0M346.9 98.9h0M343.7 104.8h0M342.7 81.9h0M346.5 98.8h0M345.7 90.1h0M345.8 93.5h0M345.4 84.5h0M342.8 90.1h0M346.8 103.9h0M342.5 93.3h0M346.2 94.4h0M343.3 89.9h0M342.4 98.1h0M347.2 91.9h0M345.1 81.5h0M345.9 76.7h0M346.4 87.7h0M344.0 90.7h0M344.6 97.6h0M343.7 82.8h0M342.6 80.5h0M346.8 95.3h0M343.9 90.4h0M344.6 76.4h0M343.2 106.8h0M343.2 89.1h0M346.5 84.2h0M344.8 100.5h0M342.9 95.3h0M344.5 90.4h0M347.1 89.7h0M346.9 90.5h0M343.0 78.2h0M346.2 96.4h0M342.6 92.7h0M345.7 90.0h0M343.2 75.1h0M346.4 75.8h0M343.9 112.4h0M345.9 90.8h0M345.2 84.4h0M344.8 100.4h0M346.2 93.4h0M345.4 97.0h0M344.2 102.0h0M346.6 105.4h0M346.1 90.0h0M343.6 88.2h0M346.3 87.3h0M345.9 108.7h0M345.4 85.8h0M343.2 83.8h0M346.8 93.8h0M344.3 97.7h0M346.4 104.0h0M343.4 109.7h0M342.6 98.3h0M344.3 77.1h0M346.3 75.6h0M347.1 85.3h0M343.5 81.4h0M344.4 88.7h0M343.7 80.5h0M345.2 82.6h0M346.0 90.5h0M346.8 91.0h0M345.2 82.3h0M345.9 76.8h0M343.8 76.2h0M346.1 74.6h0M344.7 91.7h0M343.4 101.7h0M346.7 95.0h0M342.5 85.4h0M344.6 90.3h0M345.3 95.5h0M343.4 78.1h0M344.6 83.6h0M343.8 78.8h0M342.4 81.8h0M342.1 86.7h0M342.8 87.5h0M344.7 83.3h0M345.9 102.8h0M343.8 74.9h0M346.8 81.0h0M346.3 90.1h0M343.2 99.1h0M343.1 77.8h0M347.3 84.6h0M342.6 85.6h0M345.4 97.1h0M342.0 88.4h0M343.0 75.7h0M346.2 96.5h0M343.2 80.4h0M346.4 82.6h0M344.3 99.5h0M345.8 86.5h0M345.8 102.3h0M346.1 90.5h0M344.0 109.0h0M344.9 81.3h0M346.2 105.9h0M343.9 80.1h0M345.3 89.3h0M343.6 76.2h0M346.7 86.8h0M344.3 93.7h0M342.4 85.8h0M344.8 101.9h0M346.2 104.5h0M345.5 101.2h0M344.8 80.5h0M346.1 88.9h0M346.7 80.6h0M345.8 88.5h0M344.7 98.9h0M346.7 86.4h0M346.1 90.4h0M345.8 96.2h0M345.0 96.3h0M345.2 89.6h0M346.1 97.6h0M345.2 99.5h0M343.8 101.1h0M343.2 105.7h0M344.1 85.2h0M345.6 104.9h0M344.3 104.6h0M347.0 91.2h0M342.6 97.8h0M346.2 89.7h0M346.4 93.1h0M345.4 99.4h0M345.9 87.5h0M345.5 84.0h0M346.8 81.8h0M345.6 78.9h0M345.7 100.8h0M345.0 96.3h0M346.2 101.4h0M346.8 95.3h0M342.0 87.4h0M347.1 96.2h0M346.3 80.8h0M345.0 82.4h0M343.8 83.7h0M342.7 80.4h0M347.2 98.0h0M346.3 90.7h0M346.2 79.1h0M342.6 80.8h0M345.9 81.9h0M343.4 80.3h0M343.4 95.5h0M346.4 85.6h0M342.9 86.9h0M346.7 82.4h0M346.0 78.7h0M344.3 104.5h0M343.4 85.7h0M346.9 89.1h0M344.5 86.0h0M342.2 93.9h0M344.8 82.9h0M345.6 80.7h0M344.4 75.1h0M344.9 94.5h0M346.3 89.3h0M347.2 93.2h0M343.4 92.5h0M343.7 94.1h0M344.0 87.2h0M346.4 81.0h0M347.1 88.2h0M346.4 84.7h0M346.9 81.5h0M343.3 106.5h0M345.2 73.4h0M345.2 109.8h0M343.9 86.7h0M344.7 97.8h0M345.0 94.1h0M345.3 87.3h0M344.1 95.6h0M345.6 94.6h0M344.4 88.5h0M347.1 94.7h0M346.5 107.4h0M342.7 98.0h0M344.6 94.7h0M345.4 109.5h0M346.3 77.4h0M344.9 100.5h0M344.1 85.6h0M346.8 80.3h0M343.6 91.5h0M344.0 100.2h0M347.1 87.8h0M346.1 93.0h0M344.3 100.8h0M345.8 85.0h0M344.5 87.8h0M342.2 87.0h0M345.7 82.4h0M346.5 90.1h0M346.0 85.0h0M346.7 97.3h0M346.6 96.2h0M345.9 87.1h0M344.5 97.9h0M343.3 95.0h0M347.5 87.2h0M342.6 92.4h0M342.2 97.2h0M346.7 92.7h0M345.9 105.2h0M342.9 94.4h0M342.6 84.0h0M345.2 78.0h0M343.9 79.2h0M344.5 88.4h0M344.4 73.9h0M342.8 88.4h0M343.9 89.0h0M346.7 98.9h0M346.5 88.9h0M345.6 77.3h0M344.5 94.3h0M344.1 107.9h0M342.2 97.3h0M344.9 80.2h0M346.7 92.2h0M346.4 96.7h0M344.9 93.1h0M344.6 93.7h0M344.6 101.0h0M345.0 79.8h0M344.5 98.5h0M344.0 80.0h0M344.1 95.5h0M345.6 92.9h0M344.9 86.0h0M344.8 80.1h0M343.1 87.7h0M360.2 71.8h0M359.2 84.2h0M358.7 78.4h0M361.3 80.2h0M358.4 65.8h0M361.1 79.0h0M359.3 83.1h0M357.7 76.6h0M359.4 82.5h0M360.6 82.3h0M358.5 80.9h0M357.6 83.5h0M359.7 62.0h0M359.9 84.6h0M356.5 82.7h0M361.2 89.6h0M360.4 80.7h0M357.5 90.8h0M359.7 76.2h0M357.3 84.0h0M357.6 96.8h0M360.6 70.9h0M359.5 85.7h0M360.6 101.1h0M359.5 65.3h0M357.5 90.8h0M358.8 89.4h0M359.8 91.4h0M360.9 87.9h0M361.1 73.4h0M358.6 92.1h0M358.3 85.1h0M360.0 72.9h0M360.9 70.8h0M360.2 94.8h0M357.2 93.6h0M357.9 80.5h0M357.6 79.7h0M359.7 84.3h0M360.4 76.9h0M360.5 96.5h0M360.7 75.3h0M359.2 87.5h0M360.5 69.3h0M360.6 81.9h0M358.0 79.7h0M357.6 88.0h0M358.4 91.1h0M356.4 89.9h0M361.3 82.0h0M358.2 77.7h0M359.4 70.9h0M359.0 79.3h0M360.8 92.2h0M359.7 87.4h0M360.5 69.7h0M356.8 81.1h0M356.5 79.5h0M359.2 75.9h0M360.0 89.9h0M357.1 86.6h0M358.8 65.3h0M359.7 78.1h0M361.7 85.8h0M360.9 80.7h0M357.5 70.0h0M361.6 81.0h0M356.8 83.1h0M360.4 94.6h0M358.7 74.1h0M359.4 97.0h0M357.7 77.7h0M359.8 89.6h0M359.0 92.1h0M359.9 104.1h0M361.2 73.5h0M356.7 85.8h0M359.9 92.5h0M359.7 91.9h0M360.4 74.4h0M357.7 96.0h0M360.8 86.8h0M357.3 88.8h0M361.1 85.1h0M360.5 81.0h0M360.9 71.4h0M359.6 78.2h0M357.8 88.1h0M356.7 82.9h0M359.7 84.6h0M360.0 82.8h0M359.2 70.7h0M357.9 77.3h0M361.6 88.6h0M360.7 66.4h0M360.2 88.9h0M357.6 79.0h0M360.7 84.5h0M358.2 64.3h0M360.1 89.4h0M359.9 86.9h0M357.4 80.0h0M357.6 82.6h0M356.5 90.2h0M360.7 97.3h0M358.6 94.1h0M357.5 80.3h0M357.4 87.9h0M359.4 88.4h0M358.6 64.2h0M358.5 98.8h0M361.2 90.1h0M357.5 83.5h0M359.4 105.6h0M356.7 78.4h0M356.3 80.5h0M359.5 91.1h0M357.9 80.0h0M359.7 77.8h0M360.0 92.2h0M358.5 87.3h0M360.7 76.2h0M359.2 75.6h0M358.1 91.7h0M357.3 91.5h0M359.5 75.0h0M356.4 79.2h0M359.3 83.4h0M359.2 79.7h0M358.2 75.0h0M359.7 73.2h0M360.7 81.7h0M358.9 95.4h0M361.5 88.0h0M358.8 82.7h0M357.4 80.6h0M361.2 81.0h0M358.6 81.2h0M360.8 78.7h0M361.3 79.0h0M360.2 82.2h0M360.5 67.4h0M358.2 89.4h0M358.5 95.4h0M359.3 90.0h0M360.0 88.9h0M360.5 76.4h0M360.8 83.2h0M357.7 63.4h0M356.5 85.7h0M359.4 99.5h0M359.1 91.0h0M358.3 84.0h0M372.2 88.3h0M372.2 88.8h0M372.3 96.1h0M371.8 91.0h0M375.5 79.6h0M373.1 101.2h0M375.7 79.0h0M371.4 90.3h0M371.6 104.5h0M373.3 100.3h0M371.7 90.4h0M372.0 108.1h0M371.6 85.6h0M376.1 87.3h0M374.9 87.4h0M373.4 105.2h0M375.7 95.6h0M373.9 82.9h0M372.5 87.6h0M374.7 73.5h0M371.5 87.8h0M372.6 91.4h0M372.6 102.2h0M373.2 101.9h0M373.7 81.6h0M370.6 92.7h0M372.0 100.3h0M374.1 77.9h0M371.6 84.6h0M371.2 92.2h0M374.4 87.7h0M373.9 77.4h0M373.7 102.4h0M373.0 97.1h0M373.2 85.2h0M374.4 80.7h0M370.6 92.9h0M374.2 70.8h0M371.2 82.2h0M371.2 74.5h0M375.0 86.7h0M375.8 91.9h0M372.2 85.8h0M374.6 78.3h0M374.8 85.8h0M372.4 89.7h0M373.2 84.6h0M374.0 90.4h0M374.4 70.3h0M373.3 93.3h0M374.1 77.6h0M371.2 92.4h0M374.8 96.4h0M375.0 99.9h0M373.6 74.7h0M374.8 98.4h0M375.1 101.9h0M372.4 90.6h0M372.4 71.7h0M374.9 79.1h0M371.1 83.3h0M375.5 90.1h0M374.9 87.5h0M371.7 85.1h0M373.3 84.6h0M374.0 81.1h0M371.1 78.8h0M374.7 78.0h0M375.1 92.8h0M371.7 73.0h0M373.4 70.1h0M371.2 76.1h0M374.2 88.1h0M373.3 87.0h0M372.7 80.2h0M372.1 74.9h0M370.9 77.5h0M371.3 74.8h0M371.5 82.0h0M374.0 98.7h0M370.9 92.4h0M373.8 78.7h0M371.9 76.6h0M371.1 83.0h0M373.0 86.8h0M371.0 83.9h0M371.3 84.3h0M375.3 81.4h0M371.8 89.4h0M373.8 94.2h0M370.6 86.0h0M374.3 76.7h0M372.4 64.3h0M373.6 75.4h0M373.7 90.5h0M372.2 101.2h0M372.9 96.5h0M374.2 97.5h0M374.4 84.3h0M371.5 83.8h0M372.9 96.9h0M372.6 98.8h0M374.3 90.3h0M374.1 80.1h0M370.5 88.6h0M372.0 92.5h0M374.8 93.7h0M374.2 80.5h0M371.9 70.4h0M374.5 84.0h0M370.9 94.3h0M370.8 93.0h0M371.5 74.7h0M371.9 74.0h0M375.1 71.9h0M374.8 78.6h0M374.8 93.3h0M373.8 80.4h0M373.9 87.0h0M374.1 95.9h0M371.7 92.6h0M371.8 89.1h0M375.2 98.9h0M372.4 77.8h0M372.1 72.2h0M371.2 79.9h0M374.5 84.1h0M373.1 105.6h0M374.2 89.9h0M371.8 84.9h0M375.7 95.2h0M374.4 83.9h0M374.2 87.8h0M373.1 89.8h0M375.3 90.6h0M372.6 82.3h0M372.8 89.8h0M373.2 75.8h0M373.4 79.9h0M374.4 93.1h0M371.0 82.7h0M372.6 92.8h0M371.6 98.1h0M375.6 83.0h0M372.7 99.0h0M374.8 97.0h0M374.2 67.2h0M374.8 100.7h0M372.1 76.7h0M371.8 83.6h0M374.4 96.5h0M373.3 87.0h0M373.3 99.4h0M371.2 93.8h0M375.4 91.2h0M372.0 94.2h0M370.6 86.4h0M374.8 106.3h0M372.4 89.3h0M371.7 78.9h0M374.3 105.6h0M372.3 88.8h0M376.0 92.2h0M374.7 88.6h0M374.5 84.8h0M372.3 104.5h0M372.7 106.8h0M371.1 77.0h0M375.1 74.7h0M373.9 95.6h0M374.0 92.9h0M375.0 83.2h0M373.6 88.5h0M373.1 82.7h0M373.8 94.8h0M374.7 80.4h0M375.4 92.8h0M375.8 92.8h0M375.1 84.6h0M374.5 84.7h0M375.5 98.5h0M372.5 97.1h0M372.8 61.6h0M375.4 84.8h0M371.1 90.6h0M374.6 80.5h0M374.5 100.8h0M373.0 76.5h0M372.6 86.5h0M375.1 82.7h0M370.6 90.5h0M372.6 99.6h0M372.2 82.3h0M372.3 89.9h0M370.8 86.1h0M374.5 108.6h0M373.9 87.9h0M370.8 86.3h0M373.2 98.7h0M372.9 79.5h0M373.9 96.4h0M370.8 88.7h0M374.3 71.5h0M375.1 93.2h0M375.4 95.7h0M372.7 96.0h0M373.0 74.6h0M374.3 77.7h0M371.3 96.3h0M375.3 78.9h0M372.5 72.4h0M373.7 70.0h0M374.3 80.0h0M372.0 73.3h0M374.8 83.3h0M375.3 93.4h0M375.2 100.4h0M371.9 102.6h0M375.6 79.5h0M374.5 84.1h0M371.0 83.2h0M373.1 91.9h0M373.6 99.1h0M373.6 87.6h0M374.4 85.4h0M373.5 87.2h0M371.6 84.7h0M373.7 75.2h0M374.8 74.8h0M372.1 76.0h0M375.5 90.4h0M373.0 86.0h0M379.8 77.3h0M378.9 101.9h0M378.2 94.9h0M381.8 77.7h0M377.7 95.6h0M382.9 92.4h0M379.9 115.5h0M381.6 97.9h0M379.3 106.6h0M379.3 80.2h0M378.5 91.8h0M381.9 98.8h0M379.5 87.5h0M378.8 90.2h0M382.9 89.0h0M378.4 89.2h0M380.4 80.6h0M380.4 124.5h0M381.5 105.1h0M379.8 111.8h0M378.4 95.2h0M382.0 80.3h0M381.2 68.6h0M378.6 90.2h0M381.7 100.2h0M380.9 92.0h0M380.5 88.4h0M381.6 113.3h0M380.9 69.4h0M379.1 83.0h0M379.3 112.3h0M380.9 90.7h0M378.8 107.8h0M382.1 111.1h0M382.5 104.4h0M379.4 91.3h0M381.8 87.4h0M382.3 92.4h0M379.9 84.1h0M380.4 101.0h0M380.7 91.2h0M380.9 68.8h0M380.5 94.6h0M379.7 108.0h0M380.6 93.4h0M379.0 102.8h0M379.2 82.8h0M379.2 97.0h0M381.0 118.1h0M382.7 81.9h0M380.6 104.0h0M380.0 68.3h0M379.6 97.7h0M378.7 97.5h0M378.4 82.8h0M381.6 98.1h0M380.0 119.4h0M379.2 100.2h0M378.7 73.4h0M379.7 81.0h0M380.8 78.2h0M381.2 91.7h0M379.1 103.6h0M379.2 111.4h0M381.7 88.5h0M378.6 103.4h0M378.9 105.5h0M381.4 109.2h0M379.7 93.8h0M377.9 87.3h0M382.1 87.2h0M381.8 104.3h0M380.4 103.8h0M379.0 89.4h0M382.2 89.5h0M379.0 110.4h0M378.5 90.2h0M379.2 94.6h0M380.4 112.5h0M382.2 114.9h0M381.1 98.5h0M379.6 104.2h0M378.8 70.8h0M379.1 105.6h0M379.3 95.8h0M383.1 87.8h0M381.7 82.1h0M381.5 116.0h0M382.5 75.2h0M381.4 71.8h0M381.3 87.5h0M382.0 86.1h0M379.0 77.8h0M380.9 100.9h0M379.3 88.0h0M383.1 98.1h0M377.9 85.6h0M383.2 94.8h0M382.0 90.5h0M393.9 75.8h0M396.8 89.1h0M394.0 83.5h0M392.7 88.7h0M392.4 77.3h0M396.7 73.3h0M393.3 66.3h0M393.9 71.2h0M392.9 81.0h0M397.2 75.5h0M393.8 84.1h0M394.8 83.3h0M396.3 75.9h0M393.2 82.9h0M395.4 105.3h0M397.0 79.6h0M396.1 87.9h0M394.1 71.0h0M395.1 99.5h0M395.0 106.4h0M395.6 86.2h0M393.2 84.6h0M393.0 70.3h0M395.5 72.3h0M392.2 80.1h0M395.8 72.5h0M394.1 92.4h0M394.0 100.0h0M396.3 91.9h0M392.4 92.3h0M393.3 94.0h0M394.3 73.8h0M392.1 85.2h0M396.9 88.1h0M393.6 81.8h0M393.2 77.9h0M394.8 57.8h0M393.6 84.8h0M393.9 73.2h0M397.1 85.6h0M394.6 66.5h0M396.0 87.1h0M395.7 70.3h0M395.1 77.8h0M392.7 93.7h0M396.1 71.1h0M395.2 92.6h0M396.1 81.1h0M392.8 83.7h0M396.2 87.8h0M394.1 69.2h0M393.6 86.2h0M393.5 97.1h0M395.8 95.5h0M392.0 80.5h0M394.5 97.2h0M393.6 96.8h0M397.2 79.7h0M392.6 78.1h0M393.3 67.1h0M397.2 76.2h0M397.1 84.9h0M395.6 90.5h0M396.2 73.3h0M393.9 86.7h0M395.5 70.3h0M392.0 81.2h0M396.2 93.2h0M394.8 87.8h0M395.7 90.3h0M396.9 83.0h0M393.7 94.0h0M395.3 92.6h0M393.3 93.9h0M395.8 69.8h0M395.1 100.9h0M394.9 98.9h0M396.0 93.1h0M395.4 67.7h0M394.7 87.5h0M392.5 77.0h0M395.5 78.1h0M397.2 84.3h0M394.5 74.8h0M396.3 70.2h0M392.8 83.4h0M396.8 93.3h0M392.0 80.8h0M394.4 89.8h0M396.0 81.6h0M395.1 71.1h0M395.6 67.7h0M395.1 73.0h0M395.1 93.2h0M393.7 78.6h0M395.0 62.1h0M396.3 80.4h0M395.0 84.6h0M396.6 82.8h0M394.9 96.9h0M395.6 76.1h0M393.5 90.9h0M396.7 74.3h0M392.2 87.5h0M392.6 88.4h0M395.5 80.8h0M396.9 85.5h0M393.5 80.4h0M395.2 83.4h0M394.2 88.6h0M393.6 93.0h0M394.2 82.7h0M395.3 79.1h0M397.3 80.8h0M395.5 83.4h0M393.6 88.5h0M393.7 96.3h0M394.7 73.4h0M395.2 106.0h0M394.4 90.3h0M393.4 105.9h0M392.1 79.6h0M396.5 85.8h0M394.6 102.8h0M393.4 88.9h0M396.1 76.2h0M396.7 91.9h0M393.2 65.0h0M395.1 70.5h0M397.4 84.2h0M394.6 74.5h0M392.8 70.5h0M393.6 66.8h0M394.2 65.5h0M396.9 81.9h0M395.5 86.5h0M395.9 87.9h0M395.3 88.4h0M395.3 103.8h0M397.2 89.3h0M393.2 93.2h0M393.9 71.9h0M394.4 74.1h0M396.5 67.7h0M393.1 78.4h0M395.4 72.6h0M395.5 81.7h0M394.1 105.2h0M393.7 60.8h0M393.9 87.2h0M392.7 82.9h0M396.6 81.3h0M397.5 81.7h0M392.5 91.9h0M393.9 88.2h0M392.2 79.9h0M395.2 82.3h0M393.2 73.7h0M396.0 89.7h0M393.1 79.5h0M395.6 78.2h0M394.5 83.3h0M396.4 83.2h0M395.4 87.5h0M393.7 89.0h0M394.0 79.1h0M397.0 85.3h0M396.4 81.3h0M397.0 87.5h0M394.7 67.5h0M396.5 75.4h0M393.4 81.2h0M396.5 89.4h0M395.2 78.9h0M396.5 82.0h0M394.2 96.0h0M394.3 102.4h0M395.4 102.1h0M396.8 84.8h0M394.4 89.2h0M392.1 80.2h0M393.0 75.4h0M395.1 85.7h0M396.7 79.3h0M394.7 62.1h0M396.5 91.7h0M396.2 92.4h0M394.1 87.6h0M392.9 86.9h0M397.2 83.5h0M395.9 62.4h0M397.3 86.6h0M397.3 76.9h0M395.3 102.2h0M394.9 69.3h0M397.3 83.4h0M395.7 79.1h0M393.8 89.3h0M393.8 94.7h0M392.9 81.8h0M397.0 79.8h0M393.7 81.2h0M395.2 79.0h0M393.8 69.7h0M393.3 76.3h0M392.3 79.7h0M392.4 92.9h0M394.4 81.4h0M395.9 89.1h0M394.9 72.8h0M396.1 82.4h0M397.5 80.0h0M395.3 65.6h0M397.2 81.1h0M395.9 104.0h0M395.1 75.0h0M395.6 68.8h0M392.3 76.2h0M396.6 72.0h0M396.4 65.2h0M396.1 95.0h0M394.4 56.5h0M393.6 91.4h0M395.3 85.8h0M395.2 90.6h0M396.5 85.0h0M394.1 75.3h0M394.1 95.2h0M393.8 82.4h0M392.5 83.8h0M394.2 86.9h0M397.0 87.3h0M396.7 75.0h0M393.8 57.2h0M395.0 92.7h0M396.7 84.1h0M396.9 82.7h0M394.6 60.9h0M394.6 66.3h0M393.9 89.8h0M394.7 85.1h0M396.6 97.6h0M396.2 72.6h0M393.1 97.8h0M396.0 85.6h0M394.4 90.9h0M396.6 73.1h0M393.7 79.7h0M394.3 78.5h0M395.1 89.7h0M394.4 84.5h0M394.7 99.8h0M396.2 90.4h0M394.9 85.7h0M394.3 90.6h0M394.2 83.1h0M393.8 62.5h0M394.8 75.0h0M395.8 66.9h0M395.1 69.0h0M395.1 82.6h0M394.3 73.2h0M395.1 84.8h0M395.5 100.8h0M393.6 79.5h0M394.3 85.6h0M396.3 87.2h0M395.4 94.7h0M395.6 84.9h0M393.0 70.7h0M392.7 72.4h0M392.0 86.9h0M395.8 71.1h0M393.8 75.1h0M395.1 69.6h0M394.8 81.0h0M394.3 62.0h0M392.9 93.9h0M395.4 81.6h0M395.4 66.4h0M396.6 72.4h0M394.8 73.3h0M394.2 77.1h0M392.7 94.1h0M396.5 86.2h0M396.2 87.1h0M393.4 74.2h0M393.8 70.3h0M393.4 82.1h0M392.8 82.4h0M395.8 90.2h0M393.8 91.6h0M397.0 86.3h0M396.1 82.3h0M394.6 77.7h0M394.8 56.9h0M394.4 88.2h0M397.4 82.6h0M395.5 83.2h0M396.3 64.6h0M395.4 100.2h0M393.5 60.9h0M394.6 105.8h0M394.7 88.0h0M392.3 81.0h0M393.4 96.0h0M396.1 75.2h0M393.1 91.9h0M393.3 78.6h0M394.7 76.2h0M392.7 74.1h0M394.3 90.3h0M396.2 91.3h0M395.0 77.4h0M395.5 84.4h0M395.2 94.1h0M396.8 94.8h0M395.7 66.5h0M395.2 91.6h0M394.4 71.9h0M395.0 93.8h0M394.9 65.7h0M394.8 77.2h0M394.3 64.9h0M392.3 83.4h0M395.9 81.7h0M396.3 85.0h0M396.4 84.2h0M395.0 91.4h0M396.8 82.6h0M395.3 72.7h0M395.6 78.8h0M394.3 87.0h0M392.5 83.6h0M393.3 89.4h0M392.8 86.3h0M396.8 83.2h0M394.7 74.7h0M395.3 86.6h0M396.3 85.6h0M396.7 87.8h0M394.4 76.4h0M396.6 81.8h0M395.1 69.5h0M395.2 104.2h0M396.5 89.7h0M392.9 67.2h0M392.8 79.1h0M395.5 101.3h0M392.9 86.4h0M397.1 89.5h0M395.2 83.7h0M395.8 70.3h0M393.5 84.7h0M395.3 92.5h0M393.6 64.7h0M393.1 77.2h0M395.9 82.2h0M395.7 88.1h0M397.0 79.8h0M395.7 92.0h0M392.0 86.5h0M396.3 72.5h0M393.4 80.8h0M407.3 127.0h0M408.6 93.7h0M410.5 106.5h0M408.5 67.1h0M407.4 116.5h0M409.8 113.3h0M410.6 93.5h0M410.0 114.7h0M409.7 94.7h0M407.7 85.9h0M411.7 99.1h0M407.6 127.1h0M408.7 77.2h0M411.0 83.3h0M406.8 90.3h0M410.3 89.1h0M409.9 74.3h0M408.4 116.4h0M408.2 124.2h0M407.5 79.7h0M410.0 103.0h0M410.0 87.6h0M409.7 102.0h0M407.9 95.6h0M407.4 127.1h0M408.7 103.3h0M411.3 89.6h0M409.6 95.1h0M411.6 101.6h0M409.0 97.0h0M407.8 76.2h0M409.5 123.9h0M407.7 72.2h0M408.0 124.7h0M411.1 115.4h0M409.9 91.4h0M409.9 107.6h0M408.6 77.7h0M410.3 87.4h0M408.6 114.4h0M409.0 97.4h0M407.2 101.7h0M411.8 97.0h0M406.5 98.7h0M407.3 100.8h0M409.1 88.3h0M410.2 93.3h0M407.5 111.9h0M408.1 88.2h0M407.8 91.1h0M410.4 72.0h0M410.6 97.5h0M409.7 90.9h0M409.2 98.2h0M407.5 98.9h0M410.2 111.3h0M409.8 74.1h0M411.7 97.4h0M407.2 109.2h0M411.6 100.6h0M407.8 73.7h0M410.1 75.0h0M410.1 88.4h0M408.7 103.9h0M407.0 119.9h0M409.4 107.8h0M409.3 93.9h0M406.5 106.6h0M410.9 76.3h0M408.4 112.7h0M406.6 112.2h0M409.7 88.7h0M407.2 100.3h0M408.1 81.4h0M409.0 92.4h0M410.3 74.4h0M408.9 100.3h0M409.7 88.3h0M406.7 88.5h0M410.6 102.8h0M409.6 107.0h0M411.6 99.3h0M406.9 102.9h0M407.2 120.2h0M411.6 100.0h0M411.0 99.0h0M408.5 85.2h0M410.2 108.9h0M410.1 113.1h0M406.7 83.8h0M411.3 95.2h0M409.5 89.7h0M407.3 115.6h0M408.4 87.3h0M407.6 85.9h0M408.0 65.4h0M411.7 91.3h0M408.5 92.8h0M410.7 83.4h0M406.4 98.6h0M411.5 82.9h0M406.8 73.3h0M408.4 112.3h0M406.6 109.6h0M409.0 112.4h0M408.4 109.6h0M407.7 122.6h0M406.2 101.3h0M406.5 101.4h0M408.5 93.1h0M411.0 102.9h0M409.0 100.6h0M409.0 90.1h0M408.0 93.1h0M408.6 72.6h0M410.1 128.8h0M410.4 105.4h0M409.8 114.7h0M410.9 85.8h0M410.7 109.8h0M408.4 118.0h0M409.2 96.1h0M409.0 95.2h0M409.1 94.4h0M407.7 68.1h0M410.9 115.7h0M409.5 121.2h0M408.7 115.5h0M409.6 112.9h0M410.2 120.2h0M407.5 68.6h0M410.9 104.1h0M409.6 118.3h0M407.3 116.9h0M410.1 111.7h0M410.0 99.6h0M406.4 104.9h0M411.4 97.0h0M410.5 124.9h0M416.3 91.7h0M416.9 91.3h0M418.3 93.6h0M418.0 85.1h0M415.7 81.1h0M415.0 95.1h0M414.2 81.2h0M416.1 82.9h0M416.0 77.5h0M413.9 84.3h0M415.4 96.8h0M417.0 94.3h0M416.4 81.1h0M414.6 81.4h0M414.8 97.3h0M414.1 91.0h0M413.6 84.0h0M418.2 81.7h0M413.3 86.3h0M414.7 92.9h0M415.6 92.9h0M414.1 91.9h0M415.5 95.6h0M417.1 81.7h0M417.0 101.1h0M415.5 86.2h0M416.6 82.8h0M416.1 84.8h0M416.0 92.9h0M417.6 83.6h0M415.0 83.7h0M413.5 86.6h0M415.9 75.2h0M417.0 81.3h0M418.0 87.8h0M416.0 84.8h0M416.2 84.9h0M416.0 95.4h0M414.5 85.7h0M416.7 86.2h0M415.7 87.1h0M413.4 89.5h0M415.9 96.2h0M414.3 89.3h0M417.6 80.1h0M414.6 79.8h0M417.5 99.8h0M418.3 81.7h0M417.7 96.1h0M413.6 86.5h0M415.8 88.0h0M415.7 79.6h0M415.9 85.3h0M416.3 79.8h0M418.2 96.4h0M415.7 90.5h0M414.5 83.4h0M416.0 84.2h0M417.7 95.4h0M415.9 93.4h0M418.1 91.5h0M416.2 80.8h0M416.2 84.4h0M418.0 78.8h0M415.0 76.1h0M415.8 84.9h0M418.7 85.8h0M418.7 89.3h0M414.3 92.5h0M415.5 86.0h0M415.5 81.3h0M417.9 80.2h0M416.0 77.5h0M415.9 84.8h0M417.7 84.4h0M417.7 90.0h0M418.2 81.6h0M417.4 95.4h0M415.7 96.0h0M414.5 84.8h0M413.8 93.7h0M418.5 90.7h0M416.2 99.8h0M418.3 84.7h0M414.7 101.3h0M418.5 80.1h0M417.0 80.7h0M418.2 83.8h0M415.4 80.5h0M418.3 81.0h0M414.6 86.8h0M413.5 86.9h0M414.5 75.3h0M416.5 86.2h0M415.0 89.0h0M414.5 88.5h0M418.1 90.0h0M413.8 82.8h0M418.5 88.1h0M418.0 96.1h0M417.7 88.5h0M415.0 82.7h0M418.2 77.1h0M413.8 82.8h0M415.6 92.5h0M416.3 97.4h0M415.7 92.6h0M415.0 90.5h0M416.9 85.6h0M414.3 90.1h0M418.0 87.7h0M418.1 84.9h0M418.5 89.8h0M413.5 86.1h0M416.8 94.7h0M414.8 95.2h0M415.9 89.6h0M418.2 81.1h0M414.1 88.0h0M418.5 83.5h0M414.0 87.8h0M416.9 92.9h0M418.7 89.4h0M417.3 90.8h0M416.9 88.9h0M414.8 86.7h0M416.1 90.1h0M415.7 90.7h0M416.8 88.7h0M414.8 85.9h0M414.6 79.0h0M417.0 74.6h0M415.5 74.3h0M415.6 78.0h0M417.0 95.9h0M418.0 94.5h0M413.7 91.7h0M413.8 85.5h0M416.5 85.8h0M414.7 86.0h0M418.8 88.6h0M416.6 83.1h0M418.7 84.1h0M416.3 84.7h0M413.5 82.8h0M416.4 87.1h0M416.6 89.1h0M417.1 79.6h0M418.4 88.9h0M415.9 87.8h0M417.7 84.9h0M415.6 74.6h0M414.0 88.0h0M416.7 99.4h0M415.6 97.3h0M416.7 83.9h0M417.4 94.0h0M414.2 84.1h0M415.0 87.5h0M414.5 76.8h0M418.0 82.5h0M416.9 97.5h0M417.9 82.4h0M415.4 94.6h0M415.2 96.3h0M414.4 84.5h0M418.5 92.0h0M418.2 91.4h0M414.5 97.5h0M417.6 85.6h0M414.8 78.8h0M416.9 98.0h0M418.7 87.5h0M415.2 101.8h0M415.8 99.9h0M418.6 87.3h0M417.4 78.3h0M416.9 90.8h0M415.6 94.3h0M416.2 92.3h0M414.5 91.2h0M414.2 95.0h0M414.7 83.4h0M415.7 76.2h0M417.4 101.2h0M417.8 98.5h0M414.2 78.8h0M417.9 88.4h0M415.7 80.9h0M417.2 75.2h0M417.8 94.7h0M417.9 88.8h0M416.4 82.6h0M417.4 84.0h0M417.8 78.2h0M418.0 94.7h0M418.4 94.1h0M416.5 79.1h0M414.8 86.2h0M418.0 88.8h0M417.1 80.7h0M417.2 77.8h0M417.3 88.7h0M415.7 84.6h0M418.2 90.2h0M417.4 98.0h0M415.4 79.7h0M418.1 95.1h0M416.2 89.9h0M417.7 77.0h0M415.8 96.7h0M416.0 87.0h0M415.2 86.0h0M413.9 90.7h0M418.4 92.9h0M414.2 77.7h0M414.4 87.3h0M416.0 91.6h0M414.3 97.1h0M414.9 84.1h0M415.6 81.5h0M418.9 85.8h0M417.0 83.5h0M413.9 78.7h0M414.5 81.8h0M415.6 89.5h0M416.5 78.0h0M414.8 80.1h0M418.1 80.5h0M415.3 88.7h0M415.6 74.5h0M417.2 89.2h0M417.0 96.4h0M417.5 85.5h0M415.7 98.3h0M418.1 84.5h0M414.5 79.6h0M418.6 89.2h0M414.1 87.0h0M414.1 85.2h0M415.1 98.3h0M417.8 88.5h0M416.0 94.5h0M414.6 85.1h0M415.1 88.2h0M415.6 84.6h0M414.6 85.8h0M414.0 79.1h0M415.0 94.5h0M418.6 84.8h0M414.9 76.6h0M416.5 98.4h0M417.0 94.9h0M417.4 78.9h0M416.3 82.5h0M414.4 79.2h0M415.1 94.6h0M414.2 88.0h0M416.8 93.0h0M414.4 92.8h0M416.3 90.9h0M416.4 99.3h0M414.3 89.2h0M418.6 84.6h0M414.6 76.3h0M416.2 82.4h0M416.7 76.7h0M415.0 82.7h0M416.8 87.6h0M415.7 83.7h0M418.1 88.6h0M414.6 76.7h0M414.6 94.3h0M414.9 95.1h0M416.3 82.3h0M414.8 86.0h0M417.3 76.5h0M416.7 92.1h0M414.6 80.1h0M418.1 88.2h0M417.0 90.0h0M415.9 87.1h0M413.8 91.6h0M416.6 102.0h0M418.2 85.7h0M414.7 76.9h0M417.4 87.5h0M417.1 94.9h0M413.6 83.3h0M414.6 96.9h0M417.4 100.4h0M418.4 87.2h0M414.2 84.8h0M416.8 101.5h0M418.3 79.1h0M416.5 99.0h0M416.9 75.5h0M416.4 101.4h0M416.1 93.9h0M415.8 75.1h0M418.4 92.6h0M413.9 91.7h0M414.6 89.0h0M414.9 85.0h0M413.5 84.7h0M416.5 97.7h0M416.4 86.0h0M413.5 87.2h0M415.3 91.4h0M415.7 91.4h0M418.4 79.3h0M415.0 99.5h0M414.6 100.5h0M417.5 90.0h0M415.7 77.7h0M416.0 87.2h0M416.2 76.5h0M416.9 100.9h0M416.2 77.2h0M414.4 88.9h0M417.9 90.3h0M415.9 80.7h0M414.1 82.5h0M416.8 94.0h0M415.5 87.3h0M414.7 84.2h0M413.4 85.1h0M414.8 97.5h0M415.6 96.7h0M418.1 84.8h0M414.7 88.5h0M418.3 86.0h0M414.6 82.6h0M418.1 85.9h0M416.7 90.0h0M414.3 91.4h0M416.7 89.4h0M414.9 80.3h0M414.7 91.9h0M414.7 77.0h0M416.4 97.0h0M417.0 90.3h0M417.3 90.2h0M418.3 87.0h0M414.4 89.9h0M414.4 92.1h0M415.9 98.5h0M416.6 86.0h0M415.7 78.1h0M416.6 86.2h0M416.3 94.1h0M418.0 81.8h0M415.8 89.7h0M414.8 87.1h0M416.1 88.2h0M415.9 87.7h0M417.1 89.9h0M414.6 87.8h0M418.2 87.6h0M414.6 87.6h0M418.2 85.1h0M416.2 100.4h0M418.0 78.8h0M414.4 84.9h0M414.5 82.2h0M417.3 91.1h0M415.8 89.6h0M416.9 92.7h0M414.8 75.4h0M414.2 90.9h0M418.7 88.7h0M418.5 81.5h0M417.2 88.0h0M414.8 93.6h0M416.1 93.2h0M416.0 92.5h0M413.4 90.1h0M414.9 85.4h0M414.5 79.3h0M415.7 87.4h0M417.4 81.8h0M417.0 85.8h0M415.2 75.6h0M416.9 88.7h0M417.5 94.4h0M416.2 81.7h0M416.2 95.0h0M417.1 75.4h0M416.6 88.5h0M416.6 101.4h0M414.2 81.2h0M416.3 87.7h0M418.4 93.3h0M418.4 87.5h0M418.1 81.1h0M416.4 92.5h0M416.8 89.3h0M415.1 85.8h0M416.6 78.4h0M415.0 87.3h0M416.1 93.1h0M417.8 86.9h0M414.8 86.6h0M418.6 80.8h0M415.5 74.5h0M415.9 92.0h0M417.4 96.1h0M416.8 98.8h0M416.7 98.9h0M418.5 92.5h0M414.2 77.5h0M415.2 100.7h0M414.2 92.8h0M414.7 84.5h0M416.4 77.6h0M415.3 86.0h0M414.6 84.2h0M415.0 89.9h0M415.3 93.6h0M417.0 93.7h0M415.2 78.2h0M416.9 87.5h0M417.4 100.3h0M415.2 89.7h0M416.5 87.2h0M414.0 82.4h0M418.4 81.4h0M414.0 84.1h0M416.4 74.3h0M416.4 86.0h0M418.0 90.8h0M415.1 100.5h0M418.3 84.4h0M418.4 83.4h0M416.2 92.3h0M417.5 81.6h0M415.6 79.7h0M431.1 86.1h0M430.7 86.1h0M430.8 104.2h0M428.9 78.7h0M431.8 93.1h0M431.7 73.1h0M431.5 66.9h0M429.5 77.8h0M428.7 97.9h0M430.1 100.2h0M430.3 93.9h0M430.9 68.9h0M431.2 94.2h0M428.1 86.1h0M431.6 100.2h0M432.1 100.5h0M433.1 83.7h0M431.6 96.3h0M429.7 82.8h0M427.8 81.5h0M431.8 87.4h0M433.1 82.2h0M430.3 81.6h0M428.6 82.6h0M428.4 87.0h0M432.2 91.0h0M432.9 82.8h0M429.3 82.5h0M431.0 92.0h0M430.5 88.1h0M431.0 79.5h0M432.0 102.2h0M429.0 85.0h0M433.0 86.2h0M429.2 82.8h0M430.3 84.8h0M428.9 98.7h0M429.6 90.2h0M432.3 72.8h0M430.2 96.0h0M428.1 81.9h0M427.8 91.7h0M430.2 95.6h0M432.6 76.0h0M429.0 88.3h0M429.4 70.1h0M428.2 95.7h0M429.8 83.4h0M431.1 82.1h0M432.8 92.9h0M430.3 94.3h0M429.4 82.5h0M430.2 74.7h0M431.0 87.3h0M428.0 86.3h0M432.3 78.2h0M430.5 94.2h0M430.8 77.1h0M432.5 93.7h0M430.0 94.6h0M429.7 106.6h0M432.3 77.5h0M432.3 90.4h0M430.9 95.3h0M432.6 79.2h0M432.2 90.6h0M430.3 83.8h0M430.6 84.2h0M429.1 93.3h0M428.3 93.7h0M428.1 84.5h0M429.8 72.5h0M428.8 86.6h0M431.7 86.7h0M428.3 92.2h0M428.0 81.1h0M430.6 105.4h0M431.3 81.9h0M429.3 107.0h0M429.5 96.4h0M428.7 82.5h0M431.2 94.1h0M427.8 86.6h0M431.6 89.4h0M432.5 86.9h0M429.0 77.3h0M429.4 91.3h0M428.3 93.2h0M428.6 73.3h0M429.3 107.7h0M431.8 89.3h0M429.6 82.6h0M430.6 87.6h0M429.2 95.3h0M431.0 71.6h0M429.9 82.1h0M429.3 73.9h0M428.7 75.4h0M428.0 83.1h0M429.9 103.6h0M432.4 77.9h0M429.3 89.7h0M431.9 75.8h0M430.5 90.5h0M429.0 82.9h0M429.8 97.3h0M429.8 92.7h0M429.2 92.1h0M428.7 76.9h0M428.6 92.2h0M431.2 66.2h0M430.8 87.3h0M430.9 96.2h0M428.8 82.1h0M438.6 87.7h0M437.0 101.0h0M437.6 88.5h0M436.2 74.7h0M437.0 90.6h0M437.5 62.3h0M435.3 80.5h0M437.4 65.7h0M436.0 87.9h0M437.5 80.5h0M436.6 109.9h0M435.3 96.9h0M440.1 82.8h0M438.3 88.1h0M438.4 91.4h0M438.5 111.0h0M436.5 103.0h0M436.9 82.4h0M437.0 99.8h0M436.7 69.3h0M439.5 96.8h0M436.1 75.5h0M435.4 107.0h0M437.6 89.1h0M437.0 96.2h0M439.4 72.3h0M439.4 93.9h0M439.7 99.9h0M435.6 110.5h0M438.4 80.9h0M436.2 107.4h0M437.9 68.7h0M435.3 83.5h0M438.9 93.8h0M435.9 92.2h0M436.2 114.1h0M436.6 83.3h0M434.9 82.2h0M437.5 109.5h0M437.9 96.4h0M435.4 70.4h0M439.4 100.6h0M439.5 67.8h0M438.2 65.1h0M439.2 115.7h0M435.5 91.2h0M435.4 102.6h0M435.1 95.0h0M436.5 86.0h0M438.8 92.3h0M438.4 65.3h0M436.3 76.7h0M439.2 88.4h0M437.2 70.7h0M436.3 103.0h0M436.1 82.2h0M439.8 70.8h0M439.7 70.2h0M435.6 90.7h0M439.9 75.9h0M436.3 83.0h0M434.7 86.4h0M436.6 110.3h0M437.0 93.5h0M439.5 73.6h0M438.0 84.3h0M437.6 69.4h0M439.7 71.0h0M439.4 71.5h0M439.6 87.1h0M438.1 77.5h0M439.0 74.8h0M437.2 74.6h0M440.3 82.0h0M438.7 77.5h0M437.7 94.1h0M438.7 85.0h0M437.8 101.8h0M438.3 85.6h0M437.7 86.1h0M435.4 104.1h0M436.6 103.5h0M436.0 72.1h0M436.0 102.4h0M436.3 63.5h0M440.1 91.1h0M439.1 110.5h0M437.5 89.7h0M435.7 112.1h0M438.1 69.9h0M440.1 86.1h0M435.9 103.1h0M435.3 91.1h0M438.2 79.8h0M436.2 98.6h0M435.0 79.4h0M436.2 96.1h0M435.1 80.6h0M439.1 82.7h0M437.4 75.4h0M436.3 97.4h0M435.2 77.8h0M435.4 89.3h0M437.2 93.3h0M435.4 86.8h0M437.5 78.0h0M437.5 101.0h0M436.1 112.0h0M439.0 60.8h0M436.2 73.4h0M436.2 104.3h0M436.7 90.0h0M439.8 100.6h0M436.2 121.5h0M437.0 101.2h0M438.3 65.4h0M436.9 116.3h0M439.4 75.0h0M435.5 84.5h0M437.4 99.8h0M436.7 95.4h0M437.4 71.7h0M437.7 77.3h0M435.7 94.4h0M436.0 92.8h0M435.0 81.4h0M437.1 100.0h0M437.6 76.6h0M435.7 83.1h0M436.1 79.1h0M438.6 103.3h0M438.2 66.9h0M439.9 74.6h0M439.8 93.8h0M439.1 87.9h0M439.2 86.5h0M435.0 79.8h0M436.1 96.0h0M437.7 105.3h0M436.9 78.7h0M438.1 69.4h0M437.8 76.3h0M436.0 96.2h0M435.6 69.0h0M435.7 83.4h0M437.0 87.5h0M437.7 81.6h0M436.0 95.7h0M437.9 71.0h0M437.0 101.2h0M435.1 78.0h0M435.3 92.1h0M438.0 62.9h0M438.6 80.5h0M435.1 91.6h0M437.1 95.3h0M439.0 87.2h0M437.2 77.9h0M438.0 87.0h0M436.3 82.6h0M435.7 105.3h0M435.6 98.8h0M438.5 72.4h0M440.3 88.7h0M435.8 94.5h0M438.5 92.8h0M435.4 86.6h0M437.3 94.3h0M438.2 63.3h0M436.8 64.6h0M438.6 102.4h0M438.4 97.4h0M437.3 101.7h0M438.1 61.6h0M436.6 105.9h0M439.2 85.4h0M437.9 77.8h0M439.6 90.7h0M437.6 74.1h0M436.8 66.9h0M437.1 89.7h0M439.4 97.0h0M438.2 77.3h0M435.9 81.4h0M439.4 85.3h0M439.1 72.9h0M438.2 106.4h0M437.9 106.5h0M438.4 98.9h0M436.1 106.4h0M434.9 86.4h0M437.1 85.5h0M436.1 67.2h0M438.2 88.8h0M435.4 101.7h0M439.5 77.9h0M436.6 104.6h0M438.8 95.6h0M437.7 93.6h0M438.2 90.3h0M437.1 100.5h0M437.7 101.5h0M436.9 93.4h0M435.9 67.3h0M436.8 97.9h0M438.5 106.7h0M439.8 77.7h0M439.4 107.6h0M438.9 64.4h0M435.8 92.2h0M436.3 117.7h0M437.5 104.9h0M439.4 102.9h0M436.6 89.9h0M438.7 83.2h0M440.0 74.1h0M434.9 80.5h0M436.9 82.9h0M435.9 60.5h0M437.1 97.4h0M439.4 83.7h0M435.8 98.9h0M435.8 81.0h0M436.3 75.7h0M440.2 89.2h0M436.5 61.4h0M435.0 91.1h0M435.3 97.4h0M439.4 98.7h0M439.5 88.6h0M439.6 75.4h0M436.2 88.0h0M435.5 80.3h0M436.3 86.2h0M438.2 84.3h0M438.4 94.7h0M438.5 94.3h0M437.2 95.3h0M438.4 73.9h0M436.7 114.2h0M437.1 76.2h0M437.0 110.1h0M436.9 85.0h0M438.9 77.1h0M439.2 75.4h0M436.0 88.3h0M438.7 62.2h0M438.5 93.4h0M435.1 87.5h0M438.8 75.6h0M438.7 107.6h0M436.1 100.5h0M436.4 100.8h0M436.6 104.2h0M436.3 103.1h0M438.8 72.2h0M436.7 72.1h0M436.4 99.6h0M436.7 84.2h0M434.9 80.2h0M439.2 86.6h0M435.4 83.6h0M437.4 88.9h0M435.8 88.2h0M438.2 97.7h0M438.1 76.1h0M436.0 78.7h0M437.9 107.3h0M437.3 109.4h0M436.7 105.3h0M437.0 84.7h0M437.7 63.4h0M436.9 75.0h0M435.7 77.8h0M438.5 76.1h0M438.7 114.0h0M438.9 84.6h0M436.1 102.5h0M435.1 87.7h0M437.8 85.7h0M436.0 75.2h0M437.6 104.2h0M436.7 97.6h0M437.0 107.2h0M437.0 67.4h0M436.5 104.3h0M438.0 92.0h0M437.4 78.1h0M437.8 100.7h0M436.0 100.6h0M435.2 75.9h0M439.2 84.0h0M439.7 104.4h0M434.9 95.3h0M436.5 67.9h0M438.7 115.9h0M435.3 77.7h0M439.5 100.2h0M438.8 100.9h0M438.1 71.2h0M438.7 104.6h0M438.5 101.7h0M438.5 72.1h0M435.0 95.1h0M437.4 86.3h0M435.0 82.8h0M436.1 95.7h0M437.6 99.9h0M438.7 103.6h0M436.0 119.5h0M437.3 105.0h0M434.8 88.5h0M439.5 90.7h0M439.9 85.1h0M435.3 86.0h0M437.6 87.6h0M435.4 86.4h0M439.0 94.0h0M438.4 89.1h0M435.6 81.7h0M436.5 72.0h0M438.8 111.9h0M439.7 103.5h0M437.5 98.3h0M439.3 87.9h0M435.1 81.0h0M440.4 92.7h0M435.9 109.5h0M439.4 76.1h0M437.0 98.8h0M439.0 111.3h0M439.5 75.9h0M438.8 83.0h0M435.2 98.0h0M437.2 60.8h0M438.1 66.1h0M438.9 117.3h0M436.5 77.1h0M436.5 88.4h0M437.0 103.5h0M438.7 88.6h0M437.4 98.5h0M437.8 92.4h0M437.0 99.6h0M437.8 61.7h0M437.7 98.5h0M436.7 96.9h0M437.2 103.9h0M435.2 101.4h0M439.7 79.2h0M435.0 89.2h0M436.5 86.8h0M435.5 95.2h0M435.9 79.4h0M435.3 89.5h0M438.4 69.9h0M439.7 68.2h0M435.9 87.6h0M438.1 95.6h0M439.7 72.4h0M438.4 78.4h0M435.4 87.2h0M440.0 98.2h0M435.5 95.2h0M434.8 86.9h0M437.9 95.5h0M436.4 86.9h0M438.2 96.0h0M435.7 89.1h0M437.2 75.9h0M438.1 60.9h0M437.2 94.5h0M436.3 83.0h0M435.6 101.6h0M439.1 83.4h0M440.3 90.0h0M437.8 91.3h0M436.6 82.1h0M435.2 76.7h0M437.3 62.5h0M436.7 101.7h0M437.0 102.8h0M439.1 68.7h0M437.1 97.1h0M436.2 70.8h0M437.6 75.9h0M435.9 66.5h0M439.1 90.4h0M438.8 64.0h0M436.9 79.4h0M437.1 113.1h0M437.9 91.8h0M437.8 92.5h0M435.0 86.9h0M435.2 100.2h0M437.7 103.6h0M435.8 77.7h0M437.5 85.7h0M438.0 66.1h0M436.8 85.4h0M437.1 82.2h0M438.4 87.3h0M435.0 81.6h0M439.7 73.8h0M435.3 103.5h0M438.3 118.7h0M439.5 101.6h0M439.7 87.6h0M438.1 85.7h0M437.4 117.2h0M435.9 81.7h0M438.1 90.5h0M438.1 97.4h0M439.1 78.5h0M436.9 104.5h0M435.0 77.0h0M440.1 85.4h0M435.4 86.7h0M437.9 83.6h0M439.8 79.1h0M439.3 71.4h0M437.4 108.4h0M435.2 103.5h0M439.0 98.4h0M437.1 83.6h0M440.1 98.9h0M437.7 100.8h0M438.9 75.5h0M438.2 105.1h0M438.6 82.3h0M437.0 75.3h0M435.7 80.0h0M437.6 102.1h0M436.9 103.1h0M439.7 103.9h0M436.6 98.8h0M437.6 80.3h0M439.7 82.8h0M436.5 65.3h0M437.9 65.6h0M435.5 79.4h0M439.1 90.7h0M438.4 66.6h0M438.9 67.2h0M435.7 86.1h0M440.1 99.8h0M436.7 74.9h0M438.9 89.9h0M435.4 78.6h0M439.9 84.7h0M436.2 98.1h0M436.8 87.2h0M439.0 113.9h0M436.0 92.3h0M438.8 120.0h0M436.5 81.4h0M439.4 70.9h0M437.3 75.6h0M437.3 61.7h0M437.4 89.2h0M438.3 77.5h0M440.0 87.3h0M437.3 70.1h0M438.2 88.0h0M439.8 102.7h0M437.2 107.0h0M436.4 100.5h0M438.3 102.9h0M438.7 60.8h0M435.0 96.4h0M436.0 87.2h0M437.6 104.5h0M440.0 96.6h0M439.1 77.4h0M439.1 77.4h0M449.6 84.0h0M453.3 95.5h0M452.5 80.9h0M450.7 85.6h0M451.6 93.0h0M452.9 93.7h0M451.2 89.5h0M452.3 83.3h0M451.0 88.4h0M452.9 81.0h0M451.5 81.8h0M450.8 91.3h0M452.6 84.1h0M452.4 85.9h0M451.1 81.7h0M452.8 86.6h0M449.9 82.4h0M450.0 88.8h0M451.7 88.7h0M453.1 80.9h0M450.2 85.2h0M449.8 83.6h0M454.4 89.2h0M452.8 84.7h0M454.2 85.4h0M451.6 81.0h0M450.8 92.0h0M454.2 86.1h0M451.9 75.1h0M453.5 90.5h0M451.5 84.1h0M449.2 84.9h0M450.1 85.6h0M450.9 93.0h0M451.6 84.0h0M453.6 83.9h0M450.3 91.0h0M452.2 82.2h0M450.6 75.2h0M449.5 81.6h0M449.2 89.2h0M450.6 77.9h0M451.3 83.1h0M452.0 89.0h0M451.4 98.1h0M450.4 92.7h0M450.7 82.2h0M453.2 79.6h0M449.5 85.7h0M452.6 83.3h0M453.6 92.6h0M449.0 86.6h0M450.4 80.9h0M452.6 90.1h0M453.5 89.1h0M453.4 82.9h0M454.4 88.8h0M458.1 108.5h0M459.8 82.8h0M461.3 118.0h0M457.4 108.5h0M457.2 99.5h0M461.2 109.7h0M461.1 99.9h0M458.3 96.9h0M457.8 100.6h0M456.4 101.6h0M456.7 110.4h0M460.9 111.4h0M457.0 102.5h0M461.0 106.3h0M461.3 100.5h0M457.4 115.7h0M461.8 100.5h0M461.3 96.0h0M461.1 88.3h0M460.6 121.7h0M457.6 91.8h0M460.3 91.2h0M460.3 107.5h0M460.8 116.9h0M459.6 112.6h0M458.5 111.2h0M461.0 112.1h0M457.0 85.3h0M460.8 99.4h0M460.6 83.0h0M456.5 97.2h0M459.4 101.9h0M461.5 107.5h0M458.6 104.3h0M458.8 119.4h0M456.6 90.0h0M459.9 133.4h0M457.6 105.4h0M458.2 100.3h0M460.3 104.3h0M461.7 98.2h0M460.7 125.0h0M456.9 86.1h0M459.5 108.3h0M459.6 115.0h0M457.6 115.8h0M460.7 98.0h0M458.9 110.7h0M458.3 123.0h0M457.6 90.4h0M458.5 105.8h0M461.1 103.5h0M457.7 75.7h0M459.4 120.1h0M458.8 127.8h0M459.1 83.4h0M457.7 92.0h0M459.0 90.5h0M457.9 96.0h0M456.8 98.2h0M460.9 93.0h0M460.5 104.4h0M458.0 107.4h0M461.2 109.5h0M457.0 91.1h0M456.6 96.5h0M460.1 103.5h0M460.0 105.5h0M456.5 103.1h0M458.7 109.2h0M458.4 97.0h0M459.8 97.2h0M456.4 107.0h0M460.4 105.2h0M456.1 104.2h0M461.3 109.2h0M461.3 105.9h0M460.1 124.6h0M458.3 106.4h0M457.7 117.9h0" stroke="#ff0a0a" stroke-width="1.6" stroke-linecap="round" stroke-opacity="0.9" fill="none"/>
<path d="M44.4 88.7h0M44.6 93.4h0M45.5 86.2h0M42.5 93.6h0M46.4 95.1h0M44.8 86.7h0M45.6 91.7h0M44.6 91.3h0M45.7 84.0h0M47.1 92.5h0M45.8 97.4h0M44.7 89.6h0M45.6 87.2h0M45.5 81.4h0M43.7 94.7h0M44.6 87.0h0M47.4 93.1h0M44.5 88.3h0M47.0 86.7h0M57.5 102.3h0M59.7 92.3h0M57.5 99.2h0M59.0 95.6h0M60.9 102.9h0M58.1 85.5h0M61.6 91.2h0M56.6 96.3h0M61.2 88.2h0M59.3 114.7h0M59.3 97.8h0M59.8 94.4h0M60.9 105.8h0M61.5 94.7h0M57.5 96.6h0M58.5 93.3h0M60.2 99.7h0M59.1 92.3h0M60.5 81.8h0M60.4 97.2h0M60.6 102.5h0M59.1 112.7h0M61.9 95.8h0M58.0 101.8h0M60.6 85.6h0M58.4 111.6h0M57.2 93.3h0M58.8 95.7h0M60.1 80.3h0M57.5 89.8h0M57.9 106.0h0M61.9 94.9h0M60.0 99.7h0M61.4 83.2h0M57.9 94.2h0M59.8 86.4h0M57.8 101.4h0M59.4 78.5h0M56.4 93.1h0M60.4 96.7h0M60.5 95.1h0M56.8 100.0h0M59.4 102.1h0M58.8 99.6h0M56.9 93.3h0M57.0 96.3h0M60.9 91.3h0M58.4 87.3h0M59.6 100.8h0M58.8 107.4h0M58.1 104.1h0M59.8 94.7h0M60.4 90.0h0M57.0 95.1h0M59.6 87.6h0M57.3 100.9h0M58.1 103.9h0M60.3 84.3h0M60.3 102.6h0M60.3 90.5h0M61.0 105.1h0M58.0 88.9h0M58.1 105.0h0M61.7 99.7h0M58.5 81.7h0M59.9 93.0h0M56.9 88.2h0M60.9 104.8h0M58.2 109.3h0M58.5 92.7h0M57.8 79.2h0M58.7 88.5h0M57.7 93.3h0M59.2 106.0h0M59.0 94.5h0M61.4 85.5h0M60.0 100.8h0M56.8 99.2h0M59.1 97.2h0M58.1 91.1h0M58.9 93.6h0M61.7 87.9h0M58.1 97.9h0M56.9 96.1h0M59.4 96.5h0M60.8 96.0h0M58.4 98.0h0M57.1 95.4h0M59.9 115.9h0M61.5 101.3h0M58.1 88.1h0M57.2 90.6h0M61.0 80.2h0M57.9 99.1h0M59.1 86.5h0M58.5 103.3h0M60.2 106.7h0M61.1 96.8h0M59.6 101.6h0M61.5 95.3h0M58.5 82.1h0M58.5 96.3h0M58.5 87.5h0M61.5 98.1h0M60.0 97.3h0M61.7 93.7h0M61.8 87.2h0M103.1 97.3h0M104.4 95.7h0M104.8 97.3h0M118.1 92.8h0M118.8 105.5h0M115.5 108.8h0M115.8 85.3h0M113.9 96.4h0M116.3 90.0h0M114.4 100.9h0M115.9 86.7h0M115.4 85.9h0M130.4 79.2h0M130.9 87.9h0M128.2 94.5h0M132.6 93.0h0M131.3 83.4h0M132.4 88.1h0M133.0 95.5h0M129.4 89.7h0M129.3 81.5h0M131.6 89.4h0M130.2 86.8h0M130.3 93.4h0M127.9 92.2h0M128.9 89.3h0M128.0 87.9h0M131.2 92.7h0M132.1 98.3h0M129.3 91.0h0M129.7 84.2h0M130.7 94.6h0M130.7 83.5h0M130.0 97.3h0M131.0 91.3h0M129.1 95.5h0M129.3 100.4h0M130.9 95.0h0M129.9 83.7h0M129.9 77.2h0M130.2 84.2h0M131.6 86.0h0M129.8 93.2h0M132.9 89.3h0M131.4 91.3h0M131.7 88.5h0M131.9 92.2h0M132.8 94.3h0M129.7 98.8h0M130.6 94.3h0M131.9 94.2h0M132.8 91.4h0M129.5 77.2h0M153.1 88.1h0M152.7 94.1h0M153.7 93.7h0M149.9 98.2h0M150.7 95.9h0M151.3 99.4h0M149.8 90.0h0M150.3 103.7h0M154.2 90.5h0M151.7 86.9h0M153.0 93.8h0M165.5 62.4h0M166.4 61.7h0M164.0 63.5h0M165.3 62.9h0M165.0 62.6h0M183.3 100.3h0M179.1 95.8h0M178.8 102.6h0M178.4 96.7h0M182.5 91.7h0M182.4 106.9h0M180.3 91.8h0M182.3 89.9h0M182.7 95.3h0M183.0 100.5h0M180.0 88.5h0M179.5 97.5h0M182.4 100.0h0M178.7 97.1h0M178.8 99.8h0M179.9 106.6h0M178.7 101.7h0M183.2 100.5h0M178.8 89.5h0M181.8 108.8h0M182.0 99.0h0M180.1 100.6h0M179.6 93.4h0M179.2 98.2h0M181.8 102.1h0M182.8 103.2h0M179.0 95.0h0M183.2 94.1h0M178.3 100.3h0M178.4 93.7h0M178.7 99.9h0M181.9 93.2h0M179.9 95.6h0M178.3 94.4h0M182.7 93.3h0M180.6 109.5h0M180.9 94.0h0M180.3 103.0h0M182.0 106.8h0M178.2 96.6h0M181.5 87.3h0M182.2 97.3h0M179.8 103.6h0M182.9 99.5h0M208.5 85.3h0M208.0 76.5h0M210.6 70.0h0M210.2 81.6h0M208.0 71.3h0M207.0 86.7h0M208.7 84.5h0M209.7 78.1h0M208.8 84.3h0M210.0 66.6h0M206.7 72.5h0M207.7 86.9h0M210.3 75.9h0M208.4 81.5h0M210.0 72.5h0M211.5 71.8h0M208.4 70.8h0M209.4 81.8h0M211.2 82.7h0M210.0 68.3h0M207.9 79.2h0M211.5 83.5h0M208.0 71.0h0M207.6 86.3h0M210.4 75.0h0M222.7 94.3h0M223.1 63.5h0M224.2 87.4h0M222.6 64.4h0M226.2 78.5h0M221.9 70.4h0M225.8 82.9h0M221.3 75.4h0M224.2 79.8h0M225.2 91.7h0M225.4 71.4h0M223.4 64.8h0M221.9 84.3h0M223.7 76.8h0M223.0 71.9h0M224.9 78.3h0M223.3 83.4h0M222.2 82.1h0M225.4 79.3h0M225.2 86.1h0M223.6 88.7h0M222.7 81.5h0M222.8 81.7h0M221.5 74.2h0M224.4 93.2h0M222.1 92.9h0M222.4 83.2h0M223.6 92.3h0M224.3 92.5h0M222.1 69.8h0M224.5 87.1h0M223.6 63.9h0M224.0 80.1h0M223.0 73.1h0M221.8 85.4h0M221.8 79.3h0M225.2 68.0h0M224.9 61.2h0M221.7 72.3h0M224.2 71.7h0M221.7 80.0h0M223.6 74.2h0M223.1 85.3h0M223.9 88.3h0M224.5 94.2h0M225.0 80.3h0M223.5 90.2h0M223.4 67.3h0M225.2 70.3h0M221.2 81.6h0M222.6 84.1h0M225.7 68.6h0M221.3 83.5h0M224.5 84.6h0M225.7 67.5h0M223.3 63.6h0M223.2 67.5h0M223.8 82.3h0M225.0 75.5h0M223.3 87.5h0M222.6 79.3h0M224.6 77.7h0M221.1 77.2h0M223.1 92.3h0M225.6 80.3h0M225.1 71.8h0M224.1 67.0h0M222.9 79.3h0M223.9 85.5h0M224.8 68.5h0M223.1 89.9h0M224.4 81.7h0M238.7 75.9h0M236.1 83.2h0M238.8 91.2h0M236.5 94.0h0M235.5 73.2h0M235.7 87.2h0M236.4 84.6h0M237.9 83.8h0M235.9 91.1h0M236.1 82.2h0M240.0 86.7h0M240.1 78.8h0M237.8 77.6h0M237.8 79.5h0M239.4 93.6h0M237.0 93.5h0M238.9 71.9h0M236.7 82.1h0M237.8 84.1h0M235.8 76.9h0M238.6 85.4h0M237.5 93.0h0M238.4 73.0h0M236.1 83.8h0M239.7 73.4h0M236.8 72.5h0M235.4 89.3h0M237.0 94.7h0M239.1 84.1h0M238.6 74.5h0M236.3 93.7h0M238.5 77.1h0M268.6 96.4h0M265.4 87.7h0M267.1 106.3h0M264.7 85.9h0M267.6 83.7h0M267.2 106.2h0M264.5 112.1h0M265.3 86.7h0M263.9 104.5h0M263.7 100.5h0M263.8 89.5h0M268.2 95.0h0M268.2 103.7h0M264.8 80.7h0M267.6 94.1h0M265.3 107.4h0M266.4 90.7h0M266.4 108.5h0M266.0 103.4h0M265.7 108.4h0M268.2 108.3h0M265.4 94.1h0M264.3 102.4h0M264.9 81.5h0M267.2 96.2h0M264.7 103.8h0M265.5 87.9h0M265.1 102.0h0M265.0 77.3h0M268.7 98.0h0M264.5 89.0h0M268.3 94.8h0M268.8 102.9h0M266.4 97.8h0M264.7 96.4h0M265.5 99.3h0M265.4 109.1h0M264.1 94.0h0M268.3 96.0h0M265.4 99.2h0M265.7 90.5h0M265.2 99.3h0M267.3 81.5h0M266.1 100.7h0M266.9 112.0h0M267.7 108.0h0M267.1 95.2h0M265.4 95.6h0M263.6 102.2h0M266.3 80.0h0M280.6 86.5h0M277.9 99.5h0M280.7 104.6h0M282.7 101.9h0M282.4 88.5h0M280.7 94.9h0M278.9 100.0h0M281.1 99.4h0M282.6 94.2h0M280.5 100.5h0M282.1 86.2h0M281.9 98.3h0M281.0 97.7h0M280.7 99.4h0M282.2 89.9h0M278.6 105.4h0M281.8 97.1h0M280.5 87.0h0M280.8 95.4h0M280.6 98.8h0M281.3 106.2h0M281.4 95.4h0M280.4 92.9h0M281.7 103.0h0M281.7 92.1h0M280.7 105.3h0M279.4 102.7h0M282.1 89.0h0M278.7 104.4h0M280.2 107.1h0M278.7 87.9h0M277.8 96.9h0M282.0 94.8h0M279.4 83.9h0M279.9 100.5h0M281.4 87.8h0M281.3 103.0h0M282.7 93.7h0M281.2 95.0h0M277.9 96.7h0M280.7 94.2h0M278.4 96.0h0M280.4 107.0h0M282.4 104.3h0M280.6 90.2h0M281.3 100.4h0M280.2 92.1h0M281.4 94.7h0M282.6 92.8h0M280.6 92.0h0M281.0 101.1h0M282.4 99.3h0M279.7 84.9h0M280.6 95.2h0M282.6 98.3h0M281.8 97.6h0M279.5 101.1h0M279.2 86.4h0M279.3 91.7h0M294.0 101.0h0M295.0 98.3h0M294.7 98.6h0M294.9 88.3h0M292.5 98.8h0M294.5 92.2h0M295.2 98.0h0M295.3 100.5h0M293.5 96.4h0M294.0 91.3h0M296.6 98.1h0M296.9 94.5h0M293.3 98.4h0M295.1 100.8h0M297.0 101.3h0M296.9 102.5h0M296.6 102.3h0M296.7 97.4h0M292.8 101.2h0M296.6 98.3h0M292.0 97.9h0M294.0 93.8h0M294.3 92.5h0M296.5 101.6h0M295.6 96.8h0M293.2 88.8h0M295.8 88.8h0M294.7 99.6h0M294.8 105.1h0M295.1 105.0h0M293.5 102.1h0M295.1 88.5h0M292.6 96.5h0M293.1 94.8h0M294.4 89.6h0M295.4 88.7h0M297.1 97.9h0M294.1 99.3h0M295.1 95.3h0M294.0 100.7h0M296.7 90.4h0M297.6 95.7h0M293.1 93.5h0M293.8 97.1h0M295.5 102.2h0M296.4 100.2h0M297.3 94.1h0M296.7 93.7h0M296.4 91.2h0M292.4 92.2h0M294.7 100.5h0M324.6 89.6h0M322.2 91.1h0M325.8 91.7h0M323.2 86.0h0M338.2 88.8h0M339.4 88.6h0M338.0 92.1h0M352.2 98.1h0M351.7 95.2h0M350.9 103.6h0M352.4 96.2h0M352.1 90.8h0M350.6 90.0h0M352.0 92.3h0M352.6 89.0h0M354.3 90.9h0M350.9 96.0h0M353.1 96.5h0M352.5 84.6h0M349.6 94.7h0M349.7 97.1h0M353.7 91.0h0M350.7 91.8h0M350.5 95.5h0M352.9 96.1h0M349.2 91.7h0M351.7 103.0h0M354.5 93.9h0M351.9 92.7h0M353.8 98.8h0M351.3 86.8h0M350.3 101.0h0M353.5 87.4h0M351.9 92.1h0M349.7 87.1h0M350.1 86.1h0M351.9 85.5h0M353.2 91.5h0M349.8 98.1h0M354.7 91.9h0M352.1 91.0h0M351.4 93.7h0M350.3 86.5h0M354.4 94.9h0M354.6 90.7h0M353.5 90.2h0M354.4 90.6h0M352.7 101.2h0M349.6 96.2h0M351.6 93.7h0M353.0 93.5h0M351.5 87.9h0M352.3 99.5h0M350.7 103.1h0M351.1 92.7h0M351.5 99.5h0M350.5 100.1h0M349.8 89.2h0M350.0 89.7h0M365.8 89.9h0M366.2 88.2h0M366.4 86.4h0M366.3 88.2h0M367.8 88.5h0M363.8 89.0h0M366.9 88.6h0M366.9 87.2h0M368.5 87.9h0M368.8 89.3h0M400.5 102.8h0M399.9 90.9h0M401.2 101.8h0M402.0 92.7h0M403.7 94.2h0M399.9 106.3h0M400.1 103.7h0M403.1 84.4h0M403.8 100.8h0M400.7 97.1h0M402.7 93.8h0M400.5 104.4h0M399.7 96.7h0M401.2 99.7h0M401.0 96.1h0M401.2 100.3h0M399.9 99.9h0M399.5 97.7h0M399.4 96.2h0M399.4 101.5h0M401.1 107.9h0M402.0 101.6h0M399.2 93.9h0M401.9 84.2h0M399.3 92.3h0M402.4 107.0h0M400.2 91.7h0M402.0 95.5h0M401.1 90.0h0M400.2 98.7h0M403.3 100.7h0M402.5 84.1h0M402.4 106.8h0M400.7 107.1h0M401.9 97.3h0M421.2 85.2h0M420.6 86.1h0M422.1 97.8h0M422.2 87.7h0M421.4 83.5h0M424.7 84.5h0M423.6 84.2h0M422.1 88.5h0M425.2 93.7h0M422.4 92.6h0M421.2 87.3h0M423.1 93.0h0M421.3 88.3h0M421.3 84.0h0M425.3 93.0h0M423.4 87.9h0M424.6 83.4h0M421.6 90.2h0M424.1 93.7h0M422.6 85.0h0M422.8 89.9h0M424.0 85.0h0M423.2 94.1h0M425.4 86.1h0M422.0 97.9h0M422.8 88.8h0M424.0 95.6h0M423.0 87.4h0M421.5 85.2h0M421.6 89.6h0M424.6 87.4h0M425.4 88.7h0M421.5 89.6h0M420.6 89.3h0M424.1 83.4h0M423.5 93.5h0M422.4 89.3h0M423.4 96.2h0M420.9 86.5h0M423.3 85.0h0M424.2 82.6h0M424.6 90.4h0M423.7 83.3h0M423.1 80.0h0M421.7 94.1h0M423.4 85.0h0M422.0 79.1h0M421.8 86.3h0M423.6 94.4h0M423.2 95.8h0M422.9 92.8h0M422.5 79.8h0M424.7 92.2h0M425.4 84.2h0M422.7 96.8h0M425.3 94.4h0M423.6 85.6h0M421.7 84.0h0M424.4 79.5h0M446.0 87.0h0M446.1 83.4h0M444.9 99.4h0M446.0 84.0h0M447.2 87.6h0M444.8 103.6h0M442.1 90.1h0M445.5 94.3h0M444.4 91.7h0M443.7 91.8h0M445.3 87.8h0M444.6 93.0h0M444.5 98.4h0M442.4 96.9h0M443.3 97.3h0M442.4 94.3h0M444.4 106.7h0M443.8 89.8h0M446.7 86.8h0M446.6 88.9h0M446.8 98.8h0M444.1 84.8h0M444.2 93.3h0M447.0 85.9h0M447.1 95.7h0M443.3 110.4h0M445.6 92.1h0M446.5 80.1h0M444.4 104.1h0M447.2 100.8h0M442.3 88.4h0M446.7 103.9h0M443.5 108.0h0M443.4 98.4h0M445.7 77.7h0" stroke="#2448b0" stroke-width="1.6" stroke-linecap="round" stroke-opacity="0.9" fill="none"/>
<path d="M390.0 77.7h0M385.4 84.7h0M388.5 94.5h0M386.7 67.2h0M388.0 71.9h0M384.8 86.6h0M389.8 95.2h0M388.3 99.5h0M387.6 74.2h0M387.8 76.2h0M387.6 74.4h0M388.3 103.7h0M386.7 69.1h0M385.0 82.1h0M386.8 85.3h0M386.1 89.5h0M387.9 70.3h0M388.3 94.4h0M385.5 83.0h0M390.0 76.8h0M385.9 92.7h0M389.3 89.5h0M385.0 83.3h0M387.6 108.7h0M387.6 84.0h0M389.7 73.4h0M388.8 77.5h0M389.4 92.3h0M390.0 83.2h0M388.3 79.8h0M390.0 97.2h0M389.5 82.1h0M387.1 103.6h0M388.4 92.7h0M386.9 90.5h0M386.6 74.9h0M387.2 92.1h0M389.8 78.4h0M387.1 82.6h0M386.7 114.0h0M387.4 89.0h0M387.3 94.5h0M385.6 84.2h0M388.2 96.2h0M385.9 83.8h0M390.2 89.1h0M387.0 67.4h0M385.5 98.1h0M387.6 96.0h0M385.4 83.0h0M386.3 70.7h0M389.0 106.1h0M387.7 108.6h0M387.4 79.6h0M388.0 103.9h0M387.4 87.6h0M389.6 88.0h0M387.1 77.0h0M387.9 84.2h0M385.1 87.1h0M386.2 74.5h0M385.0 81.3h0M387.1 74.1h0M390.1 90.9h0M386.5 88.7h0M388.3 104.0h0M389.3 78.2h0M385.5 89.0h0M386.9 88.1h0M387.5 94.7h0M387.3 81.6h0M387.9 112.7h0M387.8 78.8h0M389.6 78.3h0M387.2 82.8h0M387.2 70.7h0M387.3 82.4h0M390.1 90.7h0M388.5 89.8h0M386.7 93.4h0M388.5 107.0h0M386.0 83.6h0M385.9 84.1h0M387.1 99.8h0M388.4 101.4h0M389.7 76.9h0M389.9 97.6h0M388.0 88.2h0M387.7 104.1h0M385.9 83.3h0M389.0 94.1h0M388.5 81.4h0M388.4 95.1h0M386.8 87.7h0M387.4 83.8h0M389.1 84.2h0M387.3 82.1h0M389.0 97.0h0M386.6 90.6h0M385.4 91.9h0M386.7 92.2h0M386.4 90.3h0M385.1 94.1h0M388.8 111.8h0M389.2 71.2h0M389.0 101.0h0M389.0 108.4h0M386.9 79.1h0M389.2 91.7h0M386.2 101.7h0M389.3 89.8h0M389.9 96.9h0M388.5 97.7h0M387.9 81.1h0M389.4 86.7h0M388.7 79.3h0M388.1 111.6h0M389.1 86.6h0M387.6 72.8h0M385.6 88.1h0M387.4 79.7h0M386.9 70.7h0M385.5 97.2h0M388.9 86.8h0M390.3 84.9h0M388.1 96.1h0M385.3 84.0h0M385.5 88.3h0M388.0 84.0h0M386.2 77.4h0M389.3 72.8h0M388.4 75.3h0M388.1 99.7h0M389.0 70.3h0M390.1 89.5h0M385.7 99.2h0M387.3 93.9h0M390.0 79.5h0M388.1 89.5h0M386.2 96.6h0M387.4 71.0h0M386.0 73.1h0M387.5 71.9h0M385.7 90.8h0M387.6 82.1h0M385.0 83.5h0M390.3 86.1h0M385.7 79.5h0M386.7 97.2h0M386.3 81.1h0M389.6 79.8h0M388.5 93.7h0M386.4 66.3h0M389.2 103.6h0M389.1 79.4h0M385.7 75.3h0M385.2 95.7h0M386.1 65.8h0M389.0 85.4h0M388.4 80.7h0M389.8 91.3h0M389.1 65.5h0M389.2 81.8h0M387.0 85.2h0M386.9 101.7h0M389.6 93.3h0M388.6 113.3h0M386.8 88.9h0M385.9 100.3h0M386.8 97.0h0M385.7 89.0h0M386.4 77.4h0M386.5 98.9h0M388.7 83.6h0M387.6 79.9h0M389.8 86.2h0M390.1 82.1h0M389.4 91.0h0M388.2 90.4h0M388.4 85.6h0M385.1 89.0h0M385.4 86.6h0M385.3 80.8h0M387.3 80.9h0M387.2 73.7h0M389.1 96.6h0M390.0 77.9h0M387.5 96.0h0M385.3 88.6h0M385.8 98.1h0M388.2 89.4h0M389.0 81.5h0M386.3 93.9h0M386.1 77.4h0M389.6 81.9h0M388.7 66.6h0M386.3 99.1h0M389.6 92.3h0M387.7 90.3h0M386.3 84.6h0M387.5 91.2h0M388.0 98.3h0M388.1 75.7h0M387.1 89.9h0M386.7 82.7h0M389.8 87.6h0M384.8 84.4h0M387.1 81.3h0M387.9 106.4h0M388.1 94.3h0M387.8 100.7h0M385.0 83.1h0M388.6 104.0h0M389.1 99.1h0M387.9 96.2h0M389.1 91.1h0M390.3 87.0h0M386.4 102.7h0M384.9 86.5h0M386.9 86.5h0M387.9 94.4h0M388.0 87.7h0M389.3 94.8h0M385.8 67.7h0M387.0 84.8h0M386.1 91.5h0M388.3 95.0h0M387.5 93.4h0M388.7 78.0h0M386.0 83.2h0M387.8 104.6h0M385.2 93.5h0M388.0 82.9h0M387.9 87.7h0M387.8 65.0h0M386.1 84.5h0M389.3 87.5h0M389.1 94.7h0M386.4 85.9h0M387.2 101.4h0M388.5 97.0h0M388.3 90.5h0M386.6 78.1h0M386.6 86.7h0M388.5 90.6h0M385.1 77.4h0M385.2 81.1h0M388.9 79.2h0M390.1 90.7h0M388.5 90.7h0M390.0 93.2h0M389.3 84.1h0M389.3 83.5h0M389.2 78.8h0M385.3 79.6h0M389.9 88.9h0M388.2 79.4h0M387.4 78.7h0M389.3 105.6h0M385.2 84.5h0M387.3 101.1h0M386.7 74.1h0M388.1 91.8h0M384.9 91.2h0M386.2 106.9h0M385.8 80.4h0M386.6 72.2h0M387.2 105.3h0M386.9 72.3h0M387.1 103.3h0M388.7 73.4h0M387.3 104.3h0M389.9 92.3h0M389.6 100.1h0M385.8 99.9h0M387.2 91.0h0M386.6 99.0h0M387.2 100.4h0M388.2 103.8h0M389.6 90.1h0M389.8 92.2h0M385.5 88.1h0M388.9 84.5h0M385.4 90.1h0M389.3 87.0h0M385.7 85.9h0M386.6 77.6h0M389.0 94.7h0M387.0 89.0h0M385.0 85.9h0M389.3 73.7h0M384.8 83.5h0M386.0 85.3h0M386.6 83.3h0M387.8 78.1h0M385.8 79.9h0M385.9 100.7h0M386.1 76.3h0M386.1 76.8h0M386.0 86.7h0M387.3 83.3h0M388.2 100.0h0M387.1 100.8h0M389.7 99.5h0M388.5 84.7h0M385.6 90.7h0M386.4 77.0h0M388.6 85.6h0M388.8 103.1h0M387.0 83.0h0M388.9 73.7h0M385.8 88.1h0M389.0 71.8h0M388.1 106.7h0M386.1 75.9h0M387.4 90.1h0M385.6 79.1h0M388.3 85.8h0M389.9 93.1h0M388.4 85.2h0M385.1 90.2h0M386.0 72.6h0M385.5 100.6h0M387.2 69.4h0" stroke="#8248b8" stroke-width="1.6" stroke-linecap="round" stroke-opacity="0.9" fill="none"/>
<path d="M28.12 74.5H33.32V85.5H28.12ZM28.12 80.0H33.32" stroke="rgba(255,255,255,0.55)" stroke-width="0.7" fill="rgba(255,255,255,0.12)"/>
<path d="M35.26 76H40.46V91H35.26ZM35.26 83.5H40.46" stroke="rgba(255,255,255,0.55)" stroke-width="0.7" fill="rgba(255,255,255,0.12)"/>
<path d="M49.53 76H54.73V91H49.53ZM49.53 83.5H54.73" stroke="rgba(255,255,255,0.55)" stroke-width="0.7" fill="rgba(255,255,255,0.12)"/>
<path d="M56.67 87H61.87V100H56.67ZM56.67 93.5H61.87" stroke="rgba(255,255,255,0.55)" stroke-width="0.7" fill="rgba(255,255,255,0.12)"/>
<path d="M63.81 71H69.01V82H63.81ZM63.81 76.5H69.01" stroke="rgba(255,255,255,0.55)" stroke-width="0.7" fill="rgba(255,255,255,0.12)"/>
<path d="M70.94 79H76.14V92H70.94ZM70.94 85.5H76.14" stroke="rgba(255,255,255,0.55)" stroke-width="0.7" fill="rgba(255,255,255,0.12)"/>
<path d="M78.08 74.5H83.28V87H78.08ZM78.08 80.75H83.28" stroke="rgba(255,255,255,0.55)" stroke-width="0.7" fill="rgba(255,255,255,0.12)"/>
<path d="M85.22 72.7H90.42V87.3H85.22ZM85.22 80.0H90.42" stroke="rgba(255,255,255,0.55)" stroke-width="0.7" fill="rgba(255,255,255,0.12)"/>
<path d="M92.36 70H97.56V85H92.36ZM92.36 77.5H97.56" stroke="rgba(255,255,255,0.55)" stroke-width="0.7" fill="rgba(255,255,255,0.12)"/>
<path d="M120.91 72.7H126.11V85.5H120.91ZM120.91 79.1H126.11" stroke="rgba(255,255,255,0.55)" stroke-width="0.7" fill="rgba(255,255,255,0.12)"/>
<path d="M142.32 65.5H147.52V82H142.32ZM142.32 73.75H147.52" stroke="rgba(255,255,255,0.55)" stroke-width="0.7" fill="rgba(255,255,255,0.12)"/>
<path d="M156.59 83.6H161.79V98H156.59ZM156.59 90.8H161.79" stroke="rgba(255,255,255,0.55)" stroke-width="0.7" fill="rgba(255,255,255,0.12)"/>
<path d="M170.87 69H176.07V83.6H170.87ZM170.87 76.3H176.07" stroke="rgba(255,255,255,0.55)" stroke-width="0.7" fill="rgba(255,255,255,0.12)"/>
<path d="M185.14 72.7H190.34V85.5H185.14ZM185.14 79.1H190.34" stroke="rgba(255,255,255,0.55)" stroke-width="0.7" fill="rgba(255,255,255,0.12)"/>
<path d="M192.28 76.4H197.48V87.3H192.28ZM192.28 81.85H197.48" stroke="rgba(255,255,255,0.55)" stroke-width="0.7" fill="rgba(255,255,255,0.12)"/>
<path d="M199.42 63.6H204.62V76.4H199.42ZM199.42 70.0H204.62" stroke="rgba(255,255,255,0.55)" stroke-width="0.7" fill="rgba(255,255,255,0.12)"/>
<path d="M213.69 80H218.89V94.5H213.69ZM213.69 87.25H218.89" stroke="rgba(255,255,255,0.55)" stroke-width="0.7" fill="rgba(255,255,255,0.12)"/>
<path d="M220.83 71H226.03V85.5H220.83ZM220.83 78.25H226.03" stroke="rgba(255,255,255,0.55)" stroke-width="0.7" fill="rgba(255,255,255,0.12)"/>
<path d="M227.97 81.8H233.17V98.2H227.97ZM227.97 90.0H233.17" stroke="rgba(255,255,255,0.55)" stroke-width="0.7" fill="rgba(255,255,255,0.12)"/>
<path d="M242.24 72.7H247.44V83.6H242.24ZM242.24 78.15H247.44" stroke="rgba(255,255,255,0.55)" stroke-width="0.7" fill="rgba(255,255,255,0.12)"/>
<path d="M249.38 85.5H254.58V109H249.38ZM249.38 97.25H254.58" stroke="rgba(255,255,255,0.55)" stroke-width="0.7" fill="rgba(255,255,255,0.12)"/>
<path d="M256.52 85.5H261.72V100H256.52ZM256.52 92.75H261.72" stroke="rgba(255,255,255,0.55)" stroke-width="0.7" fill="rgba(255,255,255,0.12)"/>
<path d="M270.79 76.4H275.99V91H270.79ZM270.79 83.7H275.99" stroke="rgba(255,255,255,0.55)" stroke-width="0.7" fill="rgba(255,255,255,0.12)"/>
<path d="M285.07 65.5H290.27V81.8H285.07ZM285.07 73.65H290.27" stroke="rgba(255,255,255,0.55)" stroke-width="0.7" fill="rgba(255,255,255,0.12)"/>
<path d="M299.34 83.6H304.54V98H299.34ZM299.34 90.8H304.54" stroke="rgba(255,255,255,0.55)" stroke-width="0.7" fill="rgba(255,255,255,0.12)"/>
<path d="M306.48 78.2H311.68V94.5H306.48ZM306.48 86.35H311.68" stroke="rgba(255,255,255,0.55)" stroke-width="0.7" fill="rgba(255,255,255,0.12)"/>
<path d="M313.62 80H318.82V92.7H313.62ZM313.62 86.35H318.82" stroke="rgba(255,255,255,0.55)" stroke-width="0.7" fill="rgba(255,255,255,0.12)"/>
<path d="M327.89 67.3H333.09V80H327.89ZM327.89 73.65H333.09" stroke="rgba(255,255,255,0.55)" stroke-width="0.7" fill="rgba(255,255,255,0.12)"/>
<path d="M342.17 83.6H347.37V98H342.17ZM342.17 90.8H347.37" stroke="rgba(255,255,255,0.55)" stroke-width="0.7" fill="rgba(255,255,255,0.12)"/>
<path d="M356.44 76.4H361.64V91H356.44ZM356.44 83.7H361.64" stroke="rgba(255,255,255,0.55)" stroke-width="0.7" fill="rgba(255,255,255,0.12)"/>
<path d="M370.72 80H375.92V94.5H370.72ZM370.72 87.25H375.92" stroke="rgba(255,255,255,0.55)" stroke-width="0.7" fill="rgba(255,255,255,0.12)"/>
<path d="M377.86 82H383.06V102H377.86ZM377.86 92.0H383.06" stroke="rgba(255,255,255,0.55)" stroke-width="0.7" fill="rgba(255,255,255,0.12)"/>
<path d="M384.99 78.2H390.19V94.5H384.99ZM384.99 86.35H390.19" stroke="rgba(255,255,255,0.55)" stroke-width="0.7" fill="rgba(255,255,255,0.12)"/>
<path d="M392.13 76.4H397.33V91H392.13ZM392.13 83.7H397.33" stroke="rgba(255,255,255,0.55)" stroke-width="0.7" fill="rgba(255,255,255,0.12)"/>
<path d="M406.41 81.8H411.61V109H406.41ZM406.41 95.4H411.61" stroke="rgba(255,255,255,0.55)" stroke-width="0.7" fill="rgba(255,255,255,0.12)"/>
<path d="M413.54 81.8H418.74V92.7H413.54ZM413.54 87.25H418.74" stroke="rgba(255,255,255,0.55)" stroke-width="0.7" fill="rgba(255,255,255,0.12)"/>
<path d="M427.82 80H433.02V92.7H427.82ZM427.82 86.35H433.02" stroke="rgba(255,255,255,0.55)" stroke-width="0.7" fill="rgba(255,255,255,0.12)"/>
<path d="M434.96 76.4H440.16V100H434.96ZM434.96 88.2H440.16" stroke="rgba(255,255,255,0.55)" stroke-width="0.7" fill="rgba(255,255,255,0.12)"/>
<path d="M456.37 93H461.57V115H456.37ZM456.37 104.0H461.57" stroke="rgba(255,255,255,0.55)" stroke-width="0.7" fill="rgba(255,255,255,0.12)"/>
<circle cx="38.52" cy="30.3" r="0.95" fill="#111"/>
<circle cx="41.42" cy="30.3" r="0.95" fill="#111"/>
<circle cx="44.32" cy="30.3" r="0.95" fill="#111"/>
<circle cx="52.80" cy="30.3" r="0.95" fill="#111"/>
<circle cx="55.70" cy="30.3" r="0.95" fill="#111"/>
<circle cx="58.60" cy="30.3" r="0.95" fill="#111"/>
<circle cx="97.08" cy="30.3" r="0.95" fill="#111"/>
<circle cx="99.98" cy="30.3" r="0.95" fill="#111"/>
<circle cx="112.80" cy="30.3" r="0.95" fill="#111"/>
<circle cx="124.17" cy="30.3" r="0.95" fill="#111"/>
<circle cx="127.07" cy="30.3" r="0.95" fill="#111"/>
<circle cx="129.97" cy="30.3" r="0.95" fill="#111"/>
<circle cx="145.59" cy="30.3" r="0.95" fill="#111"/>
<circle cx="148.49" cy="30.3" r="0.95" fill="#111"/>
<circle cx="151.39" cy="30.3" r="0.95" fill="#111"/>
<circle cx="159.86" cy="30.3" r="0.95" fill="#111"/>
<circle cx="162.76" cy="30.3" r="0.95" fill="#111"/>
<circle cx="165.66" cy="30.3" r="0.95" fill="#111"/>
<circle cx="174.14" cy="30.3" r="0.95" fill="#111"/>
<circle cx="177.04" cy="30.3" r="0.95" fill="#111"/>
<circle cx="179.94" cy="30.3" r="0.95" fill="#111"/>
<circle cx="202.69" cy="30.3" r="0.95" fill="#111"/>
<circle cx="205.59" cy="30.3" r="0.95" fill="#111"/>
<circle cx="208.49" cy="30.3" r="0.95" fill="#111"/>
<circle cx="216.96" cy="30.3" r="0.95" fill="#111"/>
<circle cx="219.86" cy="30.3" r="0.95" fill="#111"/>
<circle cx="222.76" cy="30.3" r="0.95" fill="#111"/>
<circle cx="231.24" cy="30.3" r="0.95" fill="#111"/>
<circle cx="234.14" cy="30.3" r="0.95" fill="#111"/>
<circle cx="237.04" cy="30.3" r="0.95" fill="#111"/>
<circle cx="262.69" cy="30.3" r="0.95" fill="#111"/>
<circle cx="274.06" cy="30.3" r="0.95" fill="#111"/>
<circle cx="276.96" cy="30.3" r="0.95" fill="#111"/>
<circle cx="279.86" cy="30.3" r="0.95" fill="#111"/>
<circle cx="288.34" cy="30.3" r="0.95" fill="#111"/>
<circle cx="291.24" cy="30.3" r="0.95" fill="#111"/>
<circle cx="294.14" cy="30.3" r="0.95" fill="#111"/>
<circle cx="332.61" cy="30.3" r="0.95" fill="#111"/>
<circle cx="335.51" cy="30.3" r="0.95" fill="#111"/>
<circle cx="348.34" cy="30.3" r="0.95" fill="#111"/>
<circle cx="359.71" cy="30.3" r="0.95" fill="#111"/>
<circle cx="362.61" cy="30.3" r="0.95" fill="#111"/>
<circle cx="365.51" cy="30.3" r="0.95" fill="#111"/>
<circle cx="381.12" cy="30.3" r="0.95" fill="#111"/>
<circle cx="384.02" cy="30.3" r="0.95" fill="#111"/>
<circle cx="386.92" cy="30.3" r="0.95" fill="#111"/>
<circle cx="395.40" cy="30.3" r="0.95" fill="#111"/>
<circle cx="398.30" cy="30.3" r="0.95" fill="#111"/>
<circle cx="401.20" cy="30.3" r="0.95" fill="#111"/>
<circle cx="438.23" cy="30.3" r="0.95" fill="#111"/>
<circle cx="441.12" cy="30.3" r="0.95" fill="#111"/>
<circle cx="444.02" cy="30.3" r="0.95" fill="#111"/>
<rect x="26.6" y="22.5" width="436.4" height="135.1" fill="none" stroke="#707070" stroke-width="0.9"/>
<path d="M24.8 24.80H26.6" stroke="#555" stroke-width="0.6"/>
<text x="24.0" y="26.80" font-size="5.6" text-anchor="end" font-family="Liberation Sans, sans-serif" fill="#444">10.0</text>
<path d="M24.8 57.80H26.6" stroke="#555" stroke-width="0.6"/>
<text x="24.0" y="59.80" font-size="5.6" text-anchor="end" font-family="Liberation Sans, sans-serif" fill="#444">7.5</text>
<path d="M24.8 90.80H26.6" stroke="#555" stroke-width="0.6"/>
<text x="24.0" y="92.80" font-size="5.6" text-anchor="end" font-family="Liberation Sans, sans-serif" fill="#444">5.0</text>
<path d="M24.8 123.80H26.6" stroke="#555" stroke-width="0.6"/>
<text x="24.0" y="125.80" font-size="5.6" text-anchor="end" font-family="Liberation Sans, sans-serif" fill="#444">2.5</text>
<path d="M24.8 156.80H26.6" stroke="#555" stroke-width="0.6"/>
<text x="24.0" y="158.80" font-size="5.6" text-anchor="end" font-family="Liberation Sans, sans-serif" fill="#444">0.0</text>
<text transform="translate(9.5 91.2) rotate(-90) scale(1 0.88)" font-size="7.25" text-anchor="middle" font-family="Liberation Sans, sans-serif" fill="#1a1a1a" stroke="#1a1a1a" stroke-width="0.08">HPRT1 Expression Level (log2 TPM)</text>
<text transform="translate(32.92 162.0) rotate(-90)" font-size="6.15" text-anchor="end" font-family="Liberation Sans, sans-serif" fill="#ea3a72" stroke="#ea3a72" stroke-width="0.1">ACC Tumor (n=79)</text>
<text transform="translate(40.06 162.0) rotate(-90)" font-size="6.15" text-anchor="end" font-family="Liberation Sans, sans-serif" fill="#ea3a72" stroke="#ea3a72" stroke-width="0.1">BLCA Tumor (n=408)</text>
<text transform="translate(47.19 162.0) rotate(-90)" font-size="6.15" text-anchor="end" font-family="Liberation Sans, sans-serif" fill="#0f9448" stroke="#0f9448" stroke-width="0.1">BLCA Normal (n=19)</text>
<text transform="translate(54.33 162.0) rotate(-90)" font-size="6.15" text-anchor="end" font-family="Liberation Sans, sans-serif" fill="#ea3a72" stroke="#ea3a72" stroke-width="0.1">BRCA Tumor (n=1093)</text>
<text transform="translate(61.47 162.0) rotate(-90)" font-size="6.15" text-anchor="end" font-family="Liberation Sans, sans-serif" fill="#0f9448" stroke="#0f9448" stroke-width="0.1">BRCA Normal (n=112)</text>
<text transform="translate(68.61 162.0) rotate(-90)" font-size="6.15" text-anchor="end" font-family="Liberation Sans, sans-serif" fill="#ea3a72" stroke="#ea3a72" stroke-width="0.1">BRCA-Basal Tumor (n=190)</text>
<text transform="translate(75.74 162.0) rotate(-90)" font-size="6.15" text-anchor="end" font-family="Liberation Sans, sans-serif" fill="#ea3a72" stroke="#ea3a72" stroke-width="0.1">BRCA-Her2 Tumor (n=82)</text>
<text transform="translate(82.88 162.0) rotate(-90)" font-size="6.15" text-anchor="end" font-family="Liberation Sans, sans-serif" fill="#ea3a72" stroke="#ea3a72" stroke-width="0.1">BRCA-LumA Tumor (n=564)</text>
<text transform="translate(90.02 162.0) rotate(-90)" font-size="6.15" text-anchor="end" font-family="Liberation Sans, sans-serif" fill="#ea3a72" stroke="#ea3a72" stroke-width="0.1">BRCA-LumB Tumor (n=217)</text>
<text transform="translate(97.16 162.0) rotate(-90)" font-size="6.15" text-anchor="end" font-family="Liberation Sans, sans-serif" fill="#ea3a72" stroke="#ea3a72" stroke-width="0.1">CESC Tumor (n=304)</text>
<text transform="translate(104.29 162.0) rotate(-90)" font-size="6.15" text-anchor="end" font-family="Liberation Sans, sans-serif" fill="#0f9448" stroke="#0f9448" stroke-width="0.1">CESC Normal (n=3)</text>
<text transform="translate(111.43 162.0) rotate(-90)" font-size="6.15" text-anchor="end" font-family="Liberation Sans, sans-serif" fill="#ea3a72" stroke="#ea3a72" stroke-width="0.1">CHOL Tumor (n=36)</text>
<text transform="translate(118.57 162.0) rotate(-90)" font-size="6.15" text-anchor="end" font-family="Liberation Sans, sans-serif" fill="#0f9448" stroke="#0f9448" stroke-width="0.1">CHOL Normal (n=9)</text>
<text transform="translate(125.71 162.0) rotate(-90)" font-size="6.15" text-anchor="end" font-family="Liberation Sans, sans-serif" fill="#ea3a72" stroke="#ea3a72" stroke-width="0.1">COAD Tumor (n=457)</text>
<text transform="translate(132.84 162.0) rotate(-90)" font-size="6.15" text-anchor="end" font-family="Liberation Sans, sans-serif" fill="#0f9448" stroke="#0f9448" stroke-width="0.1">COAD Normal (n=41)</text>
<text transform="translate(139.98 162.0) rotate(-90)" font-size="6.15" text-anchor="end" font-family="Liberation Sans, sans-serif" fill="#222" stroke="#222" stroke-width="0.1">DLBC Tumor (n=48)</text>
<text transform="translate(147.12 162.0) rotate(-90)" font-size="6.15" text-anchor="end" font-family="Liberation Sans, sans-serif" fill="#ea3a72" stroke="#ea3a72" stroke-width="0.1">ESCA Tumor (n=184)</text>
<text transform="translate(154.26 162.0) rotate(-90)" font-size="6.15" text-anchor="end" font-family="Liberation Sans, sans-serif" fill="#0f9448" stroke="#0f9448" stroke-width="0.1">ESCA Normal (n=11)</text>
<text transform="translate(161.39 162.0) rotate(-90)" font-size="6.15" text-anchor="end" font-family="Liberation Sans, sans-serif" fill="#ea3a72" stroke="#ea3a72" stroke-width="0.1">GBM Tumor (n=153)</text>
<text transform="translate(168.53 162.0) rotate(-90)" font-size="6.15" text-anchor="end" font-family="Liberation Sans, sans-serif" fill="#0f9448" stroke="#0f9448" stroke-width="0.1">GBM Normal (n=5)</text>
<text transform="translate(175.67 162.0) rotate(-90)" font-size="6.15" text-anchor="end" font-family="Liberation Sans, sans-serif" fill="#f0a030" stroke="#f0a030" stroke-width="0.1">HNSC Tumor (n=520)</text>
<text transform="translate(182.81 162.0) rotate(-90)" font-size="6.15" text-anchor="end" font-family="Liberation Sans, sans-serif" fill="#0f9448" stroke="#0f9448" stroke-width="0.1">HNSC Normal (n=44)</text>
<text transform="translate(189.94 162.0) rotate(-90)" font-size="6.15" text-anchor="end" font-family="Liberation Sans, sans-serif" fill="#f0a030" stroke="#f0a030" stroke-width="0.1">HNSC-HPV+ Tumor (n=97)</text>
<text transform="translate(197.08 162.0) rotate(-90)" font-size="6.15" text-anchor="end" font-family="Liberation Sans, sans-serif" fill="#f0a030" stroke="#f0a030" stroke-width="0.1">HNSC-HPV- Tumor (n=421)</text>
<text transform="translate(204.22 162.0) rotate(-90)" font-size="6.15" text-anchor="end" font-family="Liberation Sans, sans-serif" fill="#ea3a72" stroke="#ea3a72" stroke-width="0.1">KICH Tumor (n=66)</text>
<text transform="translate(211.36 162.0) rotate(-90)" font-size="6.15" text-anchor="end" font-family="Liberation Sans, sans-serif" fill="#0f9448" stroke="#0f9448" stroke-width="0.1">KICH Normal (n=25)</text>
<text transform="translate(218.49 162.0) rotate(-90)" font-size="6.15" text-anchor="end" font-family="Liberation Sans, sans-serif" fill="#ea3a72" stroke="#ea3a72" stroke-width="0.1">KIRC Tumor (n=533)</text>
<text transform="translate(225.63 162.0) rotate(-90)" font-size="6.15" text-anchor="end" font-family="Liberation Sans, sans-serif" fill="#0f9448" stroke="#0f9448" stroke-width="0.1">KIRC Normal (n=72)</text>
<text transform="translate(232.77 162.0) rotate(-90)" font-size="6.15" text-anchor="end" font-family="Liberation Sans, sans-serif" fill="#ea3a72" stroke="#ea3a72" stroke-width="0.1">KIRP Tumor (n=290)</text>
<text transform="translate(239.91 162.0) rotate(-90)" font-size="6.15" text-anchor="end" font-family="Liberation Sans, sans-serif" fill="#0f9448" stroke="#0f9448" stroke-width="0.1">KIRP Normal (n=32)</text>
<text transform="translate(247.04 162.0) rotate(-90)" font-size="6.15" text-anchor="end" font-family="Liberation Sans, sans-serif" fill="#222" stroke="#222" stroke-width="0.1">LAML Tumor (n=173)</text>
<text transform="translate(254.18 162.0) rotate(-90)" font-size="6.15" text-anchor="end" font-family="Liberation Sans, sans-serif" fill="#222" stroke="#222" stroke-width="0.1">LGG Tumor (n=516)</text>
<text transform="translate(261.32 162.0) rotate(-90)" font-size="6.15" text-anchor="end" font-family="Liberation Sans, sans-serif" fill="#ea3a72" stroke="#ea3a72" stroke-width="0.1">LIHC Tumor (n=371)</text>
<text transform="translate(268.46 162.0) rotate(-90)" font-size="6.15" text-anchor="end" font-family="Liberation Sans, sans-serif" fill="#0f9448" stroke="#0f9448" stroke-width="0.1">LIHC Normal (n=50)</text>
<text transform="translate(275.59 162.0) rotate(-90)" font-size="6.15" text-anchor="end" font-family="Liberation Sans, sans-serif" fill="#ea3a72" stroke="#ea3a72" stroke-width="0.1">LUAD Tumor (n=515)</text>
<text transform="translate(282.73 162.0) rotate(-90)" font-size="6.15" text-anchor="end" font-family="Liberation Sans, sans-serif" fill="#0f9448" stroke="#0f9448" stroke-width="0.1">LUAD Normal (n=59)</text>
<text transform="translate(289.87 162.0) rotate(-90)" font-size="6.15" text-anchor="end" font-family="Liberation Sans, sans-serif" fill="#ea3a72" stroke="#ea3a72" stroke-width="0.1">LUSC Tumor (n=501)</text>
<text transform="translate(297.01 162.0) rotate(-90)" font-size="6.15" text-anchor="end" font-family="Liberation Sans, sans-serif" fill="#0f9448" stroke="#0f9448" stroke-width="0.1">LUSC Normal (n=51)</text>
<text transform="translate(304.14 162.0) rotate(-90)" font-size="6.15" text-anchor="end" font-family="Liberation Sans, sans-serif" fill="#222" stroke="#222" stroke-width="0.1">MESO Tumor (n=87)</text>
<text transform="translate(311.28 162.0) rotate(-90)" font-size="6.15" text-anchor="end" font-family="Liberation Sans, sans-serif" fill="#222" stroke="#222" stroke-width="0.1">OV Tumor (n=303)</text>
<text transform="translate(318.42 162.0) rotate(-90)" font-size="6.15" text-anchor="end" font-family="Liberation Sans, sans-serif" fill="#ea3a72" stroke="#ea3a72" stroke-width="0.1">PAAD Tumor (n=178)</text>
<text transform="translate(325.56 162.0) rotate(-90)" font-size="6.15" text-anchor="end" font-family="Liberation Sans, sans-serif" fill="#0f9448" stroke="#0f9448" stroke-width="0.1">PAAD Normal (n=4)</text>
<text transform="translate(332.69 162.0) rotate(-90)" font-size="6.15" text-anchor="end" font-family="Liberation Sans, sans-serif" fill="#ea3a72" stroke="#ea3a72" stroke-width="0.1">PCPG Tumor (n=179)</text>
<text transform="translate(339.83 162.0) rotate(-90)" font-size="6.15" text-anchor="end" font-family="Liberation Sans, sans-serif" fill="#0f9448" stroke="#0f9448" stroke-width="0.1">PCPG Normal (n=3)</text>
<text transform="translate(346.97 162.0) rotate(-90)" font-size="6.15" text-anchor="end" font-family="Liberation Sans, sans-serif" fill="#ea3a72" stroke="#ea3a72" stroke-width="0.1">PRAD Tumor (n=497)</text>
<text transform="translate(354.11 162.0) rotate(-90)" font-size="6.15" text-anchor="end" font-family="Liberation Sans, sans-serif" fill="#0f9448" stroke="#0f9448" stroke-width="0.1">PRAD Normal (n=52)</text>
<text transform="translate(361.24 162.0) rotate(-90)" font-size="6.15" text-anchor="end" font-family="Liberation Sans, sans-serif" fill="#ea3a72" stroke="#ea3a72" stroke-width="0.1">READ Tumor (n=166)</text>
<text transform="translate(368.38 162.0) rotate(-90)" font-size="6.15" text-anchor="end" font-family="Liberation Sans, sans-serif" fill="#0f9448" stroke="#0f9448" stroke-width="0.1">READ Normal (n=10)</text>
<text transform="translate(375.52 162.0) rotate(-90)" font-size="6.15" text-anchor="end" font-family="Liberation Sans, sans-serif" fill="#222" stroke="#222" stroke-width="0.1">SARC Tumor (n=259)</text>
<text transform="translate(382.66 162.0) rotate(-90)" font-size="6.15" text-anchor="end" font-family="Liberation Sans, sans-serif" fill="#ea3a72" stroke="#ea3a72" stroke-width="0.1">SKCM Tumor (n=103)</text>
<text transform="translate(389.79 162.0) rotate(-90)" font-size="6.15" text-anchor="end" font-family="Liberation Sans, sans-serif" fill="#3a4f9a" stroke="#3a4f9a" stroke-width="0.1">SKCM Metastasis (n=368)</text>
<text transform="translate(396.93 162.0) rotate(-90)" font-size="6.15" text-anchor="end" font-family="Liberation Sans, sans-serif" fill="#ea3a72" stroke="#ea3a72" stroke-width="0.1">STAD Tumor (n=415)</text>
<text transform="translate(404.07 162.0) rotate(-90)" font-size="6.15" text-anchor="end" font-family="Liberation Sans, sans-serif" fill="#0f9448" stroke="#0f9448" stroke-width="0.1">STAD Normal (n=35)</text>
<text transform="translate(411.21 162.0) rotate(-90)" font-size="6.15" text-anchor="end" font-family="Liberation Sans, sans-serif" fill="#222" stroke="#222" stroke-width="0.1">TGCT Tumor (n=150)</text>
<text transform="translate(418.34 162.0) rotate(-90)" font-size="6.15" text-anchor="end" font-family="Liberation Sans, sans-serif" fill="#ea3a72" stroke="#ea3a72" stroke-width="0.1">THCA Tumor (n=501)</text>
<text transform="translate(425.48 162.0) rotate(-90)" font-size="6.15" text-anchor="end" font-family="Liberation Sans, sans-serif" fill="#0f9448" stroke="#0f9448" stroke-width="0.1">THCA Normal (n=59)</text>
<text transform="translate(432.62 162.0) rotate(-90)" font-size="6.15" text-anchor="end" font-family="Liberation Sans, sans-serif" fill="#222" stroke="#222" stroke-width="0.1">THYM Tumor (n=120)</text>
<text transform="translate(439.76 162.0) rotate(-90)" font-size="6.15" text-anchor="end" font-family="Liberation Sans, sans-serif" fill="#ea3a72" stroke="#ea3a72" stroke-width="0.1">UCEC Tumor (n=545)</text>
<text transform="translate(446.89 162.0) rotate(-90)" font-size="6.15" text-anchor="end" font-family="Liberation Sans, sans-serif" fill="#0f9448" stroke="#0f9448" stroke-width="0.1">UCEC Normal (n=35)</text>
<text transform="translate(454.03 162.0) rotate(-90)" font-size="6.15" text-anchor="end" font-family="Liberation Sans, sans-serif" fill="#ea3a72" stroke="#ea3a72" stroke-width="0.1">UCS Tumor (n=57)</text>
<text transform="translate(461.17 162.0) rotate(-90)" font-size="6.15" text-anchor="end" font-family="Liberation Sans, sans-serif" fill="#ea3a72" stroke="#ea3a72" stroke-width="0.1">UVM Tumor (n=80)</text>
<path d="M30.72 157.6V159.4M37.86 157.6V159.4M44.99 157.6V159.4M52.13 157.6V159.4M59.27 157.6V159.4M66.41 157.6V159.4M73.54 157.6V159.4M80.68 157.6V159.4M87.82 157.6V159.4M94.96 157.6V159.4M102.09 157.6V159.4M109.23 157.6V159.4M116.37 157.6V159.4M123.51 157.6V159.4M130.64 157.6V159.4M137.78 157.6V159.4M144.92 157.6V159.4M152.06 157.6V159.4M159.19 157.6V159.4M166.33 157.6V159.4M173.47 157.6V159.4M180.61 157.6V159.4M187.74 157.6V159.4M194.88 157.6V159.4M202.02 157.6V159.4M209.16 157.6V159.4M216.29 157.6V159.4M223.43 157.6V159.4M230.57 157.6V159.4M237.71 157.6V159.4M244.84 157.6V159.4M251.98 157.6V159.4M259.12 157.6V159.4M266.26 157.6V159.4M273.39 157.6V159.4M280.53 157.6V159.4M287.67 157.6V159.4M294.81 157.6V159.4M301.94 157.6V159.4M309.08 157.6V159.4M316.22 157.6V159.4M323.36 157.6V159.4M330.49 157.6V159.4M337.63 157.6V159.4M344.77 157.6V159.4M351.91 157.6V159.4M359.04 157.6V159.4M366.18 157.6V159.4M373.32 157.6V159.4M380.46 157.6V159.4M387.59 157.6V159.4M394.73 157.6V159.4M401.87 157.6V159.4M409.01 157.6V159.4M416.14 157.6V159.4M423.28 157.6V159.4M430.42 157.6V159.4M437.56 157.6V159.4M444.69 157.6V159.4M451.83 157.6V159.4M458.97 157.6V159.4" stroke="#555" stroke-width="0.6"/>
<path d="M173.4 239.6H196.9" stroke="#7d97a8" stroke-width="1.1"/>
<text x="187.0" y="248.8" font-size="7.4" text-anchor="middle" textLength="17.7" lengthAdjust="spacingAndGlyphs" font-family="Liberation Sans, sans-serif" fill="#ee1f30" stroke="#ee1f30" stroke-width="0.25">HNSC</text>
<path d="M0 252H467" stroke="#ececec" stroke-width="0.7"/>
<text x="11.6" y="270.3" font-size="11" font-family="Liberation Sans, sans-serif" fill="#111">B</text>
<text x="100.8" y="258.8" font-size="7.1" text-anchor="middle" textLength="87.7" lengthAdjust="spacingAndGlyphs" font-family="Liberation Sans, sans-serif" fill="#222">TCGA Head and Neck Cancer</text>
<rect x="65.3" y="264.1" width="75.2" height="130.89999999999998" fill="none" stroke="#555" stroke-width="0.6"/>
<path d="M62.5 392.80H65.3" stroke="#555" stroke-width="0.5"/>
<text transform="translate(58.6 392.80) rotate(-90)" font-size="5.4" text-anchor="middle" font-family="Liberation Sans, sans-serif" fill="#111">2</text>
<path d="M62.5 370.60H65.3" stroke="#555" stroke-width="0.5"/>
<text transform="translate(58.6 370.60) rotate(-90)" font-size="5.4" text-anchor="middle" font-family="Liberation Sans, sans-serif" fill="#111">3</text>
<path d="M62.5 348.40H65.3" stroke="#555" stroke-width="0.5"/>
<text transform="translate(58.6 348.40) rotate(-90)" font-size="5.4" text-anchor="middle" font-family="Liberation Sans, sans-serif" fill="#111">4</text>
<path d="M62.5 326.20H65.3" stroke="#555" stroke-width="0.5"/>
<text transform="translate(58.6 326.20) rotate(-90)" font-size="5.4" text-anchor="middle" font-family="Liberation Sans, sans-serif" fill="#111">5</text>
<path d="M62.5 304.00H65.3" stroke="#555" stroke-width="0.5"/>
<text transform="translate(58.6 304.00) rotate(-90)" font-size="5.4" text-anchor="middle" font-family="Liberation Sans, sans-serif" fill="#111">6</text>
<path d="M62.5 281.80H65.3" stroke="#555" stroke-width="0.5"/>
<text transform="translate(58.6 281.80) rotate(-90)" font-size="5.4" text-anchor="middle" font-family="Liberation Sans, sans-serif" fill="#111">7</text>
<text transform="translate(47.0 329.4) rotate(-90)" font-size="4.5" text-anchor="middle" font-family="Liberation Sans, sans-serif" fill="#333">Expression - log<tspan font-size="3" dy="1">2</tspan><tspan dy="-1">(TPM + 1)</tspan></text>
<path d="M91.5 278V269H114.3V329.6" stroke="#777" stroke-width="0.5" stroke-dasharray="1 0.6" fill="none"/>
<circle cx="103" cy="269" r="1.1" fill="#ff2a2a"/>
<path d="M91.1 278.1V307.2M86.6 278.1H96.3M91.1 326.5V354.6M86.6 354.6H95.5" stroke="#111" stroke-width="0.6"/>
<rect x="82.2" y="307.2" width="18.7" height="19.2" fill="#f26060" stroke="#333" stroke-width="0.6"/>
<path d="M82.2 316.7H100.9" stroke="#222" stroke-width="1.1"/>
<path d="M114.3 329.6V337.3M109.7 329.6H118.7M114.3 350V366.1M109.7 366.1H118.7" stroke="#111" stroke-width="0.6"/>
<rect x="104.8" y="337.9" width="18.9" height="12.1" fill="#7a7a7a" stroke="#333" stroke-width="0.6"/>
<path d="M104.8 342.2H123.7" stroke="#222" stroke-width="1.1"/>
<path d="M90.0 312.5h0M91.7 315.1h0M91.1 303.3h0M92.7 301.9h0M92.1 346.4h0M92.8 294.6h0M91.9 314.5h0M92.2 334.6h0M93.7 325.1h0M89.9 316.2h0M89.7 314.1h0M90.1 317.4h0M89.4 317.3h0M90.9 311.8h0M93.7 309.3h0M91.2 322.8h0M88.8 299.9h0M89.8 293.4h0M91.1 304.3h0M91.1 338.7h0M91.1 294.7h0M93.9 309.7h0M92.0 296.9h0M89.5 320.4h0M89.5 320.7h0M89.4 341.7h0M93.4 300.8h0M92.0 321.3h0M92.4 320.5h0M92.6 334.8h0M93.1 327.1h0M91.6 307.6h0M89.3 312.8h0M89.6 310.9h0M92.1 301.9h0M92.5 289.4h0M91.7 312.3h0M90.0 305.6h0M91.4 326.3h0M90.4 286.5h0M91.1 315.6h0M89.0 352.9h0M93.6 330.5h0M92.3 299.8h0M91.3 323.9h0M90.1 304.4h0M89.8 327.0h0M90.9 317.5h0M89.2 322.8h0M88.9 330.2h0M89.8 334.8h0M88.8 332.0h0M92.5 341.4h0M89.9 311.1h0M89.5 339.6h0M93.5 329.4h0M91.4 281.4h0M91.0 293.4h0M93.2 327.5h0M93.7 309.6h0M90.1 314.3h0M90.4 294.5h0M92.8 286.7h0M91.3 329.8h0M92.1 340.6h0M92.3 319.1h0M90.1 306.4h0M92.6 326.5h0M93.4 320.4h0M91.6 325.6h0M89.9 344.7h0M89.4 285.3h0M92.6 325.1h0M92.5 319.0h0M91.6 312.1h0M93.4 322.1h0M93.7 332.6h0M89.6 308.1h0M89.9 303.9h0M91.5 303.2h0M92.5 316.7h0M89.2 338.7h0M92.6 333.3h0M93.6 319.7h0M89.5 312.6h0M92.8 296.0h0M92.3 322.3h0M93.8 338.3h0M91.6 300.5h0M90.8 328.6h0M89.5 298.1h0M92.6 311.0h0M92.2 323.4h0M91.3 325.1h0M90.7 326.8h0M92.5 320.5h0M89.4 329.4h0M89.9 304.9h0M93.3 310.0h0M92.0 309.4h0M89.1 330.8h0M92.6 308.0h0M91.8 307.3h0M90.0 307.7h0M92.6 319.9h0M92.4 287.6h0M91.0 323.1h0M92.2 301.1h0M91.6 334.0h0M89.6 326.2h0M91.7 303.4h0M93.2 333.3h0M92.6 332.1h0M89.4 341.4h0M89.3 341.9h0M93.4 326.3h0M90.1 293.9h0M93.9 334.7h0M90.6 316.6h0M92.4 307.8h0M91.4 298.1h0M90.8 303.4h0M90.0 327.7h0M90.6 282.9h0M92.6 297.0h0M93.9 302.7h0M89.6 313.1h0M90.9 298.5h0M92.3 304.1h0M93.1 319.3h0M91.1 312.1h0M90.2 334.0h0M90.2 321.9h0M92.0 333.3h0M93.7 319.2h0M91.9 321.6h0M91.1 306.6h0M90.5 327.5h0M92.6 321.4h0M89.3 316.5h0M89.8 308.6h0M93.8 295.0h0M89.9 336.0h0M90.9 355.1h0M94.0 328.4h0M91.9 325.3h0M93.9 319.1h0M91.2 307.1h0M93.8 315.0h0M90.5 325.8h0M90.8 339.7h0M91.0 309.9h0M93.6 325.4h0M89.0 319.6h0M91.7 330.0h0M91.5 352.3h0M93.5 327.7h0M91.1 322.8h0M91.0 304.3h0M92.7 312.7h0M91.4 333.1h0M91.9 300.2h0M91.4 317.9h0M91.5 303.1h0M91.2 315.2h0M93.1 307.8h0M89.8 281.5h0M91.3 289.0h0M91.9 315.1h0M91.7 308.0h0M92.4 293.0h0M93.8 288.6h0M89.0 312.4h0M89.0 335.0h0M93.2 347.3h0M89.9 327.3h0M89.9 318.2h0M91.5 296.2h0M93.2 329.6h0M89.1 308.0h0M92.5 317.5h0M90.2 344.8h0M93.0 309.5h0M91.4 333.2h0M91.5 314.7h0M89.5 319.5h0M92.0 329.1h0M92.3 285.4h0M92.4 326.8h0M92.9 323.3h0M92.0 326.5h0M92.5 327.4h0M91.5 303.4h0M93.0 311.8h0M91.6 311.4h0M93.8 317.4h0M92.3 322.1h0M92.8 307.7h0M92.1 338.3h0M89.2 315.8h0M90.8 302.7h0M89.7 336.0h0M92.6 336.0h0M92.1 290.0h0M89.0 299.6h0M92.3 316.9h0M89.2 310.3h0M93.4 303.4h0M90.3 291.7h0M90.7 298.0h0M91.5 332.3h0M90.4 328.6h0M93.3 312.7h0M92.9 325.8h0M90.5 314.1h0M91.3 297.7h0M88.9 312.3h0M88.9 287.9h0M91.0 329.0h0M93.2 314.6h0M91.6 321.7h0M89.2 308.0h0M92.5 307.7h0M89.2 326.3h0M91.5 308.1h0M89.8 304.1h0M91.4 282.7h0M89.9 306.5h0M91.9 307.9h0M90.8 321.3h0M91.9 318.8h0M90.9 317.0h0M93.8 321.7h0M90.9 327.2h0M91.7 321.0h0M93.8 301.2h0M91.1 335.0h0M92.1 333.0h0M89.6 339.6h0M91.5 326.7h0M89.9 332.7h0M91.5 300.7h0M92.6 314.3h0M93.3 314.6h0M89.8 334.1h0M93.7 328.1h0M91.7 295.9h0M91.1 308.2h0M91.1 316.5h0M93.9 313.9h0M93.0 315.3h0M92.6 334.7h0M91.0 290.5h0M92.2 305.6h0M91.0 307.9h0M89.1 298.1h0M89.3 305.8h0M92.4 307.3h0M93.0 316.2h0M92.1 313.0h0M90.3 324.0h0M92.0 312.0h0M92.7 292.9h0M92.5 323.1h0M93.7 329.5h0M92.8 329.0h0M89.6 321.3h0M90.8 318.2h0M93.5 331.7h0M91.2 302.5h0M90.0 338.0h0M92.0 330.8h0M90.9 318.6h0M90.9 319.7h0M92.6 326.4h0M92.2 303.2h0M90.2 313.8h0M93.8 308.4h0M92.4 337.1h0M89.6 311.9h0M91.8 348.8h0M89.0 307.8h0M92.7 323.0h0M90.0 307.6h0M91.2 310.5h0M90.1 307.3h0M93.1 318.7h0M93.7 304.3h0M90.6 334.6h0M92.7 288.4h0M92.0 331.7h0M94.0 314.4h0M90.1 300.2h0M90.8 301.4h0M94.0 330.0h0M93.2 303.8h0M93.2 317.8h0M90.3 310.0h0M92.3 352.4h0M89.4 333.2h0M93.3 321.9h0M92.5 329.5h0M91.0 311.8h0M93.1 322.8h0M93.9 298.1h0M93.7 312.7h0M89.9 320.4h0M90.7 301.6h0M90.2 335.0h0M90.5 309.0h0M92.8 314.0h0M92.7 326.2h0M91.7 319.8h0M89.9 318.6h0M89.3 344.2h0M92.9 340.1h0M91.7 308.4h0M90.4 308.4h0M89.1 311.1h0M93.2 325.0h0M93.6 303.4h0M92.7 318.7h0M89.3 301.2h0M89.8 321.8h0M93.0 296.5h0M93.2 304.9h0M90.9 321.5h0M90.5 322.8h0M90.5 309.4h0M91.7 323.9h0M90.9 310.0h0M90.5 336.5h0M90.8 301.5h0M90.0 321.9h0M89.1 330.2h0M91.0 323.6h0M90.6 300.7h0M90.2 299.1h0M89.7 321.2h0M92.3 319.8h0M91.0 291.9h0M93.5 325.4h0M90.5 350.6h0M89.1 324.1h0M90.1 304.1h0M92.4 312.0h0M91.9 336.5h0M93.1 318.6h0M89.2 328.2h0M89.4 320.5h0M92.6 306.4h0M89.2 331.4h0M92.7 284.1h0M93.9 307.1h0M92.2 317.2h0M92.7 308.8h0M91.1 292.0h0M92.5 346.8h0M93.2 312.9h0M92.0 330.5h0M90.2 325.5h0M92.1 315.7h0M91.3 293.4h0M93.0 329.2h0M92.4 285.7h0M89.2 343.9h0M91.1 326.0h0M93.2 285.3h0M90.7 326.9h0M93.5 304.4h0M90.2 288.2h0M91.9 324.7h0M93.1 321.0h0M90.4 312.1h0M93.9 325.5h0M91.6 325.9h0M91.1 294.6h0M91.4 300.0h0M93.7 284.9h0M91.9 333.9h0M90.5 327.7h0M94.0 296.6h0M92.7 329.6h0M93.5 333.3h0M92.8 315.1h0M93.4 288.2h0M92.2 311.4h0M91.0 307.1h0M93.4 301.0h0M92.9 303.4h0M92.3 307.5h0M92.7 295.5h0M91.2 331.5h0M92.6 301.3h0M91.7 325.6h0M91.7 328.5h0M91.5 287.3h0M93.2 314.1h0M89.6 305.5h0M92.2 319.7h0M93.1 307.2h0M89.9 332.2h0M93.2 311.1h0M89.6 311.5h0M92.6 301.8h0M93.1 294.1h0M93.5 336.4h0M89.8 318.6h0M88.9 302.7h0M93.6 309.3h0M90.6 313.9h0M94.0 323.6h0M90.4 313.9h0M92.9 297.6h0M92.6 305.9h0M91.6 322.5h0M90.0 345.3h0M91.1 316.9h0M93.6 325.0h0M92.3 322.5h0M89.5 321.2h0M90.0 332.1h0M91.7 312.6h0M91.5 290.4h0M89.7 330.6h0M92.4 291.3h0M94.0 309.1h0M91.7 314.4h0M89.1 323.2h0M92.5 292.1h0M92.9 323.0h0M92.0 296.9h0M89.4 311.1h0M90.6 291.3h0M89.6 353.8h0M92.2 295.0h0M90.0 321.6h0M92.0 321.9h0M91.7 300.3h0M93.1 331.3h0M94.0 321.2h0M91.7 309.1h0M90.6 299.2h0M91.7 310.9h0M90.9 301.2h0M92.0 341.6h0M90.3 316.2h0M90.5 338.2h0M90.3 336.9h0M92.6 315.6h0M88.8 317.6h0M90.6 312.9h0M92.4 299.7h0M90.0 298.9h0M91.7 331.2h0M90.5 316.9h0M91.6 325.3h0M89.7 311.0h0M89.0 322.3h0M93.8 299.5h0M89.3 290.2h0M93.4 335.6h0M90.5 299.6h0M92.5 350.2h0M92.3 316.9h0M93.5 309.2h0M93.2 340.4h0M89.4 308.5h0M92.7 345.0h0M91.2 319.8h0M92.3 314.0h0M89.6 318.6h0M89.4 312.3h0M93.6 306.3h0M89.3 329.6h0M90.3 335.2h0M93.5 286.4h0M91.4 324.6h0M91.8 334.6h0M91.7 300.2h0M92.9 317.2h0M89.2 321.9h0M92.9 341.2h0M90.8 316.5h0M89.7 314.6h0M92.1 306.4h0M90.0 341.7h0M89.3 299.8h0M91.5 320.5h0M91.5 325.0h0M90.4 306.3h0M93.5 314.2h0M90.4 313.7h0M90.3 332.6h0M89.5 317.2h0M88.9 306.6h0M90.7 320.5h0M91.8 331.8h0M89.8 307.0h0M88.8 315.7h0M91.7 327.7h0M92.7 340.9h0M93.5 290.2h0M93.7 295.7h0M92.5 331.1h0M93.1 303.6h0M89.5 311.7h0M90.9 322.0h0M93.2 315.0h0M89.1 337.7h0M92.9 310.6h0M89.8 291.1h0M92.2 314.7h0M93.2 321.5h0M93.2 340.3h0M90.2 309.7h0M91.0 327.8h0M94.0 324.7h0M93.6 313.4h0M91.4 362h0M90.5 366h0M90.3 360h0M117.3 341.6h0M117.2 349.4h0M113.8 349.9h0M114.2 353.8h0M111.6 342.3h0M111.3 354.8h0M113.4 347.5h0M111.6 339.7h0M117.5 350.8h0M115.2 333.4h0M113.4 337.4h0M116.5 332.4h0M112.6 351.3h0M114.6 333.4h0M114.3 339.2h0M114.6 331.6h0M116.4 338.4h0M111.1 330.6h0M113.5 342.5h0M113.6 348.9h0M112.1 335.9h0M114.1 347.1h0M111.5 346.2h0M113.7 345.7h0M113.0 339.1h0M111.1 332.9h0M111.8 339.4h0M115.9 339.5h0M112.5 343.0h0M112.5 355.1h0M115.3 357.2h0M117.3 340.1h0M111.2 344.8h0M113.0 330.7h0M114.8 346.3h0M115.8 349.1h0M116.9 336.5h0M116.0 334.8h0M115.4 346.2h0M115.2 351.4h0M113.5 357.9h0M115.9 343.0h0M117.2 350.2h0M114.8 348.5h0M114.8 390.5h0" stroke="#000" stroke-width="1.0" stroke-linecap="round" stroke-opacity="0.9" fill="none"/>
<path d="M103.2 395V397.5" stroke="#555" stroke-width="0.5"/>
<text x="103.3" y="404.9" font-size="4.6" text-anchor="middle" font-family="Liberation Sans, sans-serif" fill="#222">HNSC</text>
<text x="103.3" y="410.7" font-size="4.6" text-anchor="middle" font-family="Liberation Sans, sans-serif" fill="#222">(num(T)=519; num(N)=44)</text>
<text x="204.6" y="272.2" font-size="11" font-family="Liberation Sans, sans-serif" fill="#111">C</text>
<text x="328.6" y="272.8" font-size="6.9" text-anchor="middle" textLength="89.3" lengthAdjust="spacingAndGlyphs" font-family="Liberation Sans, sans-serif" fill="#111">TCGA Head and Neck Cancer</text>
<path d="M277 275.4H379.5" stroke="#ee2a3a" stroke-width="1.3"/>
<rect x="213.5" y="286.8" width="101.10000000000002" height="98.19999999999999" fill="none" stroke="#666" stroke-width="0.6"/>
<text x="263.5" y="285.0" font-size="6.45" text-anchor="middle" font-family="Liberation Sans, sans-serif" fill="#111">Overall Survival</text>
<path d="M211.0 381.00H213.5" stroke="#444" stroke-width="0.5"/>
<text transform="translate(207.90 381.00) rotate(-90)" font-size="4.8" text-anchor="middle" font-family="Liberation Sans, sans-serif" fill="#222">0.0</text>
<path d="M211.0 362.80H213.5" stroke="#444" stroke-width="0.5"/>
<text transform="translate(207.90 362.80) rotate(-90)" font-size="4.8" text-anchor="middle" font-family="Liberation Sans, sans-serif" fill="#222">0.2</text>
<path d="M211.0 344.60H213.5" stroke="#444" stroke-width="0.5"/>
<text transform="translate(207.90 344.60) rotate(-90)" font-size="4.8" text-anchor="middle" font-family="Liberation Sans, sans-serif" fill="#222">0.4</text>
<path d="M211.0 326.40H213.5" stroke="#444" stroke-width="0.5"/>
<text transform="translate(207.90 326.40) rotate(-90)" font-size="4.8" text-anchor="middle" font-family="Liberation Sans, sans-serif" fill="#222">0.6</text>
<path d="M211.0 308.20H213.5" stroke="#444" stroke-width="0.5"/>
<text transform="translate(207.90 308.20) rotate(-90)" font-size="4.8" text-anchor="middle" font-family="Liberation Sans, sans-serif" fill="#222">0.8</text>
<path d="M211.0 290.00H213.5" stroke="#444" stroke-width="0.5"/>
<text transform="translate(207.90 290.00) rotate(-90)" font-size="4.8" text-anchor="middle" font-family="Liberation Sans, sans-serif" fill="#222">1.0</text>
<path d="M213.70 385.0V387.5" stroke="#444" stroke-width="0.5"/>
<text x="213.70" y="394.00" font-size="4.9" text-anchor="middle" font-family="Liberation Sans, sans-serif" fill="#222">0</text>
<path d="M236.17 385.0V387.5" stroke="#444" stroke-width="0.5"/>
<text x="236.17" y="394.00" font-size="4.9" text-anchor="middle" font-family="Liberation Sans, sans-serif" fill="#222">50</text>
<path d="M258.65 385.0V387.5" stroke="#444" stroke-width="0.5"/>
<text x="258.65" y="394.00" font-size="4.9" text-anchor="middle" font-family="Liberation Sans, sans-serif" fill="#222">100</text>
<path d="M281.12 385.0V387.5" stroke="#444" stroke-width="0.5"/>
<text x="281.12" y="394.00" font-size="4.9" text-anchor="middle" font-family="Liberation Sans, sans-serif" fill="#222">150</text>
<path d="M303.60 385.0V387.5" stroke="#444" stroke-width="0.5"/>
<text x="303.60" y="394.00" font-size="4.9" text-anchor="middle" font-family="Liberation Sans, sans-serif" fill="#222">200</text>
<text x="264.55" y="401.8" font-size="6.5" text-anchor="middle" textLength="19.6" lengthAdjust="spacingAndGlyphs" font-family="Liberation Sans, sans-serif" fill="#111">Months</text>
<text transform="translate(200.0 335) rotate(-90)" font-size="6.4" text-anchor="middle" textLength="42" lengthAdjust="spacingAndGlyphs" font-family="Liberation Sans, sans-serif" fill="#111">Percent survival</text>
<path d="M213.70 290.00H215.05V292.73H218.19V300.92H222.69V308.20H228.98V312.75H236.17V315.48H240.22V322.76H244.27V329.13H255.50V334.59H259.55V338.23H286.07V348.24H294.61V354.61" stroke="#dfe3ea" stroke-width="0.5" fill="none"/>
<path d="M213.70 290.00H215.05V299.10H218.19V311.84H222.69V320.94H228.98V325.49H236.17V328.22H240.22V336.41H244.27V343.69H255.50V350.06H259.55V354.61H286.07V369.17H294.61V371.90" stroke="#dfe3ea" stroke-width="0.5" fill="none"/>
<path d="M213.70 290.00H215.05V293.64H218.19V308.20H222.69V320.94H228.98V331.86H234.38V335.50H243.82V344.60H253.26V350.06H259.55V354.61H264.49V358.25H281.12V360.98" stroke="#efdede" stroke-width="0.5" fill="none"/>
<path d="M213.70 290.00H215.05V300.92H218.19V320.94H222.69V333.68H228.98V344.60H234.38V349.15H243.82V357.34H253.26V363.71H259.55V368.26H264.49V371.90H281.12V375.54" stroke="#efdede" stroke-width="0.5" fill="none"/>
<path d="M213.70 290.00H214.60H215.23V290.91H215.86V291.82H216.49V292.73H217.16V295.00H217.84V297.28H218.51V299.56H219.18V301.83H219.86V303.74H220.53V305.65H221.21V307.56H221.88V309.47H222.43V310.59H222.98V311.70H223.53V312.82H224.08V313.93H224.75V314.42H225.42V314.90H226.09V315.39H226.76V315.87H227.43V316.36H228.10V316.85H228.77V317.33H229.44V317.82H230.11V318.30H230.74V318.41H231.38V318.51H232.02V318.62H232.65V318.73H233.29V318.83H233.93V318.94H234.58V319.81H235.24V320.69H235.90V321.56H236.55V322.43H237.21V323.31H237.85V324.51H238.49V325.71H239.12V326.91H239.76V328.11H240.40V329.31H241.01V330.50H241.63V331.68H242.24V332.86H242.86V334.04H243.47V335.23H244.09V336.41H254.92V342.69H260.00V346.88H286.07V358.89H290.12V364.62H310.34V381.00" stroke="#2f6db5" stroke-width="1.05" fill="none"/>
<path d="M217.84 296.28v2.0M220.53 304.65v2.0M227.10 315.12v2.0M232.02 317.62v2.0M235.57 320.12v2.0M238.80 325.31v2.0M242.24 331.86v2.0M246.79 335.41v2.0M252.21 335.41v2.0M257.46 341.69v2.0M262.61 345.88v2.0M267.82 345.88v2.0M273.03 345.88v2.0M278.25 345.88v2.0M283.46 345.88v2.0M288.09 357.89v2.0M292.64 363.62v2.0M297.70 363.62v2.0M302.76 363.62v2.0M307.81 363.62v2.0" stroke="#2f6db5" stroke-width="0.6"/>
<path d="M213.70 290.00H214.15V290.45H214.60V290.91H215.18V293.09H215.77V295.28H216.35V297.46H216.94V299.65H217.52V301.83H218.06V304.33H218.60V306.84H219.14V309.34H219.68V311.84H220.23V314.34H220.78V316.85H221.33V319.35H221.88V321.85H222.55V323.40H223.21V324.94H223.88V326.49H224.54V328.04H225.21V329.59H225.88V330.67H226.56V331.75H227.23V332.83H227.90V333.91H228.58V334.99H229.25V336.07H229.93V337.15H230.60V338.23H231.23V338.56H231.86V338.88H232.49V339.20H233.12V339.53H233.75V339.86H234.38V340.18H235.01V340.50H235.68V341.02H236.35V341.53H237.03V342.04H237.70V342.55H238.38V343.06H239.05V343.58H239.73V344.09H240.40V344.60H244.09H244.69V346.19H245.30V347.79H245.91V349.38H246.51V350.97H247.19V351.52H247.86V352.06H248.54V352.61H249.21V353.15H249.88V353.70H250.56V354.25H251.27V354.88H251.97V355.52H252.68V356.16H253.38V356.79H254.09V357.43H254.80V358.07H255.50V358.70H256.20V359.05H256.89V359.40H257.59V359.75H258.28V360.09H258.98V360.44H259.67V360.79H260.37V361.14H261.06V361.48H261.76V361.83H262.45V362.18H263.14V362.53H263.82V365.71H284.27V381.00" stroke="#ee3333" stroke-width="1.05" fill="none"/>
<path d="M216.06 295.37v2.0M223.54 324.72v2.0M227.90 332.91v2.0M232.80 338.37v2.0M237.70 341.55v2.0M242.24 343.60v2.0M245.30 346.79v2.0M248.54 351.61v2.0M253.03 355.48v2.0M259.32 359.62v2.0M266.38 364.71v2.0M271.49 364.71v2.0M276.60 364.71v2.0M281.71 364.71v2.0" stroke="#ee3333" stroke-width="0.6"/>
<text x="225.2" y="297.2" font-size="6.6" font-weight="bold" font-family="Liberation Sans, sans-serif" fill="#ee2a2a">P=1e-04</text>
<path d="M267.0 290.8H274.5" stroke="#5b8fd0" stroke-width="1.1"/>
<path d="M267.0 295.0H274.5" stroke="#f07f7f" stroke-width="1.1"/>
<text x="276.0" y="292.3" font-size="4.4" font-family="Liberation Sans, sans-serif" fill="#111">Low HPRT1 Group</text>
<text x="276.0" y="296.5" font-size="4.4" font-family="Liberation Sans, sans-serif" fill="#111">High HPRT1 Group</text>
<text x="312.2" y="301.70" font-size="4.4" text-anchor="end" font-family="Liberation Sans, sans-serif" fill="#111">Logrank p=1e-04</text>
<text x="312.2" y="306.75" font-size="4.4" text-anchor="end" font-family="Liberation Sans, sans-serif" fill="#111">HR(high)=1.7</text>
<text x="312.2" y="311.80" font-size="4.4" text-anchor="end" font-family="Liberation Sans, sans-serif" fill="#111">p(HR)=0.00013</text>
<text x="312.2" y="316.85" font-size="4.4" text-anchor="end" font-family="Liberation Sans, sans-serif" fill="#111">n(high)=259</text>
<text x="312.2" y="321.90" font-size="4.4" text-anchor="end" font-family="Liberation Sans, sans-serif" fill="#111">n(low)=259</text>
<rect x="343.8" y="286.8" width="105.19999999999999" height="98.69999999999999" fill="none" stroke="#666" stroke-width="0.6"/>
<text x="395.5" y="285.0" font-size="6.45" text-anchor="middle" font-family="Liberation Sans, sans-serif" fill="#111">Disease Free Survival</text>
<path d="M341.3 381.50H343.8" stroke="#444" stroke-width="0.5"/>
<text transform="translate(338.20 381.50) rotate(-90)" font-size="4.8" text-anchor="middle" font-family="Liberation Sans, sans-serif" fill="#222">0.0</text>
<path d="M341.3 363.34H343.8" stroke="#444" stroke-width="0.5"/>
<text transform="translate(338.20 363.34) rotate(-90)" font-size="4.8" text-anchor="middle" font-family="Liberation Sans, sans-serif" fill="#222">0.2</text>
<path d="M341.3 345.18H343.8" stroke="#444" stroke-width="0.5"/>
<text transform="translate(338.20 345.18) rotate(-90)" font-size="4.8" text-anchor="middle" font-family="Liberation Sans, sans-serif" fill="#222">0.4</text>
<path d="M341.3 327.02H343.8" stroke="#444" stroke-width="0.5"/>
<text transform="translate(338.20 327.02) rotate(-90)" font-size="4.8" text-anchor="middle" font-family="Liberation Sans, sans-serif" fill="#222">0.6</text>
<path d="M341.3 308.86H343.8" stroke="#444" stroke-width="0.5"/>
<text transform="translate(338.20 308.86) rotate(-90)" font-size="4.8" text-anchor="middle" font-family="Liberation Sans, sans-serif" fill="#222">0.8</text>
<path d="M341.3 290.70H343.8" stroke="#444" stroke-width="0.5"/>
<text transform="translate(338.20 290.70) rotate(-90)" font-size="4.8" text-anchor="middle" font-family="Liberation Sans, sans-serif" fill="#222">1.0</text>
<path d="M343.80 385.5V388.0" stroke="#444" stroke-width="0.5"/>
<text x="343.80" y="394.50" font-size="4.9" text-anchor="middle" font-family="Liberation Sans, sans-serif" fill="#222">0</text>
<path d="M373.15 385.5V388.0" stroke="#444" stroke-width="0.5"/>
<text x="373.15" y="394.50" font-size="4.9" text-anchor="middle" font-family="Liberation Sans, sans-serif" fill="#222">50</text>
<path d="M402.50 385.5V388.0" stroke="#444" stroke-width="0.5"/>
<text x="402.50" y="394.50" font-size="4.9" text-anchor="middle" font-family="Liberation Sans, sans-serif" fill="#222">100</text>
<path d="M431.85 385.5V388.0" stroke="#444" stroke-width="0.5"/>
<text x="431.85" y="394.50" font-size="4.9" text-anchor="middle" font-family="Liberation Sans, sans-serif" fill="#222">150</text>
<text x="396.90" y="401.8" font-size="6.5" text-anchor="middle" textLength="19.6" lengthAdjust="spacingAndGlyphs" font-family="Liberation Sans, sans-serif" fill="#111">Months</text>
<text transform="translate(329.5 335) rotate(-90)" font-size="6.4" text-anchor="middle" textLength="42" lengthAdjust="spacingAndGlyphs" font-family="Liberation Sans, sans-serif" fill="#111">Percent survival</text>
<path d="M343.80 290.70H346.74V295.24H352.02V302.50H356.71V305.23H371.98V308.86H389.00V319.76H440.65V319.76" stroke="#dfe3ea" stroke-width="0.5" fill="none"/>
<path d="M343.80 290.70H346.74V303.41H352.02V315.22H356.71V317.94H371.98V324.30H389.00V339.73H440.65V339.73" stroke="#dfe3ea" stroke-width="0.5" fill="none"/>
<path d="M343.80 290.70H346.74V297.06H350.26V308.86H355.54V314.31H361.41V319.76H379.61V327.02H435.37V327.02" stroke="#efdede" stroke-width="0.5" fill="none"/>
<path d="M343.80 290.70H346.74V308.86H350.26V324.30H355.54V331.56H361.41V337.01H379.61V350.63H435.37V350.63" stroke="#efdede" stroke-width="0.5" fill="none"/>
<path d="M343.80 290.70H344.68H345.58V293.30H346.49V295.89H347.39V298.49H348.30V301.09H349.20V303.68H349.98V304.72H350.75V305.75H351.52V306.79H352.30V307.82H353.07V308.86H353.84V309.22H354.60V309.59H355.36V309.95H356.13V310.31H356.89V310.68H357.80V310.79H358.71V310.90H359.62V311.02H360.53V311.13H361.44V311.24H362.35V311.36H363.26V311.47H364.17V311.58H365.08V311.70H365.99V311.81H366.90V311.92H367.81V312.04H368.60V313.06H369.39V314.08H370.19V315.10H370.98V316.12H371.81V317.26H372.65V318.39H373.49V319.53H374.32V320.66H389.00V329.74H444.76" stroke="#2f6db5" stroke-width="1.05" fill="none"/>
<path d="M346.94 296.19v2.0M351.14 305.27v2.0M354.98 308.77v2.0M362.35 310.36v2.0M369.39 313.08v2.0M372.65 317.39v2.0M377.99 319.66v2.0M385.33 319.66v2.0M392.98 328.74v2.0M400.95 328.74v2.0M408.92 328.74v2.0M416.88 328.74v2.0M424.85 328.74v2.0M432.81 328.74v2.0M440.78 328.74v2.0" stroke="#2f6db5" stroke-width="0.6"/>
<path d="M343.80 290.70H344.68H345.56V293.12H346.44V295.54H347.32V297.96H348.14V301.29H348.97V304.62H349.79V307.95H350.67V311.28H351.55V314.61H352.43V317.94H353.22V319.42H354.01V320.89H354.81V322.37H355.60V323.84H356.47V324.37H357.34V324.90H358.21V325.43H359.08V325.96H359.95V326.49H360.82V327.02H361.67V327.32H362.53V327.63H363.38V327.93H364.23V328.23H365.08V328.53H365.93V328.84H379.37V337.92H435.37" stroke="#ee3333" stroke-width="1.05" fill="none"/>
<path d="M354.01 319.89v2.0M358.21 324.43v2.0M363.38 326.93v2.0M369.29 327.84v2.0M376.01 327.84v2.0M383.37 336.92v2.0M391.37 336.92v2.0M399.37 336.92v2.0M407.37 336.92v2.0M415.37 336.92v2.0M423.37 336.92v2.0M431.37 336.92v2.0" stroke="#ee3333" stroke-width="0.6"/>
<text x="357.2" y="297.2" font-size="6.6" font-weight="bold" font-family="Liberation Sans, sans-serif" fill="#ee2a2a">P=0.036</text>
<path d="M390.0 290.8H397.5" stroke="#5b8fd0" stroke-width="1.1"/>
<path d="M390.0 295.0H397.5" stroke="#f07f7f" stroke-width="1.1"/>
<text x="399.0" y="292.3" font-size="4.4" font-family="Liberation Sans, sans-serif" fill="#111">Low HPRT1 Group</text>
<text x="399.0" y="296.5" font-size="4.4" font-family="Liberation Sans, sans-serif" fill="#111">High HPRT1 Group</text>
<text x="446.0" y="301.70" font-size="4.4" text-anchor="end" font-family="Liberation Sans, sans-serif" fill="#111">Logrank p=0.036</text>
<text x="446.0" y="306.75" font-size="4.4" text-anchor="end" font-family="Liberation Sans, sans-serif" fill="#111">HR(high)=1.6</text>
<text x="446.0" y="311.80" font-size="4.4" text-anchor="end" font-family="Liberation Sans, sans-serif" fill="#111">p(HR)=0.037</text>
<text x="446.0" y="316.85" font-size="4.4" text-anchor="end" font-family="Liberation Sans, sans-serif" fill="#111">n(high)=129</text>
<text x="446.0" y="321.90" font-size="4.4" text-anchor="end" font-family="Liberation Sans, sans-serif" fill="#111">n(low)=130</text>
<text x="13.5" y="427.6" font-size="11" font-family="Liberation Sans, sans-serif" fill="#111">D</text>
<text x="101.2" y="426.8" font-size="6.65" text-anchor="middle" font-family="Liberation Sans, sans-serif" fill="#222">GSE42743_Oral cavity</text>
<path d="M79 436.6V524.8" stroke="#222" stroke-width="1.2"/>
<path d="M75.2 436.89H79" stroke="#222" stroke-width="0.8"/>
<text x="74.6" y="439.59" font-size="7.7" font-weight="bold" text-anchor="end" font-family="Liberation Sans, sans-serif" fill="#333">1.5</text>
<path d="M75.2 451.43H79" stroke="#222" stroke-width="0.8"/>
<text x="74.6" y="454.13" font-size="7.7" font-weight="bold" text-anchor="end" font-family="Liberation Sans, sans-serif" fill="#333">1.0</text>
<path d="M75.2 465.96H79" stroke="#222" stroke-width="0.8"/>
<text x="74.6" y="468.66" font-size="7.7" font-weight="bold" text-anchor="end" font-family="Liberation Sans, sans-serif" fill="#333">0.5</text>
<path d="M75.2 480.50H79" stroke="#222" stroke-width="0.8"/>
<text x="74.6" y="483.20" font-size="7.7" font-weight="bold" text-anchor="end" font-family="Liberation Sans, sans-serif" fill="#333">0.0</text>
<path d="M75.2 495.04H79" stroke="#222" stroke-width="0.8"/>
<text x="74.6" y="497.74" font-size="7.7" font-weight="bold" text-anchor="end" font-family="Liberation Sans, sans-serif" fill="#333">-0.5</text>
<path d="M75.2 509.57H79" stroke="#222" stroke-width="0.8"/>
<text x="74.6" y="512.27" font-size="7.7" font-weight="bold" text-anchor="end" font-family="Liberation Sans, sans-serif" fill="#333">-1.0</text>
<path d="M75.2 524.11H79" stroke="#222" stroke-width="0.8"/>
<text x="74.6" y="526.81" font-size="7.7" font-weight="bold" text-anchor="end" font-family="Liberation Sans, sans-serif" fill="#333">-1.5</text>
<text transform="translate(56.2 478.8) rotate(-90)" font-size="6.74" text-anchor="middle" font-family="Liberation Sans, sans-serif" fill="#333">HPRT1 mRNA Levels</text>
<text x="111.2" y="436.0" font-size="5.7" text-anchor="middle" font-family="Liberation Sans, sans-serif" fill="#222">N/T pairs=24</text>
<text x="108.8" y="442.6" font-size="5.2" font-weight="bold" text-anchor="middle" font-family="Liberation Sans, sans-serif" fill="#ee1c1c">P&lt;0.0001</text>
<path d="M106.3 474.1L131.5 477.6M106.3 474.7L131.5 467.4M106.3 476.1L131.5 486.3M106.3 479.0L131.5 464.5M106.3 480.5L131.5 471.8M106.3 482.0L131.5 483.4M106.3 483.4L131.5 473.2M106.3 486.3L131.5 463.1M106.3 487.8L131.5 500.8M106.3 489.2L131.5 476.1M106.3 490.7L131.5 497.9M106.3 492.1L131.5 466.0M106.3 493.6L131.5 454.3M106.3 495.0L131.5 470.3M106.3 496.5L131.5 480.5M106.3 497.9L131.5 448.5M106.3 499.4L131.5 468.9M106.3 500.8L131.5 474.7M106.3 502.3L131.5 484.9M106.3 503.8L131.5 460.2M106.3 506.7L131.5 444.2M106.3 508.1L131.5 479.0M106.3 511.0L131.5 467.4M106.3 513.1L131.5 464.5" stroke="#ff1f1f" stroke-width="1.0" fill="none"/>
<path d="M106.3 474.1h0M131.5 477.6h0M106.3 474.7h0M131.5 467.4h0M106.3 476.1h0M131.5 486.3h0M106.3 479.0h0M131.5 464.5h0M106.3 480.5h0M131.5 471.8h0M106.3 482.0h0M131.5 483.4h0M106.3 483.4h0M131.5 473.2h0M106.3 486.3h0M131.5 463.1h0M106.3 487.8h0M131.5 500.8h0M106.3 489.2h0M131.5 476.1h0M106.3 490.7h0M131.5 497.9h0M106.3 492.1h0M131.5 466.0h0M106.3 493.6h0M131.5 454.3h0M106.3 495.0h0M131.5 470.3h0M106.3 496.5h0M131.5 480.5h0M106.3 497.9h0M131.5 448.5h0M106.3 499.4h0M131.5 468.9h0M106.3 500.8h0M131.5 474.7h0M106.3 502.3h0M131.5 484.9h0M106.3 503.8h0M131.5 460.2h0M106.3 506.7h0M131.5 444.2h0M106.3 508.1h0M131.5 479.0h0M106.3 511.0h0M131.5 467.4h0M106.3 513.1h0M131.5 464.5h0" stroke="#222" stroke-width="1.6" stroke-linecap="round" fill="none"/>
<text x="73" y="536.8" font-size="6.3" text-anchor="middle" font-family="Liberation Sans, sans-serif" fill="#333">Sample</text>
<text x="73" y="543.8" font-size="6.3" text-anchor="middle" font-family="Liberation Sans, sans-serif" fill="#333">(median)</text>
<text x="106.1" y="536.8" font-size="6.3" text-anchor="middle" font-family="Liberation Sans, sans-serif" fill="#333">NAT</text>
<text x="106.1" y="543.8" font-size="6.3" text-anchor="middle" font-family="Liberation Sans, sans-serif" fill="#333">(-0.4)</text>
<text x="132.8" y="536.8" font-size="6.3" text-anchor="middle" font-family="Liberation Sans, sans-serif" fill="#333">Tumor</text>
<text x="132.8" y="543.8" font-size="6.3" text-anchor="middle" font-family="Liberation Sans, sans-serif" fill="#333">(0.4)</text>
<text x="223.6" y="425.6" font-size="11" font-family="Liberation Sans, sans-serif" fill="#111">E</text>
<text x="333" y="431.8" font-size="6.7" text-anchor="middle" font-family="Liberation Sans, sans-serif" fill="#222">GSE42743_Oral cavity</text>
<text x="310.6" y="442.2" font-size="6.0" font-weight="bold" font-family="Liberation Sans, sans-serif" fill="#222">Overall</text>
<text x="336.5" y="442.2" font-size="6.0" font-weight="bold" font-family="Liberation Sans, sans-serif" fill="#222">Survival</text>
<path d="M283.2 451.6V528.1H386.3" stroke="#222" stroke-width="1.2" fill="none"/>
<path d="M280.2 528.10H283.2" stroke="#222" stroke-width="0.8"/>
<text x="279.6" y="530.10" font-size="5.4" font-weight="bold" text-anchor="end" font-family="Liberation Sans, sans-serif" fill="#222">0</text>
<path d="M280.2 512.88H283.2" stroke="#222" stroke-width="0.8"/>
<text x="279.6" y="514.88" font-size="5.4" font-weight="bold" text-anchor="end" font-family="Liberation Sans, sans-serif" fill="#222">20</text>
<path d="M280.2 497.66H283.2" stroke="#222" stroke-width="0.8"/>
<text x="279.6" y="499.66" font-size="5.4" font-weight="bold" text-anchor="end" font-family="Liberation Sans, sans-serif" fill="#222">40</text>
<path d="M280.2 482.44H283.2" stroke="#222" stroke-width="0.8"/>
<text x="279.6" y="484.44" font-size="5.4" font-weight="bold" text-anchor="end" font-family="Liberation Sans, sans-serif" fill="#222">60</text>
<path d="M280.2 467.22H283.2" stroke="#222" stroke-width="0.8"/>
<text x="279.6" y="469.22" font-size="5.4" font-weight="bold" text-anchor="end" font-family="Liberation Sans, sans-serif" fill="#222">80</text>
<path d="M280.2 452.00H283.2" stroke="#222" stroke-width="0.8"/>
<text x="279.6" y="454.00" font-size="5.4" font-weight="bold" text-anchor="end" font-family="Liberation Sans, sans-serif" fill="#222">100</text>
<path d="M283.20 528.1V530.8" stroke="#222" stroke-width="0.8"/>
<text x="283.20" y="538.0" font-size="5.4" font-weight="bold" text-anchor="middle" font-family="Liberation Sans, sans-serif" fill="#222">0</text>
<path d="M308.91 528.1V530.8" stroke="#222" stroke-width="0.8"/>
<text x="308.91" y="538.0" font-size="5.4" font-weight="bold" text-anchor="middle" font-family="Liberation Sans, sans-serif" fill="#222">30</text>
<path d="M334.62 528.1V530.8" stroke="#222" stroke-width="0.8"/>
<text x="334.62" y="538.0" font-size="5.4" font-weight="bold" text-anchor="middle" font-family="Liberation Sans, sans-serif" fill="#222">60</text>
<path d="M360.33 528.1V530.8" stroke="#222" stroke-width="0.8"/>
<text x="360.33" y="538.0" font-size="5.4" font-weight="bold" text-anchor="middle" font-family="Liberation Sans, sans-serif" fill="#222">90</text>
<path d="M386.04 528.1V530.8" stroke="#222" stroke-width="0.8"/>
<text x="386.04" y="538.0" font-size="5.4" font-weight="bold" text-anchor="middle" font-family="Liberation Sans, sans-serif" fill="#222">120</text>
<text x="333.6" y="547.0" font-size="5.7" font-weight="bold" text-anchor="middle" font-family="Liberation Sans, sans-serif" fill="#222">Months</text>
<text transform="translate(267.3 489) rotate(-90)" font-size="6.4" font-weight="bold" text-anchor="middle" font-family="Liberation Sans, sans-serif" fill="#222">Percent survival</text>
<path d="M283.20 452.00H287.23V452.76H288.17V455.04H290.57V458.85H294.26V461.13H296.65V463.42H300.34V466.46H302.91V469.50H305.48V473.31H308.05V477.11H310.62V480.16H313.19V483.96H326.48V490.05H329.48V495.38H343.19V506.03H359.47V520.49" stroke="#3a3aa8" stroke-width="0.9" fill="none"/>
<path d="M283.20 452.00H283.63V459.99H284.91V464.18H286.37V467.98H290.23V470.64H293.06V476.35H293.91V480.16H296.06V483.51H298.63V485.03H300.34V486.78H301.20V495.83H303.34V501.85H309.17V512.50H320.05V517.07H324.34V515.92" stroke="#ee2424" stroke-width="0.9" fill="none"/>
<path d="M289.20 455.04h0M291.60 458.85h0M295.28 461.13h0M297.68 463.42h0M301.37 466.46h0M303.94 469.50h0M306.51 473.31h0M309.08 477.11h0M311.65 480.16h0M314.22 483.96h0M327.51 490.05h0M330.51 495.38h0M344.22 506.03h0" stroke="#3a3aa8" stroke-width="1.6" stroke-linecap="round"/>
<path d="M287.40 467.98h0M291.26 470.64h0M297.08 483.51h0M304.37 501.85h0M310.20 512.50h0M321.08 517.07h0" stroke="#ee2424" stroke-width="1.6" stroke-linecap="round"/>
<path d="M336.6 453.6H343.7" stroke="#ee2424" stroke-width="0.8"/>
<path d="M339.4 454.3l0.9-1.6l0.9 1.6z" fill="#ee2424"/>
<text x="347.3" y="455.5" font-size="4.7" font-family="Liberation Sans, sans-serif" fill="#333">high HPRT1 group</text>
<path d="M336.6 464.0H343.7" stroke="#3a3aa8" stroke-width="0.8"/>
<path d="M339.4 464.7l0.9-1.6l0.9 1.6z" fill="#3a3aa8"/>
<text x="347.3" y="465.9" font-size="4.7" font-family="Liberation Sans, sans-serif" fill="#333">low HPRT1 group</text>
<text x="342" y="478.4" font-size="5.0" font-family="Liberation Sans, sans-serif" fill="#333">n=76</text>
<text x="342" y="486.2" font-size="5.0" font-weight="bold" font-family="Liberation Sans, sans-serif" fill="#ee2424">P=0.0005</text>
</svg></body></html>
